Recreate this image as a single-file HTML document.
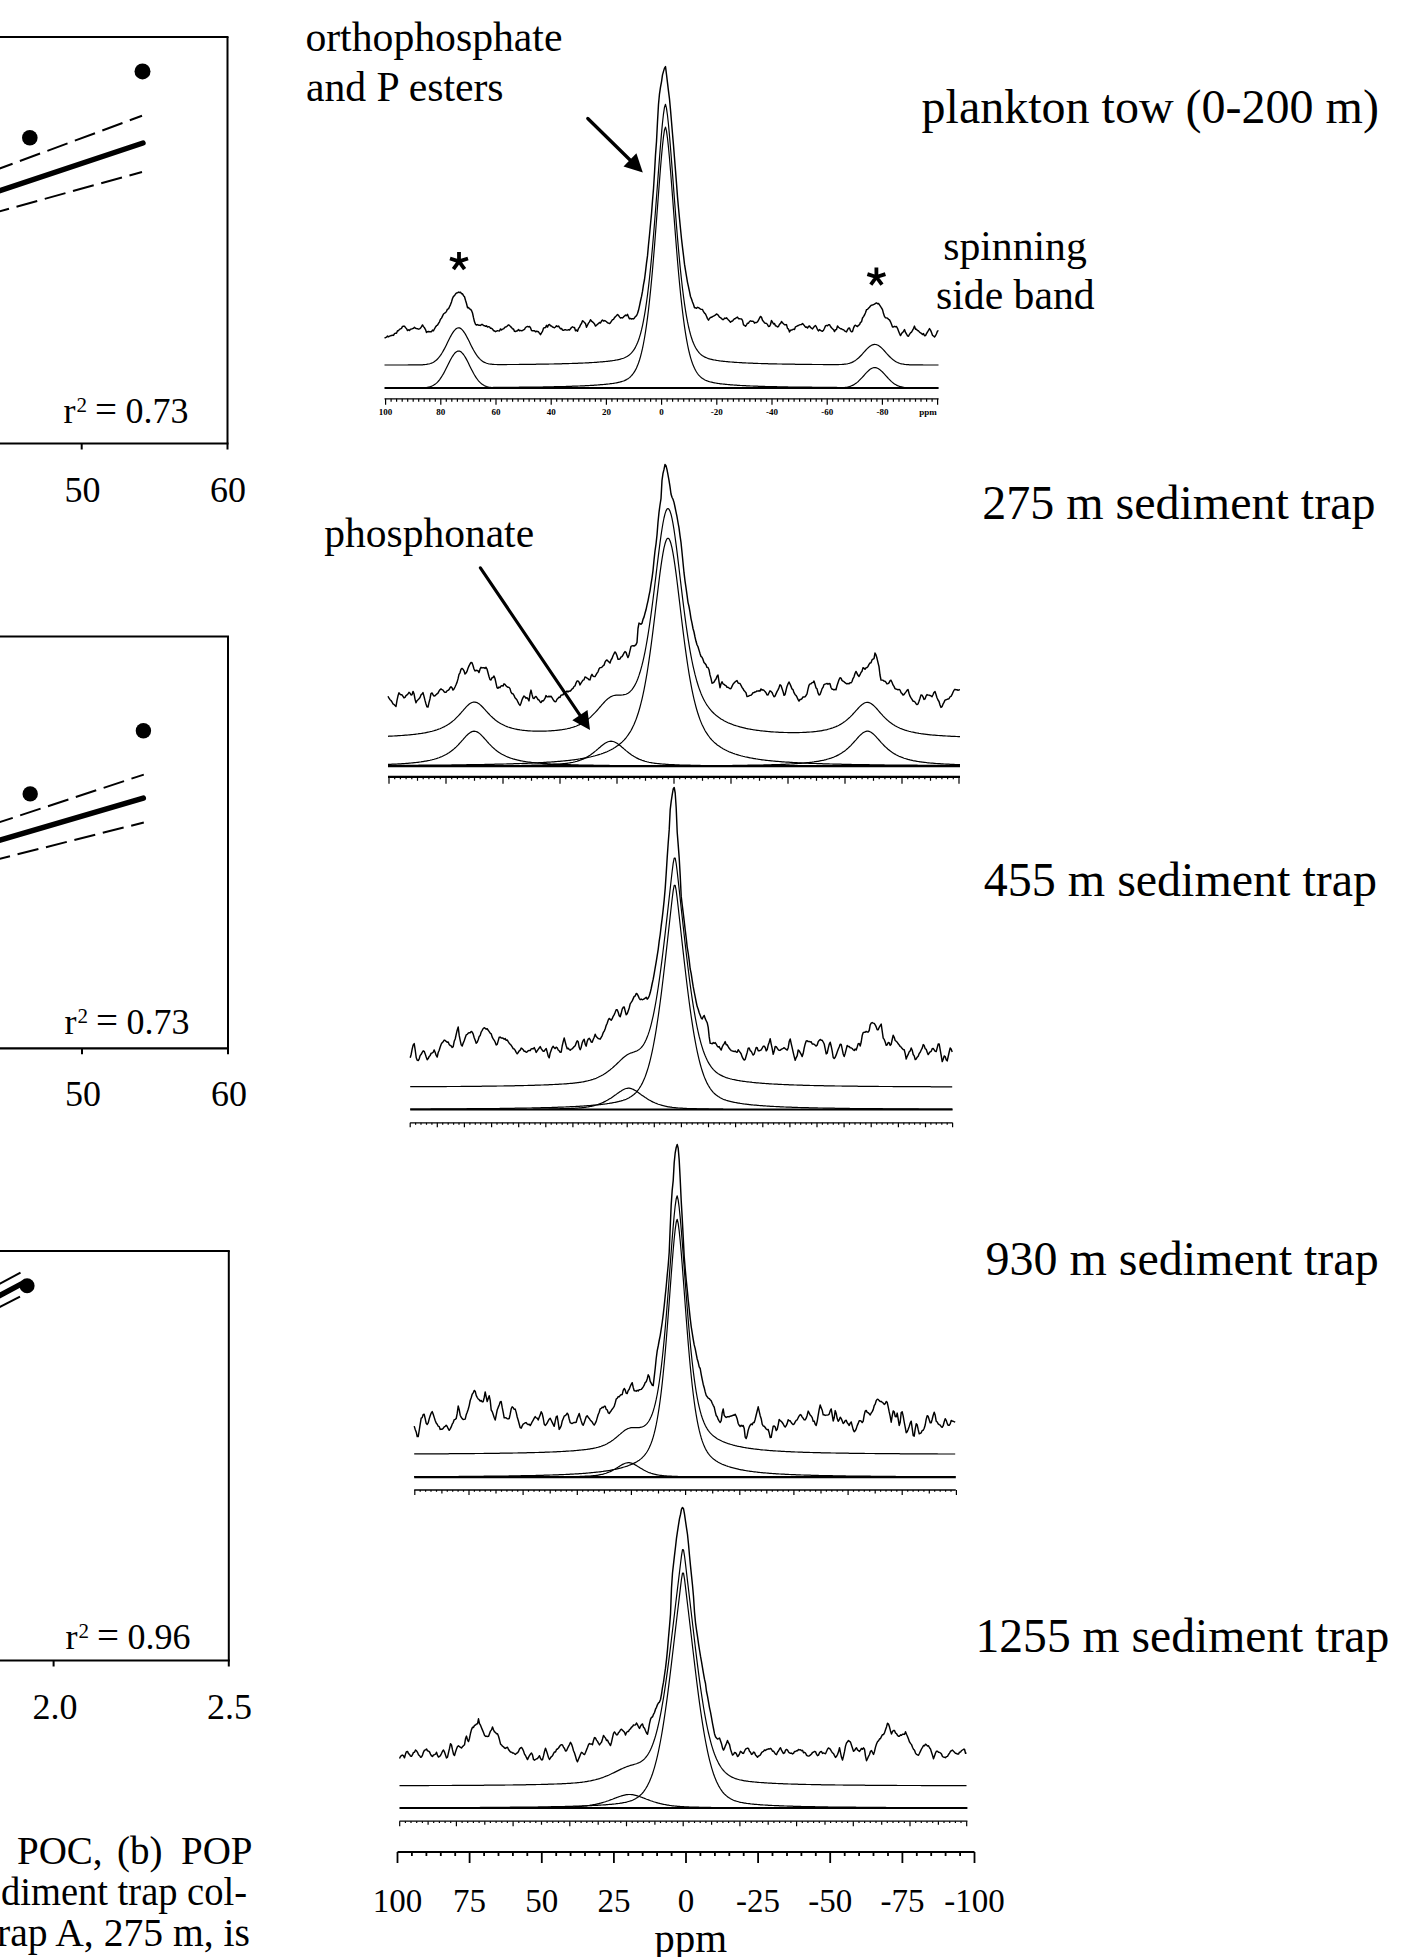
<!DOCTYPE html><html><head><meta charset="utf-8"><style>html,body{margin:0;padding:0;background:#fff;overflow:hidden}svg{display:block}</style></head><body><svg width="1407" height="1957" viewBox="0 0 1407 1957">
<rect width="1407" height="1957" fill="#fff"/>
<line x1="0" y1="37" x2="228.5" y2="37" stroke="#000" stroke-width="2"/>
<line x1="227.5" y1="37" x2="227.5" y2="449.5" stroke="#000" stroke-width="2"/>
<line x1="0" y1="443.5" x2="228.5" y2="443.5" stroke="#000" stroke-width="2.2"/>
<line x1="81.7" y1="443.5" x2="81.7" y2="449.5" stroke="#000" stroke-width="2"/>
<circle cx="142.5" cy="71.4" r="8" fill="#000"/>
<circle cx="29.8" cy="137.7" r="7.8" fill="#000"/>
<line x1="-5" y1="192.3" x2="143" y2="143" stroke="#000" stroke-width="5.5" stroke-linecap="round"/>
<line x1="142" y1="115.8" x2="-5" y2="170.2" stroke="#000" stroke-width="2" stroke-dasharray="21.5 7.8" stroke-dashoffset="8.5"/>
<line x1="142" y1="172" x2="-5" y2="212.6" stroke="#000" stroke-width="2" stroke-dasharray="21.5 7.8" stroke-dashoffset="8.5"/>
<text x="63.5" y="423.0" font-family='"Liberation Serif", serif' font-size="36" text-anchor="start" >r</text>
<text x="76.5" y="412.0" font-family='"Liberation Serif", serif' font-size="21" text-anchor="start" >2</text>
<text x="95.0" y="423.0" font-family='"Liberation Serif", serif' font-size="39" text-anchor="start" >=</text>
<text x="125.5" y="423.0" font-family='"Liberation Serif", serif' font-size="36" text-anchor="start" >0.73</text>
<text x="82.5" y="502.0" font-family='"Liberation Serif", serif' font-size="36" text-anchor="middle" >50</text>
<text x="228.0" y="502.0" font-family='"Liberation Serif", serif' font-size="36" text-anchor="middle" >60</text>
<line x1="0" y1="636.5" x2="229" y2="636.5" stroke="#000" stroke-width="2"/>
<line x1="228" y1="636.5" x2="228" y2="1054.3" stroke="#000" stroke-width="2"/>
<line x1="0" y1="1048.3" x2="229" y2="1048.3" stroke="#000" stroke-width="2.2"/>
<line x1="82" y1="1048.3" x2="82" y2="1054.3" stroke="#000" stroke-width="2"/>
<circle cx="143.4" cy="730.8" r="7.7" fill="#000"/>
<circle cx="30.2" cy="793.9" r="7.7" fill="#000"/>
<line x1="-5" y1="841.7" x2="143.3" y2="798.1" stroke="#000" stroke-width="5.5" stroke-linecap="round"/>
<line x1="143.8" y1="774.6" x2="-5" y2="823.7" stroke="#000" stroke-width="2" stroke-dasharray="21.5 7.8" stroke-dashoffset="8.5"/>
<line x1="143.8" y1="822.5" x2="-5" y2="860" stroke="#000" stroke-width="2" stroke-dasharray="21.5 7.8" stroke-dashoffset="8.5"/>
<text x="64.5" y="1034.0" font-family='"Liberation Serif", serif' font-size="36" text-anchor="start" >r</text>
<text x="77.5" y="1023.0" font-family='"Liberation Serif", serif' font-size="21" text-anchor="start" >2</text>
<text x="96.0" y="1034.0" font-family='"Liberation Serif", serif' font-size="39" text-anchor="start" >=</text>
<text x="126.5" y="1034.0" font-family='"Liberation Serif", serif' font-size="36" text-anchor="start" >0.73</text>
<text x="83.0" y="1106.0" font-family='"Liberation Serif", serif' font-size="36" text-anchor="middle" >50</text>
<text x="229.0" y="1106.0" font-family='"Liberation Serif", serif' font-size="36" text-anchor="middle" >60</text>
<line x1="0" y1="1251" x2="229.8" y2="1251" stroke="#000" stroke-width="2"/>
<line x1="228.8" y1="1251" x2="228.8" y2="1666.5" stroke="#000" stroke-width="2"/>
<line x1="0" y1="1660.5" x2="229.8" y2="1660.5" stroke="#000" stroke-width="2.2"/>
<line x1="53.6" y1="1660.5" x2="53.6" y2="1666.5" stroke="#000" stroke-width="2"/>
<circle cx="27.1" cy="1285.8" r="7.5" fill="#000"/>
<line x1="-5" y1="1298.2" x2="22" y2="1283.6" stroke="#000" stroke-width="5.5" stroke-linecap="round"/>
<line x1="20.5" y1="1272.6" x2="-5" y2="1286.2" stroke="#000" stroke-width="2" stroke-dasharray="100 0" stroke-dashoffset="0"/>
<line x1="20" y1="1296.7" x2="-5" y2="1309.5" stroke="#000" stroke-width="2" stroke-dasharray="100 0" stroke-dashoffset="0"/>
<text x="65.5" y="1648.5" font-family='"Liberation Serif", serif' font-size="36" text-anchor="start" >r</text>
<text x="78.5" y="1637.5" font-family='"Liberation Serif", serif' font-size="21" text-anchor="start" >2</text>
<text x="97.0" y="1648.5" font-family='"Liberation Serif", serif' font-size="39" text-anchor="start" >=</text>
<text x="127.5" y="1648.5" font-family='"Liberation Serif", serif' font-size="36" text-anchor="start" >0.96</text>
<text x="55.0" y="1718.5" font-family='"Liberation Serif", serif' font-size="36" text-anchor="middle" >2.0</text>
<text x="229.5" y="1718.5" font-family='"Liberation Serif", serif' font-size="36" text-anchor="middle" >2.5</text>
<text x="17.0" y="1863.7" font-family='"Liberation Serif", serif' font-size="39" text-anchor="start" >POC,</text>
<text x="117.0" y="1863.7" font-family='"Liberation Serif", serif' font-size="39" text-anchor="start" >(b)</text>
<text x="181.0" y="1863.7" font-family='"Liberation Serif", serif' font-size="39" text-anchor="start" >POP</text>
<text x="1.0" y="1905.3" font-family='"Liberation Serif", serif' font-size="39" text-anchor="start" textLength="246.0" lengthAdjust="spacingAndGlyphs" >diment trap col-</text>
<text x="-3.0" y="1945.8" font-family='"Liberation Serif", serif' font-size="39" text-anchor="start" textLength="253.0" lengthAdjust="spacingAndGlyphs" >rap A, 275 m, is</text>
<line x1="384.5" y1="398.8" x2="938.6" y2="398.8" stroke="#000" stroke-width="1.3"/>
<path d="M385.6,398.8v6 M391.1,398.8v3 M396.6,398.8v3 M402.2,398.8v3 M407.7,398.8v3 M413.2,398.8v3 M418.7,398.8v3 M424.2,398.8v3 M429.8,398.8v3 M435.3,398.8v3 M440.8,398.8v6 M446.3,398.8v3 M451.8,398.8v3 M457.4,398.8v3 M462.9,398.8v3 M468.4,398.8v3 M473.9,398.8v3 M479.4,398.8v3 M485.0,398.8v3 M490.5,398.8v3 M496.0,398.8v6 M501.5,398.8v3 M507.0,398.8v3 M512.6,398.8v3 M518.1,398.8v3 M523.6,398.8v3 M529.1,398.8v3 M534.6,398.8v3 M540.2,398.8v3 M545.7,398.8v3 M551.2,398.8v6 M556.7,398.8v3 M562.2,398.8v3 M567.8,398.8v3 M573.3,398.8v3 M578.8,398.8v3 M584.3,398.8v3 M589.8,398.8v3 M595.4,398.8v3 M600.9,398.8v3 M606.4,398.8v6 M611.9,398.8v3 M617.4,398.8v3 M623.0,398.8v3 M628.5,398.8v3 M634.0,398.8v3 M639.5,398.8v3 M645.0,398.8v3 M650.6,398.8v3 M656.1,398.8v3 M661.6,398.8v6 M667.1,398.8v3 M672.6,398.8v3 M678.2,398.8v3 M683.7,398.8v3 M689.2,398.8v3 M694.7,398.8v3 M700.2,398.8v3 M705.8,398.8v3 M711.3,398.8v3 M716.8,398.8v6 M722.3,398.8v3 M727.8,398.8v3 M733.4,398.8v3 M738.9,398.8v3 M744.4,398.8v3 M749.9,398.8v3 M755.4,398.8v3 M761.0,398.8v3 M766.5,398.8v3 M772.0,398.8v6 M777.5,398.8v3 M783.0,398.8v3 M788.6,398.8v3 M794.1,398.8v3 M799.6,398.8v3 M805.1,398.8v3 M810.6,398.8v3 M816.2,398.8v3 M821.7,398.8v3 M827.2,398.8v6 M832.7,398.8v3 M838.2,398.8v3 M843.8,398.8v3 M849.3,398.8v3 M854.8,398.8v3 M860.3,398.8v3 M865.8,398.8v3 M871.4,398.8v3 M876.9,398.8v3 M882.4,398.8v6 M887.9,398.8v3 M893.4,398.8v3 M899.0,398.8v3 M904.5,398.8v3 M910.0,398.8v3 M915.5,398.8v3 M921.0,398.8v3 M926.6,398.8v3 M932.1,398.8v3 M937.6,398.8v6" stroke="#000" stroke-width="1.2" fill="none"/>
<line x1="384.5" y1="388.0" x2="938.6" y2="388.0" stroke="#000" stroke-width="2.2"/>
<polyline points="462.5,387.6 463.5,387.6 464.5,387.6 465.5,387.6 466.5,387.6 467.5,387.6 468.5,387.6 469.5,387.6 470.5,387.6 471.5,387.6 472.5,387.6 473.5,387.6 474.5,387.6 475.5,387.5 476.5,387.5 477.5,387.5 478.5,387.5 479.5,387.5 480.5,387.5 481.5,387.5 482.5,387.5 483.5,387.5 484.5,387.5 485.5,387.5 486.5,387.5 487.5,387.5 488.5,387.5 489.5,387.5 490.5,387.5 491.5,387.5 492.5,387.5 493.5,387.4 494.5,387.4 495.5,387.4 496.5,387.4 497.5,387.4 498.5,387.4 499.5,387.4 500.5,387.4 501.5,387.4 502.5,387.4 503.5,387.4 504.5,387.4 505.5,387.4 506.5,387.4 507.5,387.4 508.5,387.3 509.5,387.3 510.5,387.3 511.5,387.3 512.5,387.3 513.5,387.3 514.5,387.3 515.5,387.3 516.5,387.3 517.5,387.3 518.5,387.3 519.5,387.2 520.5,387.2 521.5,387.2 522.5,387.2 523.5,387.2 524.5,387.2 525.5,387.2 526.5,387.2 527.5,387.2 528.5,387.1 529.5,387.1 530.5,387.1 531.5,387.1 532.5,387.1 533.5,387.1 534.5,387.1 535.5,387.1 536.5,387.0 537.5,387.0 538.5,387.0 539.5,387.0 540.5,387.0 541.5,387.0 542.5,387.0 543.5,386.9 544.5,386.9 545.5,386.9 546.5,386.9 547.5,386.9 548.5,386.9 549.5,386.8 550.5,386.8 551.5,386.8 552.5,386.8 553.5,386.8 554.5,386.7 555.5,386.7 556.5,386.7 557.5,386.7 558.5,386.6 559.5,386.6 560.5,386.6 561.5,386.6 562.5,386.5 563.5,386.5 564.5,386.5 565.5,386.5 566.5,386.4 567.5,386.4 568.5,386.4 569.5,386.3 570.5,386.3 571.5,386.3 572.5,386.2 573.5,386.2 574.5,386.2 575.5,386.1 576.5,386.1 577.5,386.1 578.5,386.0 579.5,386.0 580.5,385.9 581.5,385.9 582.5,385.9 583.5,385.8 584.5,385.8 585.5,385.7 586.5,385.7 587.5,385.6 588.5,385.6 589.5,385.5 590.5,385.4 591.5,385.4 592.5,385.3 593.5,385.3 594.5,385.2 595.5,385.1 596.5,385.1 597.5,385.0 598.5,384.9 599.5,384.8 600.5,384.7 601.5,384.7 602.5,384.6 603.5,384.5 604.5,384.4 605.5,384.3 606.5,384.2 607.5,384.1 608.5,384.0 609.5,383.9 610.5,383.7 611.5,383.6 612.5,383.5 613.5,383.3 614.5,383.2 615.5,383.0 616.5,382.8 617.5,382.6 618.5,382.4 619.5,382.2 620.5,381.9 621.5,381.6 622.5,381.3 623.5,381.0 624.5,380.6 625.5,380.1 626.5,379.6 627.5,379.0 628.5,378.4 629.5,377.6 630.5,376.7 631.5,375.7 632.5,374.5 633.5,373.2 634.5,371.7 635.5,369.9 636.5,367.9 637.5,365.6 638.5,363.0 639.5,360.0 640.5,356.6 641.5,352.7 642.5,348.4 643.5,343.5 644.5,338.0 645.5,331.9 646.5,325.2 647.5,317.8 648.5,309.7 649.5,300.8 650.5,291.2 651.5,280.9 652.5,269.9 653.5,258.3 654.5,246.1 655.5,233.3 656.5,220.3 657.5,207.0 658.5,193.7 659.5,180.6 660.5,168.0 661.5,156.2 662.5,145.6 663.5,136.6 664.5,129.9 665.5,127.1 666.5,131.1 667.5,138.3 668.5,147.6 669.5,158.5 670.5,170.5 671.5,183.2 672.5,196.4 673.5,209.7 674.5,222.9 675.5,235.9 676.5,248.5 677.5,260.7 678.5,272.2 679.5,283.0 680.5,293.2 681.5,302.6 682.5,311.3 683.5,319.3 684.5,326.6 685.5,333.2 686.5,339.1 687.5,344.5 688.5,349.3 689.5,353.5 690.5,357.3 691.5,360.6 692.5,363.5 693.5,366.1 694.5,368.3 695.5,370.3 696.5,372.0 697.5,373.5 698.5,374.8 699.5,375.9 700.5,376.9 701.5,377.8 702.5,378.5 703.5,379.1 704.5,379.7 705.5,380.2 706.5,380.6 707.5,381.0 708.5,381.4 709.5,381.7 710.5,382.0 711.5,382.2 712.5,382.4 713.5,382.7 714.5,382.8 715.5,383.0 716.5,383.2 717.5,383.3 718.5,383.5 719.5,383.6 720.5,383.8 721.5,383.9 722.5,384.0 723.5,384.1 724.5,384.2 725.5,384.3 726.5,384.4 727.5,384.5 728.5,384.6 729.5,384.7 730.5,384.8 731.5,384.8 732.5,384.9 733.5,385.0 734.5,385.1 735.5,385.1 736.5,385.2 737.5,385.3 738.5,385.3 739.5,385.4 740.5,385.5 741.5,385.5 742.5,385.6 743.5,385.6 744.5,385.7 745.5,385.7 746.5,385.8 747.5,385.8 748.5,385.9 749.5,385.9 750.5,386.0 751.5,386.0 752.5,386.0 753.5,386.1 754.5,386.1 755.5,386.1 756.5,386.2 757.5,386.2 758.5,386.3 759.5,386.3 760.5,386.3 761.5,386.4 762.5,386.4 763.5,386.4 764.5,386.4 765.5,386.5 766.5,386.5 767.5,386.5 768.5,386.6 769.5,386.6 770.5,386.6 771.5,386.6 772.5,386.6 773.5,386.7 774.5,386.7 775.5,386.7 776.5,386.7 777.5,386.8 778.5,386.8 779.5,386.8 780.5,386.8 781.5,386.8 782.5,386.9 783.5,386.9 784.5,386.9 785.5,386.9 786.5,386.9 787.5,386.9 788.5,387.0 789.5,387.0 790.5,387.0 791.5,387.0 792.5,387.0 793.5,387.0 794.5,387.0 795.5,387.1 796.5,387.1 797.5,387.1 798.5,387.1 799.5,387.1 800.5,387.1 801.5,387.1 802.5,387.1 803.5,387.2 804.5,387.2 805.5,387.2 806.5,387.2 807.5,387.2 808.5,387.2 809.5,387.2 810.5,387.2 811.5,387.2 812.5,387.3 813.5,387.3 814.5,387.3 815.5,387.3 816.5,387.3 817.5,387.3 818.5,387.3 819.5,387.3 820.5,387.3 821.5,387.3 822.5,387.3 823.5,387.4 824.5,387.4 825.5,387.4 826.5,387.4 827.5,387.4 828.5,387.4 829.5,387.4 830.5,387.4 831.5,387.4 832.5,387.4 833.5,387.4 834.5,387.4 835.5,387.4 836.5,387.4 837.5,387.5 838.5,387.5 839.5,387.5 840.5,387.5 841.5,387.5 842.5,387.5 843.5,387.5 844.5,387.5 845.5,387.5 846.5,387.5 847.5,387.5 848.5,387.5 849.5,387.5 850.5,387.5 851.5,387.5 852.5,387.5 853.5,387.5 854.5,387.5 855.5,387.5 856.5,387.6 857.5,387.6 858.5,387.6 859.5,387.6 860.5,387.6 861.5,387.6 862.5,387.6 863.5,387.6 864.5,387.6 865.5,387.6 866.5,387.6 867.5,387.6 868.5,387.6" fill="none" stroke="#000" stroke-width="1.2" stroke-linejoin="round" />
<polyline points="425.5,387.6 426.5,387.5 427.5,387.3 428.5,387.1 429.5,386.9 430.5,386.6 431.5,386.2 432.5,385.8 433.5,385.3 434.5,384.6 435.5,383.9 436.5,383.1 437.5,382.1 438.5,381.0 439.5,379.8 440.5,378.4 441.5,376.9 442.5,375.3 443.5,373.6 444.5,371.7 445.5,369.8 446.5,367.8 447.5,365.8 448.5,363.7 449.5,361.7 450.5,359.8 451.5,358.0 452.5,356.3 453.5,354.8 454.5,353.5 455.5,352.4 456.5,351.7 457.5,351.2 458.5,351.0 459.5,351.1 460.5,351.5 461.5,352.3 462.5,353.3 463.5,354.5 464.5,356.0 465.5,357.6 466.5,359.4 467.5,361.3 468.5,363.3 469.5,365.4 470.5,367.4 471.5,369.4 472.5,371.3 473.5,373.2 474.5,375.0 475.5,376.6 476.5,378.2 477.5,379.5 478.5,380.8 479.5,381.9 480.5,382.9 481.5,383.8 482.5,384.5 483.5,385.1 484.5,385.7 485.5,386.1 486.5,386.5 487.5,386.8 488.5,387.1 489.5,387.3 490.5,387.4 491.5,387.6 492.5,387.7" fill="none" stroke="#000" stroke-width="1.2" stroke-linejoin="round" />
<polyline points="843.5,387.6 844.5,387.5 845.5,387.4 846.5,387.3 847.5,387.1 848.5,386.8 849.5,386.6 850.5,386.2 851.5,385.8 852.5,385.4 853.5,384.9 854.5,384.3 855.5,383.6 856.5,382.9 857.5,382.1 858.5,381.2 859.5,380.2 860.5,379.2 861.5,378.2 862.5,377.1 863.5,376.0 864.5,374.8 865.5,373.7 866.5,372.7 867.5,371.6 868.5,370.7 869.5,369.8 870.5,369.1 871.5,368.5 872.5,368.0 873.5,367.7 874.5,367.6 875.5,367.6 876.5,367.8 877.5,368.2 878.5,368.7 879.5,369.4 880.5,370.2 881.5,371.1 882.5,372.0 883.5,373.1 884.5,374.2 885.5,375.3 886.5,376.4 887.5,377.5 888.5,378.6 889.5,379.6 890.5,380.6 891.5,381.6 892.5,382.4 893.5,383.2 894.5,383.9 895.5,384.5 896.5,385.1 897.5,385.6 898.5,386.0 899.5,386.4 900.5,386.7 901.5,386.9 902.5,387.1 903.5,387.3 904.5,387.5 905.5,387.6 906.5,387.7" fill="none" stroke="#000" stroke-width="1.2" stroke-linejoin="round" />
<polyline points="384.5,365.0 385.5,365.0 386.5,365.0 387.5,365.0 388.5,365.0 389.5,365.0 390.5,365.0 391.5,365.0 392.5,365.0 393.5,365.0 394.5,365.0 395.5,365.0 396.5,365.0 397.5,365.0 398.5,365.0 399.5,365.0 400.5,365.0 401.5,365.0 402.5,365.0 403.5,365.0 404.5,365.0 405.5,365.0 406.5,365.0 407.5,365.0 408.5,364.9 409.5,364.9 410.5,364.9 411.5,364.9 412.5,364.9 413.5,364.9 414.5,364.9 415.5,364.9 416.5,364.9 417.5,364.9 418.5,364.9 419.5,364.9 420.5,364.8 421.5,364.8 422.5,364.8 423.5,364.7 424.5,364.6 425.5,364.5 426.5,364.4 427.5,364.2 428.5,364.0 429.5,363.8 430.5,363.5 431.5,363.1 432.5,362.7 433.5,362.2 434.5,361.5 435.5,360.8 436.5,360.0 437.5,359.0 438.5,357.9 439.5,356.7 440.5,355.3 441.5,353.8 442.5,352.2 443.5,350.4 444.5,348.6 445.5,346.7 446.5,344.7 447.5,342.6 448.5,340.6 449.5,338.6 450.5,336.6 451.5,334.8 452.5,333.1 453.5,331.6 454.5,330.3 455.5,329.3 456.5,328.5 457.5,328.0 458.5,327.8 459.5,327.9 460.5,328.4 461.5,329.1 462.5,330.1 463.5,331.3 464.5,332.8 465.5,334.4 466.5,336.2 467.5,338.1 468.5,340.1 469.5,342.1 470.5,344.2 471.5,346.2 472.5,348.1 473.5,350.0 474.5,351.7 475.5,353.4 476.5,354.9 477.5,356.3 478.5,357.5 479.5,358.6 480.5,359.6 481.5,360.5 482.5,361.2 483.5,361.9 484.5,362.4 485.5,362.8 486.5,363.2 487.5,363.5 488.5,363.8 489.5,364.0 490.5,364.1 491.5,364.2 492.5,364.3 493.5,364.4 494.5,364.5 495.5,364.5 496.5,364.5 497.5,364.6 498.5,364.6 499.5,364.6 500.5,364.6 501.5,364.6 502.5,364.6 503.5,364.6 504.5,364.6 505.5,364.6 506.5,364.6 507.5,364.5 508.5,364.5 509.5,364.5 510.5,364.5 511.5,364.5 512.5,364.5 513.5,364.5 514.5,364.5 515.5,364.5 516.5,364.5 517.5,364.5 518.5,364.5 519.5,364.4 520.5,364.4 521.5,364.4 522.5,364.4 523.5,364.4 524.5,364.4 525.5,364.4 526.5,364.4 527.5,364.4 528.5,364.3 529.5,364.3 530.5,364.3 531.5,364.3 532.5,364.3 533.5,364.3 534.5,364.3 535.5,364.3 536.5,364.2 537.5,364.2 538.5,364.2 539.5,364.2 540.5,364.2 541.5,364.2 542.5,364.2 543.5,364.1 544.5,364.1 545.5,364.1 546.5,364.1 547.5,364.1 548.5,364.1 549.5,364.0 550.5,364.0 551.5,364.0 552.5,364.0 553.5,364.0 554.5,363.9 555.5,363.9 556.5,363.9 557.5,363.9 558.5,363.8 559.5,363.8 560.5,363.8 561.5,363.8 562.5,363.7 563.5,363.7 564.5,363.7 565.5,363.7 566.5,363.6 567.5,363.6 568.5,363.6 569.5,363.5 570.5,363.5 571.5,363.5 572.5,363.4 573.5,363.4 574.5,363.4 575.5,363.3 576.5,363.3 577.5,363.3 578.5,363.2 579.5,363.2 580.5,363.1 581.5,363.1 582.5,363.1 583.5,363.0 584.5,363.0 585.5,362.9 586.5,362.9 587.5,362.8 588.5,362.8 589.5,362.7 590.5,362.6 591.5,362.6 592.5,362.5 593.5,362.5 594.5,362.4 595.5,362.3 596.5,362.3 597.5,362.2 598.5,362.1 599.5,362.0 600.5,361.9 601.5,361.9 602.5,361.8 603.5,361.7 604.5,361.6 605.5,361.5 606.5,361.4 607.5,361.3 608.5,361.2 609.5,361.1 610.5,360.9 611.5,360.8 612.5,360.7 613.5,360.5 614.5,360.4 615.5,360.2 616.5,360.0 617.5,359.8 618.5,359.6 619.5,359.4 620.5,359.1 621.5,358.8 622.5,358.5 623.5,358.2 624.5,357.8 625.5,357.3 626.5,356.8 627.5,356.2 628.5,355.6 629.5,354.8 630.5,353.9 631.5,352.9 632.5,351.7 633.5,350.4 634.5,348.9 635.5,347.1 636.5,345.1 637.5,342.8 638.5,340.2 639.5,337.2 640.5,333.8 641.5,329.9 642.5,325.6 643.5,320.7 644.5,315.2 645.5,309.1 646.5,302.4 647.5,295.0 648.5,286.9 649.5,278.0 650.5,268.4 651.5,258.1 652.5,247.1 653.5,235.5 654.5,223.3 655.5,210.5 656.5,197.5 657.5,184.2 658.5,170.9 659.5,157.8 660.5,145.2 661.5,133.4 662.5,122.8 663.5,113.8 664.5,107.1 665.5,104.3 666.5,108.3 667.5,115.5 668.5,124.8 669.5,135.7 670.5,147.7 671.5,160.4 672.5,173.6 673.5,186.9 674.5,200.1 675.5,213.1 676.5,225.7 677.5,237.9 678.5,249.4 679.5,260.2 680.5,270.4 681.5,279.8 682.5,288.5 683.5,296.5 684.5,303.8 685.5,310.4 686.5,316.3 687.5,321.7 688.5,326.5 689.5,330.7 690.5,334.5 691.5,337.8 692.5,340.7 693.5,343.3 694.5,345.5 695.5,347.5 696.5,349.2 697.5,350.7 698.5,352.0 699.5,353.1 700.5,354.1 701.5,355.0 702.5,355.7 703.5,356.3 704.5,356.9 705.5,357.4 706.5,357.8 707.5,358.2 708.5,358.6 709.5,358.9 710.5,359.2 711.5,359.4 712.5,359.6 713.5,359.9 714.5,360.0 715.5,360.2 716.5,360.4 717.5,360.5 718.5,360.7 719.5,360.8 720.5,361.0 721.5,361.1 722.5,361.2 723.5,361.3 724.5,361.4 725.5,361.5 726.5,361.6 727.5,361.7 728.5,361.8 729.5,361.9 730.5,362.0 731.5,362.0 732.5,362.1 733.5,362.2 734.5,362.3 735.5,362.3 736.5,362.4 737.5,362.5 738.5,362.5 739.5,362.6 740.5,362.7 741.5,362.7 742.5,362.8 743.5,362.8 744.5,362.9 745.5,362.9 746.5,363.0 747.5,363.0 748.5,363.1 749.5,363.1 750.5,363.2 751.5,363.2 752.5,363.2 753.5,363.3 754.5,363.3 755.5,363.3 756.5,363.4 757.5,363.4 758.5,363.5 759.5,363.5 760.5,363.5 761.5,363.6 762.5,363.6 763.5,363.6 764.5,363.6 765.5,363.7 766.5,363.7 767.5,363.7 768.5,363.8 769.5,363.8 770.5,363.8 771.5,363.8 772.5,363.8 773.5,363.9 774.5,363.9 775.5,363.9 776.5,363.9 777.5,364.0 778.5,364.0 779.5,364.0 780.5,364.0 781.5,364.0 782.5,364.1 783.5,364.1 784.5,364.1 785.5,364.1 786.5,364.1 787.5,364.1 788.5,364.2 789.5,364.2 790.5,364.2 791.5,364.2 792.5,364.2 793.5,364.2 794.5,364.2 795.5,364.3 796.5,364.3 797.5,364.3 798.5,364.3 799.5,364.3 800.5,364.3 801.5,364.3 802.5,364.3 803.5,364.4 804.5,364.4 805.5,364.4 806.5,364.4 807.5,364.4 808.5,364.4 809.5,364.4 810.5,364.4 811.5,364.4 812.5,364.5 813.5,364.5 814.5,364.5 815.5,364.5 816.5,364.5 817.5,364.5 818.5,364.5 819.5,364.5 820.5,364.5 821.5,364.5 822.5,364.5 823.5,364.6 824.5,364.6 825.5,364.6 826.5,364.6 827.5,364.6 828.5,364.6 829.5,364.6 830.5,364.6 831.5,364.6 832.5,364.6 833.5,364.6 834.5,364.6 835.5,364.6 836.5,364.6 837.5,364.6 838.5,364.6 839.5,364.5 840.5,364.5 841.5,364.5 842.5,364.4 843.5,364.3 844.5,364.2 845.5,364.1 846.5,364.0 847.5,363.8 848.5,363.5 849.5,363.3 850.5,362.9 851.5,362.6 852.5,362.1 853.5,361.6 854.5,361.0 855.5,360.4 856.5,359.6 857.5,358.8 858.5,358.0 859.5,357.0 860.5,356.0 861.5,355.0 862.5,353.9 863.5,352.7 864.5,351.6 865.5,350.5 866.5,349.4 867.5,348.4 868.5,347.5 869.5,346.6 870.5,345.9 871.5,345.3 872.5,344.9 873.5,344.6 874.5,344.4 875.5,344.5 876.5,344.7 877.5,345.0 878.5,345.6 879.5,346.2 880.5,347.0 881.5,347.9 882.5,348.9 883.5,349.9 884.5,351.0 885.5,352.1 886.5,353.3 887.5,354.4 888.5,355.5 889.5,356.5 890.5,357.5 891.5,358.4 892.5,359.3 893.5,360.1 894.5,360.8 895.5,361.4 896.5,362.0 897.5,362.5 898.5,362.9 899.5,363.3 900.5,363.6 901.5,363.8 902.5,364.0 903.5,364.2 904.5,364.4 905.5,364.5 906.5,364.6 907.5,364.7 908.5,364.7 909.5,364.8 910.5,364.8 911.5,364.8 912.5,364.9 913.5,364.9 914.5,364.9 915.5,364.9 916.5,364.9 917.5,364.9 918.5,364.9 919.5,364.9 920.5,364.9 921.5,364.9 922.5,364.9 923.5,365.0 924.5,365.0 925.5,365.0 926.5,365.0 927.5,365.0 928.5,365.0 929.5,365.0 930.5,365.0 931.5,365.0 932.5,365.0 933.5,365.0 934.5,365.0 935.5,365.0 936.5,365.0 937.5,365.0 938.5,365.0" fill="none" stroke="#000" stroke-width="1.2" stroke-linejoin="round" />
<polyline points="384.5,337.8 385.5,337.7 386.5,337.2 387.5,336.1 388.5,336.8 389.5,336.2 390.5,335.8 391.5,335.5 392.5,335.2 393.5,335.4 394.5,333.6 395.5,333.2 396.5,333.2 397.5,330.7 398.5,330.7 399.5,329.3 400.5,328.8 401.5,328.3 402.5,326.4 403.5,326.1 404.5,326.2 405.5,327.7 406.5,328.5 407.5,330.6 408.5,329.7 409.5,330.5 410.5,329.1 411.5,329.1 412.5,328.6 413.5,328.3 414.5,327.3 415.5,328.2 416.5,328.5 417.5,328.7 418.5,329.2 419.5,328.8 420.5,328.2 421.5,326.7 422.5,324.9 423.5,326.6 424.5,327.8 425.5,329.6 426.5,332.4 427.5,331.7 428.5,331.5 429.5,331.8 430.5,331.7 431.5,331.7 432.5,330.1 433.5,330.8 434.5,328.8 435.5,327.0 436.5,325.7 437.5,325.2 438.5,323.4 439.5,321.8 440.5,319.3 441.5,318.1 442.5,316.1 443.5,314.0 444.5,313.2 445.5,312.7 446.5,311.3 447.5,309.1 448.5,308.9 449.5,306.8 450.5,304.6 451.5,301.9 452.5,298.5 453.5,296.4 454.5,295.7 455.5,294.0 456.5,292.9 457.5,292.8 458.5,292.1 459.5,292.5 460.5,292.2 461.5,293.7 462.5,293.8 463.5,295.7 464.5,296.7 465.5,300.3 466.5,303.5 467.5,307.7 468.5,307.5 469.5,308.9 470.5,309.2 471.5,310.5 472.5,313.0 473.5,317.7 474.5,321.8 475.5,324.2 476.5,325.1 477.5,324.6 478.5,325.2 479.5,325.2 480.5,325.4 481.5,324.4 482.5,324.5 483.5,325.5 484.5,325.6 485.5,326.3 486.5,325.8 487.5,327.1 488.5,326.7 489.5,326.9 490.5,328.2 491.5,328.3 492.5,329.1 493.5,330.5 494.5,331.0 495.5,331.7 496.5,331.1 497.5,330.7 498.5,330.9 499.5,331.0 500.5,328.9 501.5,329.9 502.5,329.1 503.5,328.9 504.5,327.8 505.5,326.9 506.5,326.7 507.5,325.8 508.5,324.9 509.5,325.4 510.5,326.6 511.5,327.4 512.5,328.8 513.5,329.0 514.5,331.4 515.5,331.5 516.5,331.0 517.5,330.7 518.5,329.5 519.5,330.7 520.5,330.4 521.5,330.7 522.5,330.6 523.5,329.8 524.5,329.3 525.5,327.5 526.5,326.9 527.5,326.4 528.5,326.9 529.5,326.5 530.5,327.7 531.5,330.5 532.5,330.7 533.5,330.6 534.5,330.7 535.5,331.8 536.5,331.2 537.5,331.5 538.5,331.8 539.5,333.3 540.5,334.7 541.5,332.8 542.5,331.4 543.5,328.2 544.5,327.7 545.5,327.6 546.5,325.3 547.5,327.1 548.5,324.9 549.5,324.4 550.5,325.7 551.5,326.0 552.5,327.0 553.5,327.3 554.5,327.8 555.5,327.0 556.5,325.7 557.5,326.6 558.5,326.0 559.5,327.5 560.5,328.7 561.5,328.4 562.5,330.0 563.5,330.3 564.5,329.8 565.5,329.7 566.5,330.1 567.5,330.1 568.5,329.7 569.5,330.0 570.5,328.8 571.5,327.5 572.5,326.7 573.5,327.5 574.5,327.5 575.5,330.7 576.5,330.1 577.5,331.2 578.5,328.4 579.5,327.2 580.5,324.9 581.5,323.5 582.5,320.8 583.5,321.4 584.5,322.6 585.5,323.5 586.5,327.3 587.5,325.2 588.5,323.1 589.5,321.9 590.5,319.7 591.5,321.1 592.5,321.9 593.5,322.8 594.5,323.9 595.5,326.1 596.5,325.3 597.5,324.2 598.5,323.6 599.5,322.5 600.5,323.0 601.5,321.1 602.5,320.0 603.5,321.1 604.5,320.6 605.5,321.0 606.5,321.8 607.5,322.8 608.5,323.1 609.5,323.6 610.5,322.7 611.5,321.2 612.5,319.7 613.5,319.4 614.5,317.7 615.5,316.5 616.5,315.7 617.5,314.5 618.5,315.3 619.5,316.9 620.5,318.1 621.5,317.7 622.5,317.9 623.5,316.9 624.5,316.0 625.5,315.1 626.5,315.7 627.5,314.3 628.5,316.9 629.5,318.8 630.5,318.4 631.5,319.1 632.5,318.7 633.5,318.9 634.5,318.0 635.5,316.3 636.5,315.8 637.5,313.5 638.5,310.3 639.5,305.8 640.5,301.0 641.5,296.7 642.5,291.4 643.5,284.6 644.5,279.5 645.5,271.7 646.5,263.2 647.5,255.9 648.5,244.8 649.5,235.0 650.5,224.3 651.5,213.9 652.5,200.8 653.5,188.7 654.5,173.0 655.5,154.9 656.5,141.5 657.5,121.8 658.5,104.3 659.5,93.8 660.5,87.1 661.5,81.8 662.5,74.9 663.5,71.4 664.5,68.1 665.5,66.6 666.5,74.5 667.5,82.9 668.5,91.1 669.5,99.0 670.5,109.9 671.5,121.7 672.5,133.7 673.5,145.4 674.5,158.0 675.5,170.6 676.5,183.4 677.5,196.9 678.5,208.0 679.5,218.5 680.5,228.7 681.5,238.8 682.5,247.3 683.5,255.5 684.5,264.2 685.5,270.4 686.5,276.3 687.5,282.3 688.5,286.9 689.5,291.7 690.5,296.5 691.5,299.1 692.5,302.0 693.5,304.5 694.5,307.7 695.5,307.8 696.5,308.3 697.5,307.3 698.5,307.7 699.5,308.3 700.5,309.1 701.5,309.4 702.5,309.5 703.5,311.7 704.5,313.1 705.5,314.0 706.5,316.2 707.5,318.6 708.5,320.2 709.5,318.5 710.5,317.5 711.5,317.3 712.5,316.6 713.5,316.1 714.5,315.7 715.5,314.9 716.5,313.9 717.5,314.6 718.5,315.6 719.5,317.1 720.5,317.6 721.5,318.5 722.5,319.6 723.5,319.6 724.5,318.1 725.5,318.4 726.5,317.8 727.5,318.9 728.5,320.1 729.5,321.1 730.5,322.3 731.5,321.3 732.5,321.1 733.5,319.8 734.5,318.8 735.5,318.6 736.5,317.6 737.5,317.1 738.5,318.7 739.5,318.7 740.5,318.9 741.5,319.0 742.5,320.4 743.5,324.8 744.5,325.4 745.5,326.3 746.5,324.8 747.5,323.2 748.5,323.2 749.5,321.5 750.5,320.8 751.5,321.3 752.5,321.3 753.5,321.4 754.5,323.2 755.5,322.5 756.5,322.6 757.5,321.8 758.5,320.2 759.5,318.1 760.5,316.4 761.5,317.3 762.5,320.3 763.5,321.4 764.5,322.9 765.5,323.3 766.5,323.4 767.5,324.6 768.5,326.5 769.5,326.3 770.5,324.5 771.5,320.5 772.5,322.2 773.5,324.0 774.5,323.5 775.5,325.9 776.5,326.0 777.5,326.9 778.5,326.5 779.5,324.2 780.5,323.6 781.5,321.5 782.5,322.7 783.5,323.8 784.5,324.7 785.5,324.8 786.5,324.6 787.5,328.4 788.5,329.1 789.5,331.9 790.5,330.3 791.5,330.0 792.5,329.7 793.5,329.2 794.5,329.6 795.5,326.8 796.5,326.4 797.5,325.8 798.5,325.5 799.5,324.9 800.5,324.6 801.5,324.6 802.5,323.6 803.5,324.6 804.5,325.8 805.5,327.2 806.5,327.0 807.5,328.1 808.5,326.5 809.5,326.0 810.5,327.4 811.5,328.2 812.5,328.9 813.5,327.6 814.5,326.3 815.5,325.5 816.5,327.2 817.5,329.5 818.5,330.9 819.5,329.6 820.5,330.4 821.5,331.0 822.5,331.2 823.5,330.2 824.5,328.2 825.5,325.9 826.5,325.4 827.5,325.8 828.5,324.7 829.5,324.7 830.5,326.5 831.5,327.8 832.5,328.8 833.5,329.5 834.5,331.6 835.5,329.7 836.5,329.5 837.5,325.9 838.5,327.2 839.5,328.0 840.5,328.8 841.5,328.8 842.5,329.6 843.5,329.6 844.5,330.8 845.5,331.3 846.5,331.9 847.5,329.8 848.5,328.1 849.5,327.9 850.5,330.7 851.5,331.7 852.5,331.5 853.5,328.1 854.5,325.9 855.5,325.2 856.5,326.0 857.5,326.5 858.5,325.2 859.5,324.8 860.5,322.4 861.5,321.9 862.5,318.0 863.5,316.6 864.5,315.0 865.5,312.7 866.5,309.7 867.5,309.4 868.5,308.2 869.5,307.2 870.5,306.0 871.5,305.1 872.5,305.0 873.5,304.6 874.5,304.2 875.5,303.4 876.5,302.9 877.5,303.7 878.5,303.5 879.5,304.9 880.5,306.3 881.5,308.0 882.5,309.6 883.5,313.6 884.5,316.4 885.5,317.8 886.5,317.9 887.5,318.2 888.5,319.3 889.5,319.9 890.5,321.8 891.5,324.3 892.5,326.9 893.5,326.9 894.5,326.3 895.5,326.8 896.5,326.5 897.5,328.3 898.5,330.9 899.5,333.5 900.5,335.6 901.5,333.6 902.5,332.5 903.5,331.4 904.5,329.6 905.5,332.4 906.5,334.0 907.5,335.8 908.5,336.3 909.5,334.3 910.5,332.9 911.5,332.1 912.5,330.4 913.5,328.5 914.5,326.1 915.5,329.2 916.5,329.3 917.5,330.6 918.5,330.8 919.5,332.2 920.5,332.8 921.5,333.4 922.5,334.4 923.5,333.6 924.5,335.7 925.5,335.6 926.5,333.6 927.5,332.0 928.5,330.3 929.5,328.6 930.5,330.1 931.5,332.4 932.5,335.3 933.5,336.0 934.5,336.9 935.5,335.8 936.5,333.8 937.5,331.1 938.5,330.5" fill="none" stroke="#000" stroke-width="1.45" stroke-linejoin="round" />
<line x1="388" y1="776.8" x2="960" y2="776.8" stroke="#000" stroke-width="2.2"/>
<path d="M389.0,776.8v7 M394.7,776.8v2.5 M400.4,776.8v2.5 M406.1,776.8v2.5 M411.8,776.8v2.5 M417.5,776.8v4 M423.2,776.8v2.5 M428.9,776.8v2.5 M434.6,776.8v2.5 M440.3,776.8v2.5 M446.0,776.8v7 M451.7,776.8v2.5 M457.4,776.8v2.5 M463.1,776.8v2.5 M468.8,776.8v2.5 M474.5,776.8v4 M480.2,776.8v2.5 M485.9,776.8v2.5 M491.6,776.8v2.5 M497.3,776.8v2.5 M503.0,776.8v7 M508.7,776.8v2.5 M514.4,776.8v2.5 M520.1,776.8v2.5 M525.8,776.8v2.5 M531.5,776.8v4 M537.2,776.8v2.5 M542.9,776.8v2.5 M548.6,776.8v2.5 M554.3,776.8v2.5 M560.0,776.8v7 M565.7,776.8v2.5 M571.4,776.8v2.5 M577.1,776.8v2.5 M582.8,776.8v2.5 M588.5,776.8v4 M594.2,776.8v2.5 M599.9,776.8v2.5 M605.6,776.8v2.5 M611.3,776.8v2.5 M617.0,776.8v7 M622.7,776.8v2.5 M628.4,776.8v2.5 M634.1,776.8v2.5 M639.8,776.8v2.5 M645.5,776.8v4 M651.2,776.8v2.5 M656.9,776.8v2.5 M662.6,776.8v2.5 M668.3,776.8v2.5 M674.0,776.8v7 M679.7,776.8v2.5 M685.4,776.8v2.5 M691.1,776.8v2.5 M696.8,776.8v2.5 M702.5,776.8v4 M708.2,776.8v2.5 M713.9,776.8v2.5 M719.6,776.8v2.5 M725.3,776.8v2.5 M731.0,776.8v7 M736.7,776.8v2.5 M742.4,776.8v2.5 M748.1,776.8v2.5 M753.8,776.8v2.5 M759.5,776.8v4 M765.2,776.8v2.5 M770.9,776.8v2.5 M776.6,776.8v2.5 M782.3,776.8v2.5 M788.0,776.8v7 M793.7,776.8v2.5 M799.4,776.8v2.5 M805.1,776.8v2.5 M810.8,776.8v2.5 M816.5,776.8v4 M822.2,776.8v2.5 M827.9,776.8v2.5 M833.6,776.8v2.5 M839.3,776.8v2.5 M845.0,776.8v7 M850.7,776.8v2.5 M856.4,776.8v2.5 M862.1,776.8v2.5 M867.8,776.8v2.5 M873.5,776.8v4 M879.2,776.8v2.5 M884.9,776.8v2.5 M890.6,776.8v2.5 M896.3,776.8v2.5 M902.0,776.8v7 M907.7,776.8v2.5 M913.4,776.8v2.5 M919.1,776.8v2.5 M924.8,776.8v2.5 M930.5,776.8v4 M936.2,776.8v2.5 M941.9,776.8v2.5 M947.6,776.8v2.5 M953.3,776.8v2.5 M959.0,776.8v7" stroke="#000" stroke-width="1.2" fill="none"/>
<line x1="388" y1="766.2" x2="960" y2="766.2" stroke="#000" stroke-width="2.2"/>
<polyline points="388.0,765.4 389.0,765.4 390.0,765.4 391.0,765.4 392.0,765.4 393.0,765.4 394.0,765.4 395.0,765.4 396.0,765.4 397.0,765.4 398.0,765.4 399.0,765.4 400.0,765.4 401.0,765.4 402.0,765.4 403.0,765.4 404.0,765.4 405.0,765.3 406.0,765.3 407.0,765.3 408.0,765.3 409.0,765.3 410.0,765.3 411.0,765.3 412.0,765.3 413.0,765.3 414.0,765.3 415.0,765.3 416.0,765.3 417.0,765.3 418.0,765.3 419.0,765.2 420.0,765.2 421.0,765.2 422.0,765.2 423.0,765.2 424.0,765.2 425.0,765.2 426.0,765.2 427.0,765.2 428.0,765.2 429.0,765.2 430.0,765.2 431.0,765.2 432.0,765.1 433.0,765.1 434.0,765.1 435.0,765.1 436.0,765.1 437.0,765.1 438.0,765.1 439.0,765.1 440.0,765.1 441.0,765.1 442.0,765.0 443.0,765.0 444.0,765.0 445.0,765.0 446.0,765.0 447.0,765.0 448.0,765.0 449.0,765.0 450.0,765.0 451.0,765.0 452.0,764.9 453.0,764.9 454.0,764.9 455.0,764.9 456.0,764.9 457.0,764.9 458.0,764.9 459.0,764.9 460.0,764.8 461.0,764.8 462.0,764.8 463.0,764.8 464.0,764.8 465.0,764.8 466.0,764.8 467.0,764.7 468.0,764.7 469.0,764.7 470.0,764.7 471.0,764.7 472.0,764.7 473.0,764.7 474.0,764.6 475.0,764.6 476.0,764.6 477.0,764.6 478.0,764.6 479.0,764.6 480.0,764.5 481.0,764.5 482.0,764.5 483.0,764.5 484.0,764.5 485.0,764.4 486.0,764.4 487.0,764.4 488.0,764.4 489.0,764.4 490.0,764.4 491.0,764.3 492.0,764.3 493.0,764.3 494.0,764.3 495.0,764.2 496.0,764.2 497.0,764.2 498.0,764.2 499.0,764.2 500.0,764.1 501.0,764.1 502.0,764.1 503.0,764.1 504.0,764.0 505.0,764.0 506.0,764.0 507.0,763.9 508.0,763.9 509.0,763.9 510.0,763.9 511.0,763.8 512.0,763.8 513.0,763.8 514.0,763.7 515.0,763.7 516.0,763.7 517.0,763.6 518.0,763.6 519.0,763.6 520.0,763.5 521.0,763.5 522.0,763.5 523.0,763.4 524.0,763.4 525.0,763.4 526.0,763.3 527.0,763.3 528.0,763.2 529.0,763.2 530.0,763.1 531.0,763.1 532.0,763.1 533.0,763.0 534.0,763.0 535.0,762.9 536.0,762.9 537.0,762.8 538.0,762.8 539.0,762.7 540.0,762.7 541.0,762.6 542.0,762.6 543.0,762.5 544.0,762.4 545.0,762.4 546.0,762.3 547.0,762.2 548.0,762.2 549.0,762.1 550.0,762.1 551.0,762.0 552.0,761.9 553.0,761.8 554.0,761.8 555.0,761.7 556.0,761.6 557.0,761.5 558.0,761.4 559.0,761.4 560.0,761.3 561.0,761.2 562.0,761.1 563.0,761.0 564.0,760.9 565.0,760.8 566.0,760.7 567.0,760.6 568.0,760.5 569.0,760.4 570.0,760.3 571.0,760.1 572.0,760.0 573.0,759.9 574.0,759.8 575.0,759.6 576.0,759.5 577.0,759.3 578.0,759.2 579.0,759.0 580.0,758.9 581.0,758.7 582.0,758.6 583.0,758.4 584.0,758.2 585.0,758.0 586.0,757.8 587.0,757.6 588.0,757.4 589.0,757.2 590.0,757.0 591.0,756.8 592.0,756.5 593.0,756.3 594.0,756.0 595.0,755.8 596.0,755.5 597.0,755.2 598.0,754.9 599.0,754.6 600.0,754.3 601.0,754.0 602.0,753.6 603.0,753.3 604.0,752.9 605.0,752.5 606.0,752.1 607.0,751.7 608.0,751.2 609.0,750.8 610.0,750.3 611.0,749.8 612.0,749.2 613.0,748.7 614.0,748.1 615.0,747.5 616.0,746.8 617.0,746.1 618.0,745.4 619.0,744.7 620.0,743.8 621.0,743.0 622.0,742.1 623.0,741.1 624.0,740.1 625.0,739.0 626.0,737.8 627.0,736.5 628.0,735.2 629.0,733.7 630.0,732.2 631.0,730.5 632.0,728.6 633.0,726.6 634.0,724.5 635.0,722.1 636.0,719.6 637.0,716.8 638.0,713.8 639.0,710.5 640.0,707.0 641.0,703.2 642.0,699.1 643.0,694.6 644.0,689.8 645.0,684.7 646.0,679.1 647.0,673.3 648.0,667.0 649.0,660.4 650.0,653.4 651.0,646.1 652.0,638.5 653.0,630.6 654.0,622.5 655.0,614.2 656.0,605.8 657.0,597.4 658.0,589.1 659.0,581.0 660.0,573.2 661.0,565.8 662.0,559.1 663.0,553.1 664.0,547.9 665.0,543.8 666.0,540.7 667.0,538.8 668.0,538.2 669.0,538.8 670.0,540.7 671.0,543.8 672.0,547.9 673.0,553.1 674.0,559.1 675.0,565.8 676.0,573.2 677.0,581.0 678.0,589.1 679.0,597.4 680.0,605.8 681.0,614.2 682.0,622.5 683.0,630.6 684.0,638.5 685.0,646.1 686.0,653.4 687.0,660.4 688.0,667.0 689.0,673.3 690.0,679.1 691.0,684.7 692.0,689.8 693.0,694.6 694.0,699.1 695.0,703.2 696.0,707.0 697.0,710.5 698.0,713.8 699.0,716.8 700.0,719.6 701.0,722.1 702.0,724.5 703.0,726.6 704.0,728.6 705.0,730.5 706.0,732.2 707.0,733.7 708.0,735.2 709.0,736.5 710.0,737.8 711.0,739.0 712.0,740.1 713.0,741.1 714.0,742.1 715.0,743.0 716.0,743.8 717.0,744.7 718.0,745.4 719.0,746.1 720.0,746.8 721.0,747.5 722.0,748.1 723.0,748.7 724.0,749.2 725.0,749.8 726.0,750.3 727.0,750.8 728.0,751.2 729.0,751.7 730.0,752.1 731.0,752.5 732.0,752.9 733.0,753.3 734.0,753.6 735.0,754.0 736.0,754.3 737.0,754.6 738.0,754.9 739.0,755.2 740.0,755.5 741.0,755.8 742.0,756.0 743.0,756.3 744.0,756.5 745.0,756.8 746.0,757.0 747.0,757.2 748.0,757.4 749.0,757.6 750.0,757.8 751.0,758.0 752.0,758.2 753.0,758.4 754.0,758.6 755.0,758.7 756.0,758.9 757.0,759.0 758.0,759.2 759.0,759.3 760.0,759.5 761.0,759.6 762.0,759.8 763.0,759.9 764.0,760.0 765.0,760.1 766.0,760.3 767.0,760.4 768.0,760.5 769.0,760.6 770.0,760.7 771.0,760.8 772.0,760.9 773.0,761.0 774.0,761.1 775.0,761.2 776.0,761.3 777.0,761.4 778.0,761.4 779.0,761.5 780.0,761.6 781.0,761.7 782.0,761.8 783.0,761.8 784.0,761.9 785.0,762.0 786.0,762.1 787.0,762.1 788.0,762.2 789.0,762.2 790.0,762.3 791.0,762.4 792.0,762.4 793.0,762.5 794.0,762.6 795.0,762.6 796.0,762.7 797.0,762.7 798.0,762.8 799.0,762.8 800.0,762.9 801.0,762.9 802.0,763.0 803.0,763.0 804.0,763.1 805.0,763.1 806.0,763.1 807.0,763.2 808.0,763.2 809.0,763.3 810.0,763.3 811.0,763.4 812.0,763.4 813.0,763.4 814.0,763.5 815.0,763.5 816.0,763.5 817.0,763.6 818.0,763.6 819.0,763.6 820.0,763.7 821.0,763.7 822.0,763.7 823.0,763.8 824.0,763.8 825.0,763.8 826.0,763.9 827.0,763.9 828.0,763.9 829.0,763.9 830.0,764.0 831.0,764.0 832.0,764.0 833.0,764.1 834.0,764.1 835.0,764.1 836.0,764.1 837.0,764.2 838.0,764.2 839.0,764.2 840.0,764.2 841.0,764.2 842.0,764.3 843.0,764.3 844.0,764.3 845.0,764.3 846.0,764.4 847.0,764.4 848.0,764.4 849.0,764.4 850.0,764.4 851.0,764.4 852.0,764.5 853.0,764.5 854.0,764.5 855.0,764.5 856.0,764.5 857.0,764.6 858.0,764.6 859.0,764.6 860.0,764.6 861.0,764.6 862.0,764.6 863.0,764.7 864.0,764.7 865.0,764.7 866.0,764.7 867.0,764.7 868.0,764.7 869.0,764.7 870.0,764.8 871.0,764.8 872.0,764.8 873.0,764.8 874.0,764.8 875.0,764.8 876.0,764.8 877.0,764.9 878.0,764.9 879.0,764.9 880.0,764.9 881.0,764.9 882.0,764.9 883.0,764.9 884.0,764.9 885.0,765.0 886.0,765.0 887.0,765.0 888.0,765.0 889.0,765.0 890.0,765.0 891.0,765.0 892.0,765.0 893.0,765.0 894.0,765.0 895.0,765.1 896.0,765.1 897.0,765.1 898.0,765.1 899.0,765.1 900.0,765.1 901.0,765.1 902.0,765.1 903.0,765.1 904.0,765.1 905.0,765.2 906.0,765.2 907.0,765.2 908.0,765.2 909.0,765.2 910.0,765.2 911.0,765.2 912.0,765.2 913.0,765.2 914.0,765.2 915.0,765.2 916.0,765.2 917.0,765.2 918.0,765.3 919.0,765.3 920.0,765.3 921.0,765.3 922.0,765.3 923.0,765.3 924.0,765.3 925.0,765.3 926.0,765.3 927.0,765.3 928.0,765.3 929.0,765.3 930.0,765.3 931.0,765.3 932.0,765.4 933.0,765.4 934.0,765.4 935.0,765.4 936.0,765.4 937.0,765.4 938.0,765.4 939.0,765.4 940.0,765.4 941.0,765.4 942.0,765.4 943.0,765.4 944.0,765.4 945.0,765.4 946.0,765.4 947.0,765.4 948.0,765.4 949.0,765.5 950.0,765.5 951.0,765.5 952.0,765.5 953.0,765.5 954.0,765.5 955.0,765.5 956.0,765.5 957.0,765.5 958.0,765.5 959.0,765.5 960.0,765.5" fill="none" stroke="#000" stroke-width="1.2" stroke-linejoin="round" />
<polyline points="388.0,764.4 389.0,764.4 390.0,764.3 391.0,764.3 392.0,764.2 393.0,764.2 394.0,764.2 395.0,764.1 396.0,764.1 397.0,764.0 398.0,763.9 399.0,763.9 400.0,763.8 401.0,763.8 402.0,763.7 403.0,763.6 404.0,763.6 405.0,763.5 406.0,763.4 407.0,763.4 408.0,763.3 409.0,763.2 410.0,763.1 411.0,763.0 412.0,762.9 413.0,762.8 414.0,762.7 415.0,762.6 416.0,762.5 417.0,762.4 418.0,762.3 419.0,762.1 420.0,762.0 421.0,761.9 422.0,761.7 423.0,761.6 424.0,761.4 425.0,761.2 426.0,761.1 427.0,760.9 428.0,760.7 429.0,760.5 430.0,760.3 431.0,760.0 432.0,759.8 433.0,759.5 434.0,759.3 435.0,759.0 436.0,758.7 437.0,758.4 438.0,758.0 439.0,757.7 440.0,757.3 441.0,756.9 442.0,756.5 443.0,756.0 444.0,755.5 445.0,755.0 446.0,754.5 447.0,753.9 448.0,753.3 449.0,752.7 450.0,752.0 451.0,751.3 452.0,750.5 453.0,749.7 454.0,748.9 455.0,748.0 456.0,747.1 457.0,746.1 458.0,745.1 459.0,744.0 460.0,742.9 461.0,741.8 462.0,740.7 463.0,739.6 464.0,738.4 465.0,737.3 466.0,736.2 467.0,735.2 468.0,734.3 469.0,733.4 470.0,732.7 471.0,732.1 472.0,731.6 473.0,731.3 474.0,731.2 475.0,731.3 476.0,731.5 477.0,731.9 478.0,732.4 479.0,733.1 480.0,733.9 481.0,734.8 482.0,735.8 483.0,736.9 484.0,738.0 485.0,739.1 486.0,740.2 487.0,741.4 488.0,742.5 489.0,743.6 490.0,744.6 491.0,745.7 492.0,746.7 493.0,747.6 494.0,748.5 495.0,749.4 496.0,750.2 497.0,751.0 498.0,751.7 499.0,752.4 500.0,753.1 501.0,753.7 502.0,754.3 503.0,754.8 504.0,755.3 505.0,755.8 506.0,756.3 507.0,756.7 508.0,757.1 509.0,757.5 510.0,757.9 511.0,758.2 512.0,758.5 513.0,758.9 514.0,759.1 515.0,759.4 516.0,759.7 517.0,759.9 518.0,760.2 519.0,760.4 520.0,760.6 521.0,760.8 522.0,761.0 523.0,761.2 524.0,761.3 525.0,761.5 526.0,761.7 527.0,761.8 528.0,762.0 529.0,762.1 530.0,762.2 531.0,762.3 532.0,762.5 533.0,762.6 534.0,762.7 535.0,762.8 536.0,762.9 537.0,763.0 538.0,763.1 539.0,763.2 540.0,763.2 541.0,763.3 542.0,763.4 543.0,763.5 544.0,763.5 545.0,763.6 546.0,763.7 547.0,763.7 548.0,763.8 549.0,763.9 550.0,763.9 551.0,764.0 552.0,764.0 553.0,764.1 554.0,764.1 555.0,764.2 556.0,764.2 557.0,764.3 558.0,764.3 559.0,764.4 560.0,764.4 561.0,764.4 562.0,764.5 563.0,764.5 564.0,764.5 565.0,764.6 566.0,764.6 567.0,764.6 568.0,764.7 569.0,764.7 570.0,764.7 571.0,764.8 572.0,764.8 573.0,764.8 574.0,764.8 575.0,764.9 576.0,764.9 577.0,764.9 578.0,764.9 579.0,765.0 580.0,765.0 581.0,765.0 582.0,765.0 583.0,765.1 584.0,765.1 585.0,765.1 586.0,765.1 587.0,765.1 588.0,765.2 589.0,765.2 590.0,765.2 591.0,765.2 592.0,765.2 593.0,765.2 594.0,765.3 595.0,765.3 596.0,765.3 597.0,765.3 598.0,765.3 599.0,765.3 600.0,765.3 601.0,765.4 602.0,765.4 603.0,765.4 604.0,765.4 605.0,765.4 606.0,765.4 607.0,765.4 608.0,765.4 609.0,765.4 610.0,765.5 611.0,765.5 612.0,765.5 613.0,765.5 614.0,765.5 615.0,765.5 616.0,765.5 617.0,765.5 618.0,765.5 619.0,765.5 620.0,765.6 621.0,765.6 622.0,765.6 623.0,765.6 624.0,765.6 625.0,765.6 626.0,765.6 627.0,765.6 628.0,765.6 629.0,765.6 630.0,765.6 631.0,765.6 632.0,765.6 633.0,765.7 634.0,765.7 635.0,765.7 636.0,765.7 637.0,765.7 638.0,765.7 639.0,765.7 640.0,765.7 641.0,765.7 642.0,765.7 643.0,765.7 644.0,765.7 645.0,765.7 646.0,765.7 647.0,765.7 648.0,765.7 649.0,765.7 650.0,765.8 651.0,765.8 652.0,765.8 653.0,765.8 654.0,765.8 655.0,765.8 656.0,765.8 657.0,765.8 658.0,765.8 659.0,765.8 660.0,765.8 661.0,765.8" fill="none" stroke="#000" stroke-width="1.2" stroke-linejoin="round" />
<polyline points="681.0,765.8 682.0,765.8 683.0,765.8 684.0,765.8 685.0,765.8 686.0,765.8 687.0,765.8 688.0,765.8 689.0,765.8 690.0,765.8 691.0,765.8 692.0,765.8 693.0,765.7 694.0,765.7 695.0,765.7 696.0,765.7 697.0,765.7 698.0,765.7 699.0,765.7 700.0,765.7 701.0,765.7 702.0,765.7 703.0,765.7 704.0,765.7 705.0,765.7 706.0,765.7 707.0,765.7 708.0,765.7 709.0,765.7 710.0,765.6 711.0,765.6 712.0,765.6 713.0,765.6 714.0,765.6 715.0,765.6 716.0,765.6 717.0,765.6 718.0,765.6 719.0,765.6 720.0,765.6 721.0,765.6 722.0,765.6 723.0,765.5 724.0,765.5 725.0,765.5 726.0,765.5 727.0,765.5 728.0,765.5 729.0,765.5 730.0,765.5 731.0,765.5 732.0,765.5 733.0,765.4 734.0,765.4 735.0,765.4 736.0,765.4 737.0,765.4 738.0,765.4 739.0,765.4 740.0,765.4 741.0,765.3 742.0,765.3 743.0,765.3 744.0,765.3 745.0,765.3 746.0,765.3 747.0,765.3 748.0,765.2 749.0,765.2 750.0,765.2 751.0,765.2 752.0,765.2 753.0,765.2 754.0,765.1 755.0,765.1 756.0,765.1 757.0,765.1 758.0,765.1 759.0,765.0 760.0,765.0 761.0,765.0 762.0,765.0 763.0,765.0 764.0,764.9 765.0,764.9 766.0,764.9 767.0,764.9 768.0,764.8 769.0,764.8 770.0,764.8 771.0,764.8 772.0,764.7 773.0,764.7 774.0,764.7 775.0,764.6 776.0,764.6 777.0,764.6 778.0,764.5 779.0,764.5 780.0,764.5 781.0,764.4 782.0,764.4 783.0,764.3 784.0,764.3 785.0,764.3 786.0,764.2 787.0,764.2 788.0,764.1 789.0,764.1 790.0,764.0 791.0,764.0 792.0,763.9 793.0,763.8 794.0,763.8 795.0,763.7 796.0,763.7 797.0,763.6 798.0,763.5 799.0,763.4 800.0,763.4 801.0,763.3 802.0,763.2 803.0,763.1 804.0,763.0 805.0,762.9 806.0,762.8 807.0,762.7 808.0,762.6 809.0,762.5 810.0,762.4 811.0,762.3 812.0,762.2 813.0,762.0 814.0,761.9 815.0,761.7 816.0,761.6 817.0,761.4 818.0,761.3 819.0,761.1 820.0,760.9 821.0,760.7 822.0,760.5 823.0,760.3 824.0,760.1 825.0,759.8 826.0,759.6 827.0,759.3 828.0,759.0 829.0,758.7 830.0,758.4 831.0,758.1 832.0,757.7 833.0,757.4 834.0,757.0 835.0,756.5 836.0,756.1 837.0,755.6 838.0,755.1 839.0,754.6 840.0,754.0 841.0,753.4 842.0,752.8 843.0,752.1 844.0,751.4 845.0,750.7 846.0,749.9 847.0,749.0 848.0,748.2 849.0,747.2 850.0,746.3 851.0,745.3 852.0,744.2 853.0,743.1 854.0,742.0 855.0,740.9 856.0,739.8 857.0,738.6 858.0,737.5 859.0,736.4 860.0,735.4 861.0,734.5 862.0,733.6 863.0,732.8 864.0,732.2 865.0,731.7 866.0,731.4 867.0,731.2 868.0,731.2 869.0,731.4 870.0,731.8 871.0,732.3 872.0,733.0 873.0,733.7 874.0,734.6 875.0,735.6 876.0,736.7 877.0,737.8 878.0,738.9 879.0,740.0 880.0,741.1 881.0,742.3 882.0,743.4 883.0,744.4 884.0,745.5 885.0,746.5 886.0,747.4 887.0,748.3 888.0,749.2 889.0,750.0 890.0,750.8 891.0,751.6 892.0,752.3 893.0,752.9 894.0,753.6 895.0,754.1 896.0,754.7 897.0,755.2 898.0,755.7 899.0,756.2 900.0,756.6 901.0,757.0 902.0,757.4 903.0,757.8 904.0,758.2 905.0,758.5 906.0,758.8 907.0,759.1 908.0,759.4 909.0,759.6 910.0,759.9 911.0,760.1 912.0,760.3 913.0,760.6 914.0,760.8 915.0,760.9 916.0,761.1 917.0,761.3 918.0,761.5 919.0,761.6 920.0,761.8 921.0,761.9 922.0,762.1 923.0,762.2 924.0,762.3 925.0,762.4 926.0,762.5 927.0,762.7 928.0,762.8 929.0,762.9 930.0,763.0 931.0,763.1 932.0,763.1 933.0,763.2 934.0,763.3 935.0,763.4 936.0,763.5 937.0,763.5 938.0,763.6 939.0,763.7 940.0,763.7 941.0,763.8 942.0,763.9 943.0,763.9 944.0,764.0 945.0,764.0 946.0,764.1 947.0,764.1 948.0,764.2 949.0,764.2 950.0,764.3 951.0,764.3 952.0,764.3 953.0,764.4 954.0,764.4 955.0,764.5 956.0,764.5 957.0,764.5 958.0,764.6 959.0,764.6 960.0,764.6" fill="none" stroke="#000" stroke-width="1.2" stroke-linejoin="round" />
<polyline points="486.0,765.8 487.0,765.8 488.0,765.8 489.0,765.8 490.0,765.8 491.0,765.8 492.0,765.8 493.0,765.8 494.0,765.8 495.0,765.7 496.0,765.7 497.0,765.7 498.0,765.7 499.0,765.7 500.0,765.7 501.0,765.7 502.0,765.7 503.0,765.7 504.0,765.7 505.0,765.7 506.0,765.6 507.0,765.6 508.0,765.6 509.0,765.6 510.0,765.6 511.0,765.6 512.0,765.6 513.0,765.6 514.0,765.6 515.0,765.5 516.0,765.5 517.0,765.5 518.0,765.5 519.0,765.5 520.0,765.5 521.0,765.5 522.0,765.4 523.0,765.4 524.0,765.4 525.0,765.4 526.0,765.4 527.0,765.3 528.0,765.3 529.0,765.3 530.0,765.3 531.0,765.3 532.0,765.2 533.0,765.2 534.0,765.2 535.0,765.2 536.0,765.1 537.0,765.1 538.0,765.1 539.0,765.1 540.0,765.0 541.0,765.0 542.0,765.0 543.0,764.9 544.0,764.9 545.0,764.9 546.0,764.8 547.0,764.8 548.0,764.7 549.0,764.7 550.0,764.6 551.0,764.6 552.0,764.5 553.0,764.5 554.0,764.4 555.0,764.4 556.0,764.3 557.0,764.2 558.0,764.2 559.0,764.1 560.0,764.0 561.0,763.9 562.0,763.8 563.0,763.7 564.0,763.6 565.0,763.5 566.0,763.4 567.0,763.3 568.0,763.1 569.0,763.0 570.0,762.8 571.0,762.6 572.0,762.5 573.0,762.3 574.0,762.0 575.0,761.8 576.0,761.5 577.0,761.3 578.0,760.9 579.0,760.6 580.0,760.3 581.0,759.9 582.0,759.5 583.0,759.1 584.0,758.6 585.0,758.1 586.0,757.6 587.0,757.0 588.0,756.4 589.0,755.8 590.0,755.2 591.0,754.5 592.0,753.7 593.0,753.0 594.0,752.2 595.0,751.4 596.0,750.6 597.0,749.7 598.0,748.9 599.0,748.0 600.0,747.2 601.0,746.3 602.0,745.5 603.0,744.7 604.0,744.0 605.0,743.3 606.0,742.7 607.0,742.2 608.0,741.8 609.0,741.5 610.0,741.3 611.0,741.2 612.0,741.3 613.0,741.5 614.0,741.8 615.0,742.2 616.0,742.7 617.0,743.3 618.0,744.0 619.0,744.7 620.0,745.5 621.0,746.3 622.0,747.2 623.0,748.0 624.0,748.9 625.0,749.7 626.0,750.6 627.0,751.4 628.0,752.2 629.0,753.0 630.0,753.7 631.0,754.5 632.0,755.2 633.0,755.8 634.0,756.4 635.0,757.0 636.0,757.6 637.0,758.1 638.0,758.6 639.0,759.1 640.0,759.5 641.0,759.9 642.0,760.3 643.0,760.6 644.0,760.9 645.0,761.3 646.0,761.5 647.0,761.8 648.0,762.0 649.0,762.3 650.0,762.5 651.0,762.6 652.0,762.8 653.0,763.0 654.0,763.1 655.0,763.3 656.0,763.4 657.0,763.5 658.0,763.6 659.0,763.7 660.0,763.8 661.0,763.9 662.0,764.0 663.0,764.1 664.0,764.2 665.0,764.2 666.0,764.3 667.0,764.4 668.0,764.4 669.0,764.5 670.0,764.5 671.0,764.6 672.0,764.6 673.0,764.7 674.0,764.7 675.0,764.8 676.0,764.8 677.0,764.9 678.0,764.9 679.0,764.9 680.0,765.0 681.0,765.0 682.0,765.0 683.0,765.1 684.0,765.1 685.0,765.1 686.0,765.1 687.0,765.2 688.0,765.2 689.0,765.2 690.0,765.2 691.0,765.3 692.0,765.3 693.0,765.3 694.0,765.3 695.0,765.3 696.0,765.4 697.0,765.4 698.0,765.4 699.0,765.4 700.0,765.4 701.0,765.5 702.0,765.5 703.0,765.5 704.0,765.5 705.0,765.5 706.0,765.5 707.0,765.5 708.0,765.6 709.0,765.6 710.0,765.6 711.0,765.6 712.0,765.6 713.0,765.6 714.0,765.6 715.0,765.6 716.0,765.6 717.0,765.7 718.0,765.7 719.0,765.7 720.0,765.7 721.0,765.7 722.0,765.7 723.0,765.7 724.0,765.7 725.0,765.7 726.0,765.7 727.0,765.7 728.0,765.8 729.0,765.8 730.0,765.8 731.0,765.8 732.0,765.8 733.0,765.8 734.0,765.8 735.0,765.8 736.0,765.8" fill="none" stroke="#000" stroke-width="1.2" stroke-linejoin="round" />
<polyline points="388.0,736.3 389.0,736.2 390.0,736.2 391.0,736.1 392.0,736.1 393.0,736.0 394.0,736.0 395.0,735.9 396.0,735.9 397.0,735.8 398.0,735.7 399.0,735.7 400.0,735.6 401.0,735.5 402.0,735.5 403.0,735.4 404.0,735.3 405.0,735.2 406.0,735.2 407.0,735.1 408.0,735.0 409.0,734.9 410.0,734.8 411.0,734.7 412.0,734.6 413.0,734.5 414.0,734.4 415.0,734.3 416.0,734.1 417.0,734.0 418.0,733.9 419.0,733.7 420.0,733.6 421.0,733.5 422.0,733.3 423.0,733.1 424.0,733.0 425.0,732.8 426.0,732.6 427.0,732.4 428.0,732.2 429.0,732.0 430.0,731.7 431.0,731.5 432.0,731.3 433.0,731.0 434.0,730.7 435.0,730.4 436.0,730.1 437.0,729.8 438.0,729.4 439.0,729.0 440.0,728.7 441.0,728.2 442.0,727.8 443.0,727.3 444.0,726.9 445.0,726.3 446.0,725.8 447.0,725.2 448.0,724.6 449.0,723.9 450.0,723.2 451.0,722.5 452.0,721.7 453.0,720.9 454.0,720.1 455.0,719.2 456.0,718.2 457.0,717.2 458.0,716.2 459.0,715.1 460.0,714.0 461.0,712.9 462.0,711.7 463.0,710.6 464.0,709.4 465.0,708.3 466.0,707.2 467.0,706.2 468.0,705.2 469.0,704.3 470.0,703.6 471.0,703.0 472.0,702.5 473.0,702.2 474.0,702.0 475.0,702.1 476.0,702.3 477.0,702.6 478.0,703.2 479.0,703.8 480.0,704.6 481.0,705.5 482.0,706.5 483.0,707.5 484.0,708.6 485.0,709.7 486.0,710.8 487.0,711.9 488.0,713.0 489.0,714.0 490.0,715.1 491.0,716.1 492.0,717.0 493.0,718.0 494.0,718.8 495.0,719.7 496.0,720.5 497.0,721.2 498.0,721.9 499.0,722.6 500.0,723.2 501.0,723.8 502.0,724.3 503.0,724.8 504.0,725.3 505.0,725.8 506.0,726.2 507.0,726.6 508.0,727.0 509.0,727.3 510.0,727.6 511.0,727.9 512.0,728.2 513.0,728.5 514.0,728.7 515.0,729.0 516.0,729.2 517.0,729.4 518.0,729.6 519.0,729.7 520.0,729.9 521.0,730.0 522.0,730.2 523.0,730.3 524.0,730.4 525.0,730.5 526.0,730.6 527.0,730.7 528.0,730.8 529.0,730.9 530.0,730.9 531.0,731.0 532.0,731.0 533.0,731.1 534.0,731.1 535.0,731.1 536.0,731.2 537.0,731.2 538.0,731.2 539.0,731.2 540.0,731.2 541.0,731.2 542.0,731.2 543.0,731.2 544.0,731.1 545.0,731.1 546.0,731.1 547.0,731.0 548.0,731.0 549.0,730.9 550.0,730.9 551.0,730.8 552.0,730.7 553.0,730.7 554.0,730.6 555.0,730.5 556.0,730.4 557.0,730.3 558.0,730.2 559.0,730.1 560.0,729.9 561.0,729.8 562.0,729.7 563.0,729.5 564.0,729.3 565.0,729.2 566.0,729.0 567.0,728.8 568.0,728.5 569.0,728.3 570.0,728.1 571.0,727.8 572.0,727.5 573.0,727.2 574.0,726.9 575.0,726.5 576.0,726.2 577.0,725.8 578.0,725.3 579.0,724.9 580.0,724.4 581.0,723.9 582.0,723.3 583.0,722.7 584.0,722.1 585.0,721.5 586.0,720.8 587.0,720.0 588.0,719.2 589.0,718.4 590.0,717.6 591.0,716.7 592.0,715.7 593.0,714.7 594.0,713.7 595.0,712.7 596.0,711.6 597.0,710.5 598.0,709.3 599.0,708.2 600.0,707.0 601.0,705.9 602.0,704.7 603.0,703.6 604.0,702.5 605.0,701.4 606.0,700.4 607.0,699.5 608.0,698.6 609.0,697.9 610.0,697.2 611.0,696.6 612.0,696.2 613.0,695.8 614.0,695.5 615.0,695.3 616.0,695.2 617.0,695.1 618.0,695.1 619.0,695.1 620.0,695.1 621.0,695.1 622.0,695.0 623.0,694.9 624.0,694.7 625.0,694.5 626.0,694.2 627.0,693.7 628.0,693.2 629.0,692.5 630.0,691.7 631.0,690.7 632.0,689.6 633.0,688.2 634.0,686.7 635.0,684.9 636.0,683.0 637.0,680.7 638.0,678.2 639.0,675.4 640.0,672.3 641.0,668.9 642.0,665.2 643.0,661.1 644.0,656.6 645.0,651.8 646.0,646.5 647.0,640.9 648.0,634.9 649.0,628.5 650.0,621.8 651.0,614.6 652.0,607.2 653.0,599.5 654.0,591.5 655.0,583.4 656.0,575.1 657.0,566.8 658.0,558.6 659.0,550.6 660.0,542.9 661.0,535.7 662.0,529.0 663.0,523.0 664.0,518.0 665.0,513.9 666.0,510.9 667.0,509.1 668.0,508.5 669.0,509.2 670.0,511.1 671.0,514.2 672.0,518.4 673.0,523.6 674.0,529.7 675.0,536.5 676.0,543.9 677.0,551.7 678.0,559.9 679.0,568.3 680.0,576.7 681.0,585.1 682.0,593.4 683.0,601.6 684.0,609.5 685.0,617.1 686.0,624.5 687.0,631.4 688.0,638.1 689.0,644.4 690.0,650.3 691.0,655.8 692.0,661.0 693.0,665.8 694.0,670.2 695.0,674.4 696.0,678.2 697.0,681.8 698.0,685.0 699.0,688.1 700.0,690.8 701.0,693.4 702.0,695.8 703.0,697.9 704.0,699.9 705.0,701.8 706.0,703.5 707.0,705.1 708.0,706.5 709.0,707.9 710.0,709.2 711.0,710.4 712.0,711.5 713.0,712.5 714.0,713.5 715.0,714.4 716.0,715.3 717.0,716.1 718.0,716.8 719.0,717.6 720.0,718.2 721.0,718.9 722.0,719.5 723.0,720.1 724.0,720.7 725.0,721.2 726.0,721.7 727.0,722.2 728.0,722.7 729.0,723.1 730.0,723.5 731.0,723.9 732.0,724.3 733.0,724.7 734.0,725.1 735.0,725.4 736.0,725.7 737.0,726.0 738.0,726.3 739.0,726.6 740.0,726.9 741.0,727.2 742.0,727.4 743.0,727.7 744.0,727.9 745.0,728.1 746.0,728.4 747.0,728.6 748.0,728.8 749.0,729.0 750.0,729.1 751.0,729.3 752.0,729.5 753.0,729.7 754.0,729.8 755.0,730.0 756.0,730.1 757.0,730.3 758.0,730.4 759.0,730.5 760.0,730.7 761.0,730.8 762.0,730.9 763.0,731.0 764.0,731.1 765.0,731.2 766.0,731.3 767.0,731.4 768.0,731.5 769.0,731.6 770.0,731.7 771.0,731.8 772.0,731.8 773.0,731.9 774.0,732.0 775.0,732.0 776.0,732.1 777.0,732.1 778.0,732.2 779.0,732.3 780.0,732.3 781.0,732.3 782.0,732.4 783.0,732.4 784.0,732.5 785.0,732.5 786.0,732.5 787.0,732.5 788.0,732.6 789.0,732.6 790.0,732.6 791.0,732.6 792.0,732.6 793.0,732.6 794.0,732.6 795.0,732.6 796.0,732.6 797.0,732.6 798.0,732.6 799.0,732.6 800.0,732.5 801.0,732.5 802.0,732.5 803.0,732.4 804.0,732.4 805.0,732.3 806.0,732.3 807.0,732.2 808.0,732.2 809.0,732.1 810.0,732.0 811.0,732.0 812.0,731.9 813.0,731.8 814.0,731.7 815.0,731.6 816.0,731.5 817.0,731.3 818.0,731.2 819.0,731.1 820.0,730.9 821.0,730.8 822.0,730.6 823.0,730.4 824.0,730.2 825.0,730.0 826.0,729.8 827.0,729.6 828.0,729.3 829.0,729.0 830.0,728.7 831.0,728.4 832.0,728.1 833.0,727.8 834.0,727.4 835.0,727.0 836.0,726.6 837.0,726.1 838.0,725.7 839.0,725.2 840.0,724.6 841.0,724.1 842.0,723.4 843.0,722.8 844.0,722.1 845.0,721.4 846.0,720.6 847.0,719.8 848.0,718.9 849.0,718.0 850.0,717.1 851.0,716.1 852.0,715.1 853.0,714.0 854.0,712.9 855.0,711.8 856.0,710.7 857.0,709.6 858.0,708.5 859.0,707.4 860.0,706.4 861.0,705.5 862.0,704.6 863.0,703.9 864.0,703.3 865.0,702.8 866.0,702.5 867.0,702.3 868.0,702.4 869.0,702.6 870.0,703.0 871.0,703.5 872.0,704.2 873.0,705.0 874.0,705.9 875.0,706.9 876.0,707.9 877.0,709.0 878.0,710.2 879.0,711.3 880.0,712.5 881.0,713.6 882.0,714.7 883.0,715.8 884.0,716.8 885.0,717.9 886.0,718.8 887.0,719.8 888.0,720.6 889.0,721.5 890.0,722.3 891.0,723.0 892.0,723.7 893.0,724.4 894.0,725.0 895.0,725.7 896.0,726.2 897.0,726.8 898.0,727.3 899.0,727.7 900.0,728.2 901.0,728.6 902.0,729.0 903.0,729.4 904.0,729.7 905.0,730.1 906.0,730.4 907.0,730.7 908.0,731.0 909.0,731.3 910.0,731.5 911.0,731.8 912.0,732.0 913.0,732.2 914.0,732.4 915.0,732.6 916.0,732.8 917.0,733.0 918.0,733.2 919.0,733.4 920.0,733.5 921.0,733.7 922.0,733.8 923.0,733.9 924.0,734.1 925.0,734.2 926.0,734.3 927.0,734.4 928.0,734.6 929.0,734.7 930.0,734.8 931.0,734.9 932.0,735.0 933.0,735.1 934.0,735.1 935.0,735.2 936.0,735.3 937.0,735.4 938.0,735.5 939.0,735.5 940.0,735.6 941.0,735.7 942.0,735.7 943.0,735.8 944.0,735.9 945.0,735.9 946.0,736.0 947.0,736.0 948.0,736.1 949.0,736.2 950.0,736.2 951.0,736.3 952.0,736.3 953.0,736.3 954.0,736.4 955.0,736.4 956.0,736.5 957.0,736.5 958.0,736.6 959.0,736.6 960.0,736.6" fill="none" stroke="#000" stroke-width="1.2" stroke-linejoin="round" />
<polyline points="388.0,696.2 389.0,698.2 390.0,699.7 391.0,700.5 392.0,702.0 393.0,703.8 394.0,704.5 395.0,705.5 396.0,706.5 397.0,700.4 398.0,695.8 399.0,692.8 400.0,694.2 401.0,694.8 402.0,694.8 403.0,696.3 404.0,697.9 405.0,697.4 406.0,695.6 407.0,694.9 408.0,694.0 409.0,692.3 410.0,693.2 411.0,695.0 412.0,694.9 413.0,691.4 414.0,693.7 415.0,699.1 416.0,702.8 417.0,700.7 418.0,699.8 419.0,698.8 420.0,697.5 421.0,694.9 422.0,694.0 423.0,692.6 424.0,696.4 425.0,700.4 426.0,704.0 427.0,706.9 428.0,707.1 429.0,702.7 430.0,698.7 431.0,693.5 432.0,692.9 433.0,694.7 434.0,696.0 435.0,695.8 436.0,694.7 437.0,693.9 438.0,693.1 439.0,691.1 440.0,689.8 441.0,688.9 442.0,689.7 443.0,690.1 444.0,691.7 445.0,692.4 446.0,692.2 447.0,690.9 448.0,690.4 449.0,689.6 450.0,687.8 451.0,686.7 452.0,687.8 453.0,690.1 454.0,689.0 455.0,687.0 456.0,684.8 457.0,682.4 458.0,678.9 459.0,674.3 460.0,672.8 461.0,669.3 462.0,668.4 463.0,669.2 464.0,670.8 465.0,674.1 466.0,673.1 467.0,671.4 468.0,668.3 469.0,665.9 470.0,664.0 471.0,662.5 472.0,662.8 473.0,665.5 474.0,669.0 475.0,671.0 476.0,670.3 477.0,670.5 478.0,670.8 479.0,672.6 480.0,669.2 481.0,667.3 482.0,667.9 483.0,667.8 484.0,667.7 485.0,668.4 486.0,667.3 487.0,669.0 488.0,672.8 489.0,676.5 490.0,679.6 491.0,680.0 492.0,677.8 493.0,677.5 494.0,676.0 495.0,678.5 496.0,683.1 497.0,687.6 498.0,688.3 499.0,687.0 500.0,687.7 501.0,686.0 502.0,685.7 503.0,686.1 504.0,683.8 505.0,684.4 506.0,685.8 507.0,686.7 508.0,687.3 509.0,687.4 510.0,688.6 511.0,692.1 512.0,693.5 513.0,693.8 514.0,695.4 515.0,697.7 516.0,698.8 517.0,700.0 518.0,702.2 519.0,704.1 520.0,705.4 521.0,703.3 522.0,699.9 523.0,697.6 524.0,696.0 525.0,696.9 526.0,698.2 527.0,697.7 528.0,699.0 529.0,700.9 530.0,694.2 531.0,690.1 532.0,694.4 533.0,698.1 534.0,698.5 535.0,697.1 536.0,696.4 537.0,697.9 538.0,699.5 539.0,700.0 540.0,701.7 541.0,702.6 542.0,700.8 543.0,701.0 544.0,699.9 545.0,698.4 546.0,695.6 547.0,696.7 548.0,696.9 549.0,696.2 550.0,696.9 551.0,696.2 552.0,697.7 553.0,699.3 554.0,700.9 555.0,701.7 556.0,701.5 557.0,699.3 558.0,698.4 559.0,697.1 560.0,697.5 561.0,695.1 562.0,695.0 563.0,694.9 564.0,692.6 565.0,692.0 566.0,692.0 567.0,691.1 568.0,692.1 569.0,690.9 570.0,691.3 571.0,690.4 572.0,689.0 573.0,688.3 574.0,686.5 575.0,685.9 576.0,683.1 577.0,681.0 578.0,681.0 579.0,682.1 580.0,684.9 581.0,683.1 582.0,681.7 583.0,680.2 584.0,679.8 585.0,676.9 586.0,677.3 587.0,678.2 588.0,678.7 589.0,679.8 590.0,679.9 591.0,676.2 592.0,674.3 593.0,676.2 594.0,676.6 595.0,676.6 596.0,674.9 597.0,673.2 598.0,671.8 599.0,669.0 600.0,667.6 601.0,667.6 602.0,667.1 603.0,665.9 604.0,665.2 605.0,662.2 606.0,660.6 607.0,659.9 608.0,661.1 609.0,662.0 610.0,663.1 611.0,660.0 612.0,658.5 613.0,655.8 614.0,653.7 615.0,651.9 616.0,653.2 617.0,655.8 618.0,659.3 619.0,659.3 620.0,658.9 621.0,657.0 622.0,656.6 623.0,655.0 624.0,653.0 625.0,651.6 626.0,652.3 627.0,655.2 628.0,657.6 629.0,654.9 630.0,650.6 631.0,646.3 632.0,645.9 633.0,645.7 634.0,646.0 635.0,645.5 636.0,644.6 637.0,642.4 638.0,628.5 639.0,623.1 640.0,623.7 641.0,624.3 642.0,623.3 643.0,619.4 644.0,617.1 645.0,613.3 646.0,609.8 647.0,605.1 648.0,600.8 649.0,595.6 650.0,590.8 651.0,584.2 652.0,578.1 653.0,570.6 654.0,560.1 655.0,551.0 656.0,544.1 657.0,535.0 658.0,522.2 659.0,512.4 660.0,505.0 661.0,498.6 662.0,480.4 663.0,473.4 664.0,469.4 665.0,464.4 666.0,465.6 667.0,469.6 668.0,474.9 669.0,480.3 670.0,486.6 671.0,494.0 672.0,497.3 673.0,499.3 674.0,502.4 675.0,507.0 676.0,511.8 677.0,516.6 678.0,522.5 679.0,527.9 680.0,535.6 681.0,542.4 682.0,552.3 683.0,562.5 684.0,572.7 685.0,580.8 686.0,587.7 687.0,594.9 688.0,602.3 689.0,606.5 690.0,612.2 691.0,618.6 692.0,623.2 693.0,628.5 694.0,632.0 695.0,637.0 696.0,641.3 697.0,644.7 698.0,646.8 699.0,650.1 700.0,653.4 701.0,656.4 702.0,657.3 703.0,659.4 704.0,662.4 705.0,663.5 706.0,664.8 707.0,667.4 708.0,667.5 709.0,669.7 710.0,674.9 711.0,678.4 712.0,683.2 713.0,682.9 714.0,682.2 715.0,680.3 716.0,679.0 717.0,676.2 718.0,675.1 719.0,681.7 720.0,687.7 721.0,683.7 722.0,681.7 723.0,683.8 724.0,684.3 725.0,685.3 726.0,685.6 727.0,687.3 728.0,687.3 729.0,688.0 730.0,688.7 731.0,688.5 732.0,686.4 733.0,684.3 734.0,683.1 735.0,682.0 736.0,681.2 737.0,680.6 738.0,682.8 739.0,683.4 740.0,683.5 741.0,685.3 742.0,687.4 743.0,688.7 744.0,690.6 745.0,691.6 746.0,692.8 747.0,696.6 748.0,696.4 749.0,695.8 750.0,695.4 751.0,695.2 752.0,694.3 753.0,692.7 754.0,692.5 755.0,692.0 756.0,691.8 757.0,690.9 758.0,691.1 759.0,690.8 760.0,691.1 761.0,688.9 762.0,690.0 763.0,689.8 764.0,690.4 765.0,691.6 766.0,692.7 767.0,694.9 768.0,695.0 769.0,692.8 770.0,690.8 771.0,691.4 772.0,692.4 773.0,694.7 774.0,696.8 775.0,696.2 776.0,693.9 777.0,691.6 778.0,689.9 779.0,687.6 780.0,684.7 781.0,685.5 782.0,688.4 783.0,691.4 784.0,695.3 785.0,694.6 786.0,690.5 787.0,686.4 788.0,683.9 789.0,682.0 790.0,684.0 791.0,686.4 792.0,688.9 793.0,689.6 794.0,692.7 795.0,694.4 796.0,695.4 797.0,697.2 798.0,699.4 799.0,701.1 800.0,699.4 801.0,699.4 802.0,698.7 803.0,696.9 804.0,697.0 805.0,696.9 806.0,695.5 807.0,693.9 808.0,689.1 809.0,685.2 810.0,683.9 811.0,683.8 812.0,682.6 813.0,682.6 814.0,681.0 815.0,684.2 816.0,687.9 817.0,688.8 818.0,692.9 819.0,695.0 820.0,694.6 821.0,692.1 822.0,688.9 823.0,687.4 824.0,684.6 825.0,684.2 826.0,683.8 827.0,683.4 828.0,684.3 829.0,683.5 830.0,683.7 831.0,687.5 832.0,689.2 833.0,689.2 834.0,690.0 835.0,689.4 836.0,689.7 837.0,685.8 838.0,682.8 839.0,679.8 840.0,677.7 841.0,678.1 842.0,680.4 843.0,681.2 844.0,681.7 845.0,682.7 846.0,683.3 847.0,684.0 848.0,683.4 849.0,683.9 850.0,682.7 851.0,682.9 852.0,681.6 853.0,678.6 854.0,676.8 855.0,673.5 856.0,671.4 857.0,673.4 858.0,675.3 859.0,676.5 860.0,674.7 861.0,672.5 862.0,671.3 863.0,667.7 864.0,668.2 865.0,669.3 866.0,667.8 867.0,667.5 868.0,666.4 869.0,664.4 870.0,663.0 871.0,662.7 872.0,659.9 873.0,659.2 874.0,658.6 875.0,653.0 876.0,654.9 877.0,658.3 878.0,662.6 879.0,666.6 880.0,675.0 881.0,680.0 882.0,680.1 883.0,680.2 884.0,681.1 885.0,681.3 886.0,682.3 887.0,683.9 888.0,683.6 889.0,682.9 890.0,680.9 891.0,680.2 892.0,682.3 893.0,684.9 894.0,686.4 895.0,688.6 896.0,689.0 897.0,689.3 898.0,689.8 899.0,689.4 900.0,690.0 901.0,692.6 902.0,693.5 903.0,695.0 904.0,694.5 905.0,693.1 906.0,691.9 907.0,690.4 908.0,689.5 909.0,693.2 910.0,696.2 911.0,697.9 912.0,699.4 913.0,701.2 914.0,701.3 915.0,702.0 916.0,703.7 917.0,704.6 918.0,704.0 919.0,701.3 920.0,698.3 921.0,694.9 922.0,695.1 923.0,696.8 924.0,699.5 925.0,698.9 926.0,696.2 927.0,694.6 928.0,695.1 929.0,695.1 930.0,695.5 931.0,695.9 932.0,696.7 933.0,694.7 934.0,692.4 935.0,691.4 936.0,694.5 937.0,697.8 938.0,700.0 939.0,701.5 940.0,705.0 941.0,707.4 942.0,706.7 943.0,704.2 944.0,702.4 945.0,700.1 946.0,699.8 947.0,699.4 948.0,699.0 949.0,698.8 950.0,696.8 951.0,696.4 952.0,694.7 953.0,692.2 954.0,690.2 955.0,689.3 956.0,689.8 957.0,689.7 958.0,690.3 959.0,689.9 960.0,689.8" fill="none" stroke="#000" stroke-width="1.45" stroke-linejoin="round" />
<line x1="410.2" y1="1122.8" x2="952.6" y2="1122.8" stroke="#000" stroke-width="1.3"/>
<path d="M410.2,1122.8v4.5 M415.6,1122.8v2 M421.0,1122.8v2 M426.5,1122.8v2 M431.9,1122.8v2 M437.3,1122.8v4.5 M442.7,1122.8v2 M448.2,1122.8v2 M453.6,1122.8v2 M459.0,1122.8v2 M464.4,1122.8v4.5 M469.9,1122.8v2 M475.3,1122.8v2 M480.7,1122.8v2 M486.1,1122.8v2 M491.6,1122.8v4.5 M497.0,1122.8v2 M502.4,1122.8v2 M507.8,1122.8v2 M513.3,1122.8v2 M518.7,1122.8v4.5 M524.1,1122.8v2 M529.5,1122.8v2 M535.0,1122.8v2 M540.4,1122.8v2 M545.8,1122.8v4.5 M551.2,1122.8v2 M556.6,1122.8v2 M562.1,1122.8v2 M567.5,1122.8v2 M572.9,1122.8v4.5 M578.3,1122.8v2 M583.8,1122.8v2 M589.2,1122.8v2 M594.6,1122.8v2 M600.0,1122.8v4.5 M605.5,1122.8v2 M610.9,1122.8v2 M616.3,1122.8v2 M621.7,1122.8v2 M627.2,1122.8v4.5 M632.6,1122.8v2 M638.0,1122.8v2 M643.4,1122.8v2 M648.9,1122.8v2 M654.3,1122.8v4.5 M659.7,1122.8v2 M665.1,1122.8v2 M670.6,1122.8v2 M676.0,1122.8v2 M681.4,1122.8v4.5 M686.8,1122.8v2 M692.2,1122.8v2 M697.7,1122.8v2 M703.1,1122.8v2 M708.5,1122.8v4.5 M713.9,1122.8v2 M719.4,1122.8v2 M724.8,1122.8v2 M730.2,1122.8v2 M735.6,1122.8v4.5 M741.1,1122.8v2 M746.5,1122.8v2 M751.9,1122.8v2 M757.3,1122.8v2 M762.8,1122.8v4.5 M768.2,1122.8v2 M773.6,1122.8v2 M779.0,1122.8v2 M784.5,1122.8v2 M789.9,1122.8v4.5 M795.3,1122.8v2 M800.7,1122.8v2 M806.2,1122.8v2 M811.6,1122.8v2 M817.0,1122.8v4.5 M822.4,1122.8v2 M827.8,1122.8v2 M833.3,1122.8v2 M838.7,1122.8v2 M844.1,1122.8v4.5 M849.5,1122.8v2 M855.0,1122.8v2 M860.4,1122.8v2 M865.8,1122.8v2 M871.2,1122.8v4.5 M876.7,1122.8v2 M882.1,1122.8v2 M887.5,1122.8v2 M892.9,1122.8v2 M898.4,1122.8v4.5 M903.8,1122.8v2 M909.2,1122.8v2 M914.6,1122.8v2 M920.1,1122.8v2 M925.5,1122.8v4.5 M930.9,1122.8v2 M936.3,1122.8v2 M941.8,1122.8v2 M947.2,1122.8v2 M952.6,1122.8v4.5" stroke="#000" stroke-width="1.2" fill="none"/>
<line x1="410.2" y1="1109.5" x2="952.6" y2="1109.5" stroke="#000" stroke-width="2.2"/>
<polyline points="410.2,1109.0 411.2,1109.0 412.2,1109.0 413.2,1109.0 414.2,1109.0 415.2,1109.0 416.2,1109.0 417.2,1109.0 418.2,1109.0 419.2,1109.0 420.2,1109.0 421.2,1109.0 422.2,1109.0 423.2,1109.0 424.2,1109.0 425.2,1109.0 426.2,1109.0 427.2,1109.0 428.2,1109.0 429.2,1109.0 430.2,1109.0 431.2,1108.9 432.2,1108.9 433.2,1108.9 434.2,1108.9 435.2,1108.9 436.2,1108.9 437.2,1108.9 438.2,1108.9 439.2,1108.9 440.2,1108.9 441.2,1108.9 442.2,1108.9 443.2,1108.9 444.2,1108.9 445.2,1108.9 446.2,1108.9 447.2,1108.9 448.2,1108.9 449.2,1108.9 450.2,1108.9 451.2,1108.8 452.2,1108.8 453.2,1108.8 454.2,1108.8 455.2,1108.8 456.2,1108.8 457.2,1108.8 458.2,1108.8 459.2,1108.8 460.2,1108.8 461.2,1108.8 462.2,1108.8 463.2,1108.8 464.2,1108.8 465.2,1108.8 466.2,1108.8 467.2,1108.7 468.2,1108.7 469.2,1108.7 470.2,1108.7 471.2,1108.7 472.2,1108.7 473.2,1108.7 474.2,1108.7 475.2,1108.7 476.2,1108.7 477.2,1108.7 478.2,1108.7 479.2,1108.7 480.2,1108.6 481.2,1108.6 482.2,1108.6 483.2,1108.6 484.2,1108.6 485.2,1108.6 486.2,1108.6 487.2,1108.6 488.2,1108.6 489.2,1108.6 490.2,1108.6 491.2,1108.5 492.2,1108.5 493.2,1108.5 494.2,1108.5 495.2,1108.5 496.2,1108.5 497.2,1108.5 498.2,1108.5 499.2,1108.5 500.2,1108.4 501.2,1108.4 502.2,1108.4 503.2,1108.4 504.2,1108.4 505.2,1108.4 506.2,1108.4 507.2,1108.4 508.2,1108.3 509.2,1108.3 510.2,1108.3 511.2,1108.3 512.2,1108.3 513.2,1108.3 514.2,1108.3 515.2,1108.2 516.2,1108.2 517.2,1108.2 518.2,1108.2 519.2,1108.2 520.2,1108.2 521.2,1108.2 522.2,1108.1 523.2,1108.1 524.2,1108.1 525.2,1108.1 526.2,1108.1 527.2,1108.0 528.2,1108.0 529.2,1108.0 530.2,1108.0 531.2,1108.0 532.2,1107.9 533.2,1107.9 534.2,1107.9 535.2,1107.9 536.2,1107.9 537.2,1107.8 538.2,1107.8 539.2,1107.8 540.2,1107.8 541.2,1107.7 542.2,1107.7 543.2,1107.7 544.2,1107.7 545.2,1107.6 546.2,1107.6 547.2,1107.6 548.2,1107.6 549.2,1107.5 550.2,1107.5 551.2,1107.5 552.2,1107.4 553.2,1107.4 554.2,1107.4 555.2,1107.3 556.2,1107.3 557.2,1107.3 558.2,1107.2 559.2,1107.2 560.2,1107.2 561.2,1107.1 562.2,1107.1 563.2,1107.1 564.2,1107.0 565.2,1107.0 566.2,1106.9 567.2,1106.9 568.2,1106.8 569.2,1106.8 570.2,1106.7 571.2,1106.7 572.2,1106.6 573.2,1106.6 574.2,1106.5 575.2,1106.5 576.2,1106.4 577.2,1106.4 578.2,1106.3 579.2,1106.3 580.2,1106.2 581.2,1106.1 582.2,1106.1 583.2,1106.0 584.2,1105.9 585.2,1105.9 586.2,1105.8 587.2,1105.7 588.2,1105.7 589.2,1105.6 590.2,1105.5 591.2,1105.4 592.2,1105.3 593.2,1105.2 594.2,1105.2 595.2,1105.1 596.2,1105.0 597.2,1104.9 598.2,1104.8 599.2,1104.7 600.2,1104.6 601.2,1104.4 602.2,1104.3 603.2,1104.2 604.2,1104.1 605.2,1104.0 606.2,1103.8 607.2,1103.7 608.2,1103.5 609.2,1103.4 610.2,1103.2 611.2,1103.1 612.2,1102.9 613.2,1102.7 614.2,1102.5 615.2,1102.3 616.2,1102.1 617.2,1101.9 618.2,1101.7 619.2,1101.4 620.2,1101.2 621.2,1100.9 622.2,1100.6 623.2,1100.3 624.2,1099.9 625.2,1099.6 626.2,1099.2 627.2,1098.7 628.2,1098.2 629.2,1097.7 630.2,1097.1 631.2,1096.5 632.2,1095.8 633.2,1095.1 634.2,1094.2 635.2,1093.3 636.2,1092.3 637.2,1091.1 638.2,1089.9 639.2,1088.5 640.2,1086.9 641.2,1085.3 642.2,1083.4 643.2,1081.3 644.2,1079.1 645.2,1076.6 646.2,1073.8 647.2,1070.8 648.2,1067.6 649.2,1064.0 650.2,1060.1 651.2,1055.9 652.2,1051.4 653.2,1046.5 654.2,1041.2 655.2,1035.6 656.2,1029.6 657.2,1023.2 658.2,1016.5 659.2,1009.4 660.2,1002.0 661.2,994.3 662.2,986.3 663.2,978.0 664.2,969.5 665.2,960.9 666.2,952.1 667.2,943.2 668.2,934.3 669.2,925.3 670.2,916.3 671.2,907.2 672.2,898.5 673.2,890.7 674.2,885.4 675.2,885.4 676.2,890.7 677.2,898.5 678.2,907.2 679.2,916.3 680.2,925.3 681.2,934.3 682.2,943.2 683.2,952.1 684.2,960.9 685.2,969.5 686.2,978.0 687.2,986.3 688.2,994.3 689.2,1002.0 690.2,1009.4 691.2,1016.5 692.2,1023.2 693.2,1029.6 694.2,1035.6 695.2,1041.2 696.2,1046.5 697.2,1051.4 698.2,1055.9 699.2,1060.1 700.2,1064.0 701.2,1067.6 702.2,1070.8 703.2,1073.8 704.2,1076.6 705.2,1079.1 706.2,1081.3 707.2,1083.4 708.2,1085.3 709.2,1086.9 710.2,1088.5 711.2,1089.9 712.2,1091.1 713.2,1092.3 714.2,1093.3 715.2,1094.2 716.2,1095.1 717.2,1095.8 718.2,1096.5 719.2,1097.1 720.2,1097.7 721.2,1098.2 722.2,1098.7 723.2,1099.2 724.2,1099.6 725.2,1099.9 726.2,1100.3 727.2,1100.6 728.2,1100.9 729.2,1101.2 730.2,1101.4 731.2,1101.7 732.2,1101.9 733.2,1102.1 734.2,1102.3 735.2,1102.5 736.2,1102.7 737.2,1102.9 738.2,1103.1 739.2,1103.2 740.2,1103.4 741.2,1103.5 742.2,1103.7 743.2,1103.8 744.2,1104.0 745.2,1104.1 746.2,1104.2 747.2,1104.3 748.2,1104.4 749.2,1104.6 750.2,1104.7 751.2,1104.8 752.2,1104.9 753.2,1105.0 754.2,1105.1 755.2,1105.2 756.2,1105.2 757.2,1105.3 758.2,1105.4 759.2,1105.5 760.2,1105.6 761.2,1105.7 762.2,1105.7 763.2,1105.8 764.2,1105.9 765.2,1105.9 766.2,1106.0 767.2,1106.1 768.2,1106.1 769.2,1106.2 770.2,1106.3 771.2,1106.3 772.2,1106.4 773.2,1106.4 774.2,1106.5 775.2,1106.5 776.2,1106.6 777.2,1106.6 778.2,1106.7 779.2,1106.7 780.2,1106.8 781.2,1106.8 782.2,1106.9 783.2,1106.9 784.2,1107.0 785.2,1107.0 786.2,1107.1 787.2,1107.1 788.2,1107.1 789.2,1107.2 790.2,1107.2 791.2,1107.2 792.2,1107.3 793.2,1107.3 794.2,1107.3 795.2,1107.4 796.2,1107.4 797.2,1107.4 798.2,1107.5 799.2,1107.5 800.2,1107.5 801.2,1107.6 802.2,1107.6 803.2,1107.6 804.2,1107.6 805.2,1107.7 806.2,1107.7 807.2,1107.7 808.2,1107.7 809.2,1107.8 810.2,1107.8 811.2,1107.8 812.2,1107.8 813.2,1107.9 814.2,1107.9 815.2,1107.9 816.2,1107.9 817.2,1107.9 818.2,1108.0 819.2,1108.0 820.2,1108.0 821.2,1108.0 822.2,1108.0 823.2,1108.1 824.2,1108.1 825.2,1108.1 826.2,1108.1 827.2,1108.1 828.2,1108.2 829.2,1108.2 830.2,1108.2 831.2,1108.2 832.2,1108.2 833.2,1108.2 834.2,1108.2 835.2,1108.3 836.2,1108.3 837.2,1108.3 838.2,1108.3 839.2,1108.3 840.2,1108.3 841.2,1108.3 842.2,1108.4 843.2,1108.4 844.2,1108.4 845.2,1108.4 846.2,1108.4 847.2,1108.4 848.2,1108.4 849.2,1108.4 850.2,1108.5 851.2,1108.5 852.2,1108.5 853.2,1108.5 854.2,1108.5 855.2,1108.5 856.2,1108.5 857.2,1108.5 858.2,1108.5 859.2,1108.6 860.2,1108.6 861.2,1108.6 862.2,1108.6 863.2,1108.6 864.2,1108.6 865.2,1108.6 866.2,1108.6 867.2,1108.6 868.2,1108.6 869.2,1108.6 870.2,1108.7 871.2,1108.7 872.2,1108.7 873.2,1108.7 874.2,1108.7 875.2,1108.7 876.2,1108.7 877.2,1108.7 878.2,1108.7 879.2,1108.7 880.2,1108.7 881.2,1108.7 882.2,1108.7 883.2,1108.8 884.2,1108.8 885.2,1108.8 886.2,1108.8 887.2,1108.8 888.2,1108.8 889.2,1108.8 890.2,1108.8 891.2,1108.8 892.2,1108.8 893.2,1108.8 894.2,1108.8 895.2,1108.8 896.2,1108.8 897.2,1108.8 898.2,1108.8 899.2,1108.9 900.2,1108.9 901.2,1108.9 902.2,1108.9 903.2,1108.9 904.2,1108.9 905.2,1108.9 906.2,1108.9 907.2,1108.9 908.2,1108.9 909.2,1108.9 910.2,1108.9 911.2,1108.9 912.2,1108.9 913.2,1108.9 914.2,1108.9 915.2,1108.9 916.2,1108.9 917.2,1108.9 918.2,1108.9 919.2,1109.0 920.2,1109.0 921.2,1109.0 922.2,1109.0 923.2,1109.0 924.2,1109.0 925.2,1109.0 926.2,1109.0 927.2,1109.0 928.2,1109.0 929.2,1109.0 930.2,1109.0 931.2,1109.0 932.2,1109.0 933.2,1109.0 934.2,1109.0 935.2,1109.0 936.2,1109.0 937.2,1109.0 938.2,1109.0 939.2,1109.0 940.2,1109.0 941.2,1109.0 942.2,1109.0 943.2,1109.0 944.2,1109.0 945.2,1109.1 946.2,1109.1 947.2,1109.1 948.2,1109.1 949.2,1109.1 950.2,1109.1 951.2,1109.1 952.2,1109.1" fill="none" stroke="#000" stroke-width="1.2" stroke-linejoin="round" />
<polyline points="533.2,1109.1 534.2,1109.1 535.2,1109.1 536.2,1109.1 537.2,1109.1 538.2,1109.1 539.2,1109.1 540.2,1109.0 541.2,1109.0 542.2,1109.0 543.2,1109.0 544.2,1109.0 545.2,1109.0 546.2,1109.0 547.2,1109.0 548.2,1109.0 549.2,1108.9 550.2,1108.9 551.2,1108.9 552.2,1108.9 553.2,1108.9 554.2,1108.9 555.2,1108.8 556.2,1108.8 557.2,1108.8 558.2,1108.8 559.2,1108.8 560.2,1108.7 561.2,1108.7 562.2,1108.7 563.2,1108.7 564.2,1108.7 565.2,1108.6 566.2,1108.6 567.2,1108.6 568.2,1108.5 569.2,1108.5 570.2,1108.5 571.2,1108.4 572.2,1108.4 573.2,1108.3 574.2,1108.3 575.2,1108.2 576.2,1108.2 577.2,1108.1 578.2,1108.0 579.2,1107.9 580.2,1107.9 581.2,1107.8 582.2,1107.7 583.2,1107.6 584.2,1107.4 585.2,1107.3 586.2,1107.2 587.2,1107.0 588.2,1106.9 589.2,1106.7 590.2,1106.5 591.2,1106.3 592.2,1106.1 593.2,1105.8 594.2,1105.6 595.2,1105.3 596.2,1105.0 597.2,1104.7 598.2,1104.4 599.2,1104.0 600.2,1103.6 601.2,1103.2 602.2,1102.8 603.2,1102.4 604.2,1101.9 605.2,1101.4 606.2,1100.8 607.2,1100.3 608.2,1099.7 609.2,1099.1 610.2,1098.5 611.2,1097.9 612.2,1097.2 613.2,1096.5 614.2,1095.8 615.2,1095.1 616.2,1094.4 617.2,1093.6 618.2,1092.9 619.2,1092.2 620.2,1091.5 621.2,1090.9 622.2,1090.2 623.2,1089.7 624.2,1089.2 625.2,1088.8 626.2,1088.5 627.2,1088.3 628.2,1088.2 629.2,1088.2 630.2,1088.4 631.2,1088.6 632.2,1089.0 633.2,1089.4 634.2,1089.9 635.2,1090.5 636.2,1091.1 637.2,1091.8 638.2,1092.5 639.2,1093.2 640.2,1093.9 641.2,1094.7 642.2,1095.4 643.2,1096.1 644.2,1096.8 645.2,1097.5 646.2,1098.1 647.2,1098.8 648.2,1099.4 649.2,1100.0 650.2,1100.5 651.2,1101.1 652.2,1101.6 653.2,1102.1 654.2,1102.5 655.2,1103.0 656.2,1103.4 657.2,1103.8 658.2,1104.2 659.2,1104.5 660.2,1104.8 661.2,1105.1 662.2,1105.4 663.2,1105.7 664.2,1105.9 665.2,1106.2 666.2,1106.4 667.2,1106.6 668.2,1106.8 669.2,1106.9 670.2,1107.1 671.2,1107.2 672.2,1107.4 673.2,1107.5 674.2,1107.6 675.2,1107.7 676.2,1107.8 677.2,1107.9 678.2,1108.0 679.2,1108.0 680.2,1108.1 681.2,1108.2 682.2,1108.2 683.2,1108.3 684.2,1108.3 685.2,1108.4 686.2,1108.4 687.2,1108.5 688.2,1108.5 689.2,1108.5 690.2,1108.6 691.2,1108.6 692.2,1108.6 693.2,1108.7 694.2,1108.7 695.2,1108.7 696.2,1108.7 697.2,1108.8 698.2,1108.8 699.2,1108.8 700.2,1108.8 701.2,1108.8 702.2,1108.9 703.2,1108.9 704.2,1108.9 705.2,1108.9 706.2,1108.9 707.2,1108.9 708.2,1108.9 709.2,1109.0 710.2,1109.0 711.2,1109.0 712.2,1109.0 713.2,1109.0 714.2,1109.0 715.2,1109.0 716.2,1109.0 717.2,1109.0 718.2,1109.1 719.2,1109.1 720.2,1109.1 721.2,1109.1 722.2,1109.1 723.2,1109.1" fill="none" stroke="#000" stroke-width="1.2" stroke-linejoin="round" />
<polyline points="410.2,1086.7 411.2,1086.7 412.2,1086.7 413.2,1086.7 414.2,1086.7 415.2,1086.7 416.2,1086.7 417.2,1086.7 418.2,1086.7 419.2,1086.7 420.2,1086.7 421.2,1086.7 422.2,1086.7 423.2,1086.7 424.2,1086.7 425.2,1086.7 426.2,1086.7 427.2,1086.7 428.2,1086.7 429.2,1086.7 430.2,1086.6 431.2,1086.6 432.2,1086.6 433.2,1086.6 434.2,1086.6 435.2,1086.6 436.2,1086.6 437.2,1086.6 438.2,1086.6 439.2,1086.6 440.2,1086.6 441.2,1086.6 442.2,1086.6 443.2,1086.6 444.2,1086.6 445.2,1086.6 446.2,1086.6 447.2,1086.5 448.2,1086.5 449.2,1086.5 450.2,1086.5 451.2,1086.5 452.2,1086.5 453.2,1086.5 454.2,1086.5 455.2,1086.5 456.2,1086.5 457.2,1086.5 458.2,1086.5 459.2,1086.5 460.2,1086.5 461.2,1086.4 462.2,1086.4 463.2,1086.4 464.2,1086.4 465.2,1086.4 466.2,1086.4 467.2,1086.4 468.2,1086.4 469.2,1086.4 470.2,1086.4 471.2,1086.4 472.2,1086.3 473.2,1086.3 474.2,1086.3 475.2,1086.3 476.2,1086.3 477.2,1086.3 478.2,1086.3 479.2,1086.3 480.2,1086.3 481.2,1086.3 482.2,1086.2 483.2,1086.2 484.2,1086.2 485.2,1086.2 486.2,1086.2 487.2,1086.2 488.2,1086.2 489.2,1086.2 490.2,1086.1 491.2,1086.1 492.2,1086.1 493.2,1086.1 494.2,1086.1 495.2,1086.1 496.2,1086.1 497.2,1086.0 498.2,1086.0 499.2,1086.0 500.2,1086.0 501.2,1086.0 502.2,1086.0 503.2,1086.0 504.2,1085.9 505.2,1085.9 506.2,1085.9 507.2,1085.9 508.2,1085.9 509.2,1085.9 510.2,1085.8 511.2,1085.8 512.2,1085.8 513.2,1085.8 514.2,1085.8 515.2,1085.7 516.2,1085.7 517.2,1085.7 518.2,1085.7 519.2,1085.7 520.2,1085.6 521.2,1085.6 522.2,1085.6 523.2,1085.6 524.2,1085.5 525.2,1085.5 526.2,1085.5 527.2,1085.5 528.2,1085.4 529.2,1085.4 530.2,1085.4 531.2,1085.4 532.2,1085.3 533.2,1085.3 534.2,1085.3 535.2,1085.2 536.2,1085.2 537.2,1085.2 538.2,1085.1 539.2,1085.1 540.2,1085.1 541.2,1085.0 542.2,1085.0 543.2,1085.0 544.2,1084.9 545.2,1084.9 546.2,1084.9 547.2,1084.8 548.2,1084.8 549.2,1084.7 550.2,1084.7 551.2,1084.6 552.2,1084.6 553.2,1084.5 554.2,1084.5 555.2,1084.4 556.2,1084.4 557.2,1084.3 558.2,1084.3 559.2,1084.2 560.2,1084.2 561.2,1084.1 562.2,1084.0 563.2,1084.0 564.2,1083.9 565.2,1083.8 566.2,1083.8 567.2,1083.7 568.2,1083.6 569.2,1083.5 570.2,1083.4 571.2,1083.4 572.2,1083.3 573.2,1083.2 574.2,1083.1 575.2,1082.9 576.2,1082.8 577.2,1082.7 578.2,1082.6 579.2,1082.4 580.2,1082.3 581.2,1082.1 582.2,1082.0 583.2,1081.8 584.2,1081.6 585.2,1081.4 586.2,1081.2 587.2,1081.0 588.2,1080.7 589.2,1080.5 590.2,1080.2 591.2,1079.9 592.2,1079.6 593.2,1079.3 594.2,1078.9 595.2,1078.6 596.2,1078.2 597.2,1077.7 598.2,1077.3 599.2,1076.8 600.2,1076.3 601.2,1075.8 602.2,1075.2 603.2,1074.7 604.2,1074.1 605.2,1073.4 606.2,1072.7 607.2,1072.1 608.2,1071.3 609.2,1070.6 610.2,1069.8 611.2,1068.9 612.2,1068.1 613.2,1067.2 614.2,1066.3 615.2,1065.4 616.2,1064.5 617.2,1063.5 618.2,1062.5 619.2,1061.6 620.2,1060.6 621.2,1059.6 622.2,1058.7 623.2,1057.8 624.2,1057.0 625.2,1056.2 626.2,1055.5 627.2,1054.8 628.2,1054.2 629.2,1053.7 630.2,1053.3 631.2,1052.9 632.2,1052.6 633.2,1052.2 634.2,1051.9 635.2,1051.5 636.2,1051.1 637.2,1050.7 638.2,1050.1 639.2,1049.4 640.2,1048.6 641.2,1047.6 642.2,1046.5 643.2,1045.1 644.2,1043.5 645.2,1041.6 646.2,1039.5 647.2,1037.1 648.2,1034.4 649.2,1031.4 650.2,1028.1 651.2,1024.3 652.2,1020.2 653.2,1015.8 654.2,1010.9 655.2,1005.7 656.2,1000.0 657.2,993.9 658.2,987.5 659.2,980.6 660.2,973.5 661.2,965.9 662.2,958.1 663.2,950.0 664.2,941.6 665.2,933.1 666.2,924.4 667.2,915.6 668.2,906.7 669.2,897.7 670.2,888.7 671.2,879.7 672.2,871.0 673.2,863.2 674.2,858.0 675.2,858.1 676.2,863.5 677.2,871.5 678.2,880.5 679.2,889.7 680.2,898.9 681.2,908.1 682.2,917.2 683.2,926.3 684.2,935.2 685.2,944.1 686.2,952.7 687.2,961.2 688.2,969.3 689.2,977.2 690.2,984.8 691.2,992.0 692.2,998.8 693.2,1005.3 694.2,1011.4 695.2,1017.2 696.2,1022.5 697.2,1027.5 698.2,1032.2 699.2,1036.5 700.2,1040.4 701.2,1044.1 702.2,1047.4 703.2,1050.5 704.2,1053.2 705.2,1055.8 706.2,1058.1 707.2,1060.2 708.2,1062.1 709.2,1063.9 710.2,1065.4 711.2,1066.8 712.2,1068.1 713.2,1069.3 714.2,1070.3 715.2,1071.3 716.2,1072.2 717.2,1072.9 718.2,1073.7 719.2,1074.3 720.2,1074.9 721.2,1075.4 722.2,1075.9 723.2,1076.4 724.2,1076.8 725.2,1077.2 726.2,1077.6 727.2,1077.9 728.2,1078.2 729.2,1078.5 730.2,1078.8 731.2,1079.0 732.2,1079.3 733.2,1079.5 734.2,1079.7 735.2,1079.9 736.2,1080.1 737.2,1080.3 738.2,1080.5 739.2,1080.6 740.2,1080.8 741.2,1081.0 742.2,1081.1 743.2,1081.3 744.2,1081.4 745.2,1081.5 746.2,1081.7 747.2,1081.8 748.2,1081.9 749.2,1082.0 750.2,1082.1 751.2,1082.2 752.2,1082.4 753.2,1082.5 754.2,1082.6 755.2,1082.7 756.2,1082.8 757.2,1082.8 758.2,1082.9 759.2,1083.0 760.2,1083.1 761.2,1083.2 762.2,1083.3 763.2,1083.3 764.2,1083.4 765.2,1083.5 766.2,1083.6 767.2,1083.6 768.2,1083.7 769.2,1083.8 770.2,1083.8 771.2,1083.9 772.2,1084.0 773.2,1084.0 774.2,1084.1 775.2,1084.1 776.2,1084.2 777.2,1084.2 778.2,1084.3 779.2,1084.3 780.2,1084.4 781.2,1084.4 782.2,1084.5 783.2,1084.5 784.2,1084.6 785.2,1084.6 786.2,1084.7 787.2,1084.7 788.2,1084.7 789.2,1084.8 790.2,1084.8 791.2,1084.9 792.2,1084.9 793.2,1084.9 794.2,1085.0 795.2,1085.0 796.2,1085.0 797.2,1085.1 798.2,1085.1 799.2,1085.1 800.2,1085.2 801.2,1085.2 802.2,1085.2 803.2,1085.3 804.2,1085.3 805.2,1085.3 806.2,1085.3 807.2,1085.4 808.2,1085.4 809.2,1085.4 810.2,1085.5 811.2,1085.5 812.2,1085.5 813.2,1085.5 814.2,1085.6 815.2,1085.6 816.2,1085.6 817.2,1085.6 818.2,1085.6 819.2,1085.7 820.2,1085.7 821.2,1085.7 822.2,1085.7 823.2,1085.7 824.2,1085.8 825.2,1085.8 826.2,1085.8 827.2,1085.8 828.2,1085.8 829.2,1085.9 830.2,1085.9 831.2,1085.9 832.2,1085.9 833.2,1085.9 834.2,1085.9 835.2,1086.0 836.2,1086.0 837.2,1086.0 838.2,1086.0 839.2,1086.0 840.2,1086.0 841.2,1086.0 842.2,1086.1 843.2,1086.1 844.2,1086.1 845.2,1086.1 846.2,1086.1 847.2,1086.1 848.2,1086.1 849.2,1086.2 850.2,1086.2 851.2,1086.2 852.2,1086.2 853.2,1086.2 854.2,1086.2 855.2,1086.2 856.2,1086.2 857.2,1086.2 858.2,1086.3 859.2,1086.3 860.2,1086.3 861.2,1086.3 862.2,1086.3 863.2,1086.3 864.2,1086.3 865.2,1086.3 866.2,1086.3 867.2,1086.3 868.2,1086.4 869.2,1086.4 870.2,1086.4 871.2,1086.4 872.2,1086.4 873.2,1086.4 874.2,1086.4 875.2,1086.4 876.2,1086.4 877.2,1086.4 878.2,1086.4 879.2,1086.5 880.2,1086.5 881.2,1086.5 882.2,1086.5 883.2,1086.5 884.2,1086.5 885.2,1086.5 886.2,1086.5 887.2,1086.5 888.2,1086.5 889.2,1086.5 890.2,1086.5 891.2,1086.5 892.2,1086.5 893.2,1086.6 894.2,1086.6 895.2,1086.6 896.2,1086.6 897.2,1086.6 898.2,1086.6 899.2,1086.6 900.2,1086.6 901.2,1086.6 902.2,1086.6 903.2,1086.6 904.2,1086.6 905.2,1086.6 906.2,1086.6 907.2,1086.6 908.2,1086.6 909.2,1086.6 910.2,1086.7 911.2,1086.7 912.2,1086.7 913.2,1086.7 914.2,1086.7 915.2,1086.7 916.2,1086.7 917.2,1086.7 918.2,1086.7 919.2,1086.7 920.2,1086.7 921.2,1086.7 922.2,1086.7 923.2,1086.7 924.2,1086.7 925.2,1086.7 926.2,1086.7 927.2,1086.7 928.2,1086.7 929.2,1086.7 930.2,1086.7 931.2,1086.8 932.2,1086.8 933.2,1086.8 934.2,1086.8 935.2,1086.8 936.2,1086.8 937.2,1086.8 938.2,1086.8 939.2,1086.8 940.2,1086.8 941.2,1086.8 942.2,1086.8 943.2,1086.8 944.2,1086.8 945.2,1086.8 946.2,1086.8 947.2,1086.8 948.2,1086.8 949.2,1086.8 950.2,1086.8 951.2,1086.8 952.2,1086.8" fill="none" stroke="#000" stroke-width="1.2" stroke-linejoin="round" />
<polyline points="410.2,1057.8 411.2,1054.2 412.2,1048.9 413.2,1044.9 414.2,1043.6 415.2,1050.0 416.2,1057.5 417.2,1060.2 418.2,1060.6 419.2,1058.8 420.2,1055.4 421.2,1054.3 422.2,1052.4 423.2,1050.8 424.2,1051.3 425.2,1053.9 426.2,1057.0 427.2,1059.7 428.2,1058.6 429.2,1056.4 430.2,1055.4 431.2,1053.1 432.2,1053.0 433.2,1052.2 434.2,1049.9 435.2,1052.5 436.2,1055.4 437.2,1057.1 438.2,1052.5 439.2,1050.2 440.2,1047.0 441.2,1044.2 442.2,1042.6 443.2,1041.7 444.2,1040.1 445.2,1040.4 446.2,1041.4 447.2,1042.3 448.2,1042.0 449.2,1044.5 450.2,1045.5 451.2,1045.9 452.2,1047.5 453.2,1046.7 454.2,1041.3 455.2,1039.0 456.2,1034.4 457.2,1030.2 458.2,1027.0 459.2,1035.4 460.2,1040.3 461.2,1044.9 462.2,1046.1 463.2,1043.1 464.2,1040.7 465.2,1037.7 466.2,1034.9 467.2,1034.4 468.2,1033.2 469.2,1032.7 470.2,1032.7 471.2,1031.4 472.2,1032.1 473.2,1034.1 474.2,1037.7 475.2,1040.2 476.2,1043.2 477.2,1042.3 478.2,1039.7 479.2,1036.5 480.2,1035.4 481.2,1032.0 482.2,1030.3 483.2,1028.5 484.2,1027.7 485.2,1028.3 486.2,1029.2 487.2,1028.7 488.2,1030.3 489.2,1031.6 490.2,1033.1 491.2,1033.8 492.2,1037.1 493.2,1038.9 494.2,1040.3 495.2,1042.3 496.2,1045.0 497.2,1044.4 498.2,1040.9 499.2,1037.2 500.2,1037.1 501.2,1038.1 502.2,1038.0 503.2,1038.3 504.2,1039.3 505.2,1038.5 506.2,1040.3 507.2,1039.9 508.2,1041.7 509.2,1043.2 510.2,1044.3 511.2,1045.3 512.2,1046.8 513.2,1048.7 514.2,1048.9 515.2,1050.4 516.2,1052.3 517.2,1053.8 518.2,1052.5 519.2,1050.9 520.2,1050.1 521.2,1048.1 522.2,1048.7 523.2,1049.7 524.2,1051.4 525.2,1051.3 526.2,1052.3 527.2,1051.8 528.2,1050.7 529.2,1050.4 530.2,1050.6 531.2,1048.9 532.2,1048.6 533.2,1048.9 534.2,1047.6 535.2,1049.8 536.2,1052.4 537.2,1050.9 538.2,1049.4 539.2,1048.0 540.2,1046.6 541.2,1048.6 542.2,1050.0 543.2,1051.3 544.2,1051.2 545.2,1049.7 546.2,1048.5 547.2,1052.1 548.2,1056.1 549.2,1057.8 550.2,1052.9 551.2,1050.2 552.2,1047.6 553.2,1046.3 554.2,1047.8 555.2,1048.6 556.2,1047.2 557.2,1047.9 558.2,1050.0 559.2,1050.8 560.2,1052.3 561.2,1052.1 562.2,1046.0 563.2,1041.6 564.2,1038.0 565.2,1042.0 566.2,1045.7 567.2,1048.7 568.2,1048.2 569.2,1049.5 570.2,1050.3 571.2,1049.2 572.2,1048.8 573.2,1047.7 574.2,1046.6 575.2,1045.8 576.2,1042.9 577.2,1040.8 578.2,1041.8 579.2,1047.3 580.2,1049.7 581.2,1047.2 582.2,1042.9 583.2,1040.5 584.2,1039.3 585.2,1044.1 586.2,1046.2 587.2,1041.4 588.2,1039.0 589.2,1038.3 590.2,1039.6 591.2,1042.0 592.2,1042.3 593.2,1039.5 594.2,1037.2 595.2,1034.3 596.2,1036.5 597.2,1037.5 598.2,1038.6 599.2,1038.8 600.2,1039.2 601.2,1037.4 602.2,1035.6 603.2,1032.7 604.2,1031.1 605.2,1028.8 606.2,1025.4 607.2,1023.3 608.2,1020.1 609.2,1018.4 610.2,1019.3 611.2,1020.3 612.2,1018.7 613.2,1016.3 614.2,1014.6 615.2,1012.3 616.2,1009.8 617.2,1009.7 618.2,1012.3 619.2,1015.8 620.2,1016.8 621.2,1013.3 622.2,1009.1 623.2,1007.3 624.2,1007.0 625.2,1011.1 626.2,1014.8 627.2,1013.8 628.2,1011.1 629.2,1008.0 630.2,1003.8 631.2,1002.4 632.2,1000.9 633.2,998.6 634.2,996.4 635.2,996.0 636.2,993.5 637.2,994.0 638.2,995.9 639.2,998.3 640.2,999.7 641.2,999.1 642.2,999.7 643.2,999.4 644.2,998.8 645.2,998.2 646.2,997.2 647.2,999.2 648.2,998.1 649.2,996.0 650.2,992.8 651.2,988.5 652.2,983.5 653.2,979.2 654.2,973.7 655.2,967.7 656.2,961.9 657.2,955.6 658.2,949.3 659.2,941.1 660.2,934.5 661.2,925.9 662.2,918.1 663.2,909.3 664.2,899.9 665.2,888.4 666.2,873.5 667.2,857.5 668.2,843.0 669.2,829.9 670.2,809.6 671.2,801.3 672.2,794.8 673.2,789.0 674.2,787.5 675.2,793.0 676.2,808.0 677.2,832.2 678.2,844.9 679.2,858.0 680.2,875.4 681.2,896.4 682.2,904.8 683.2,912.9 684.2,921.1 685.2,929.8 686.2,937.8 687.2,947.1 688.2,953.2 689.2,960.3 690.2,969.0 691.2,973.7 692.2,980.4 693.2,986.7 694.2,991.8 695.2,996.9 696.2,1002.0 697.2,1006.6 698.2,1009.2 699.2,1012.7 700.2,1015.3 701.2,1017.9 702.2,1018.9 703.2,1016.8 704.2,1015.4 705.2,1018.6 706.2,1020.7 707.2,1022.7 708.2,1027.4 709.2,1036.9 710.2,1043.3 711.2,1043.4 712.2,1043.8 713.2,1042.6 714.2,1043.3 715.2,1042.6 716.2,1044.1 717.2,1046.0 718.2,1047.0 719.2,1046.6 720.2,1048.7 721.2,1050.1 722.2,1047.0 723.2,1045.0 724.2,1043.6 725.2,1041.6 726.2,1044.7 727.2,1044.8 728.2,1046.7 729.2,1048.3 730.2,1049.5 731.2,1050.6 732.2,1050.9 733.2,1051.2 734.2,1051.6 735.2,1051.1 736.2,1052.0 737.2,1052.3 738.2,1049.7 739.2,1051.2 740.2,1052.4 741.2,1054.0 742.2,1056.9 743.2,1058.8 744.2,1060.1 745.2,1059.4 746.2,1055.8 747.2,1052.4 748.2,1048.1 749.2,1048.0 750.2,1050.6 751.2,1051.3 752.2,1053.3 753.2,1055.1 754.2,1054.1 755.2,1050.6 756.2,1047.5 757.2,1047.8 758.2,1050.7 759.2,1050.8 760.2,1050.3 761.2,1049.8 762.2,1048.2 763.2,1046.2 764.2,1046.1 765.2,1047.5 766.2,1050.9 767.2,1049.5 768.2,1045.1 769.2,1042.3 770.2,1038.8 771.2,1044.1 772.2,1048.7 773.2,1054.3 774.2,1051.0 775.2,1046.5 776.2,1046.7 777.2,1048.2 778.2,1049.7 779.2,1050.4 780.2,1050.3 781.2,1049.4 782.2,1048.8 783.2,1048.4 784.2,1047.7 785.2,1048.6 786.2,1049.4 787.2,1050.1 788.2,1047.7 789.2,1041.6 790.2,1038.9 791.2,1043.6 792.2,1047.8 793.2,1052.4 794.2,1056.6 795.2,1060.3 796.2,1057.6 797.2,1055.6 798.2,1050.0 799.2,1050.8 800.2,1052.6 801.2,1054.4 802.2,1056.6 803.2,1053.3 804.2,1048.0 805.2,1043.9 806.2,1040.9 807.2,1040.7 808.2,1041.6 809.2,1041.4 810.2,1042.0 811.2,1041.7 812.2,1044.0 813.2,1043.9 814.2,1044.3 815.2,1045.2 816.2,1046.1 817.2,1045.0 818.2,1041.7 819.2,1040.4 820.2,1039.4 821.2,1040.3 822.2,1040.3 823.2,1042.0 824.2,1044.0 825.2,1048.9 826.2,1053.9 827.2,1053.2 828.2,1048.4 829.2,1044.4 830.2,1042.2 831.2,1046.2 832.2,1051.1 833.2,1057.5 834.2,1058.5 835.2,1057.2 836.2,1054.9 837.2,1052.0 838.2,1049.3 839.2,1047.0 840.2,1044.2 841.2,1044.4 842.2,1049.2 843.2,1054.0 844.2,1056.5 845.2,1053.4 846.2,1049.3 847.2,1045.5 848.2,1046.5 849.2,1046.5 850.2,1047.7 851.2,1047.9 852.2,1048.5 853.2,1049.7 854.2,1050.5 855.2,1049.0 856.2,1049.9 857.2,1047.0 858.2,1043.6 859.2,1043.5 860.2,1046.0 861.2,1042.0 862.2,1035.6 863.2,1032.6 864.2,1032.3 865.2,1032.3 866.2,1031.4 867.2,1032.0 868.2,1032.0 869.2,1030.5 870.2,1024.9 871.2,1023.1 872.2,1022.5 873.2,1023.1 874.2,1023.4 875.2,1024.9 876.2,1026.9 877.2,1029.7 878.2,1029.7 879.2,1027.3 880.2,1025.6 881.2,1024.1 882.2,1031.1 883.2,1038.1 884.2,1039.4 885.2,1042.0 886.2,1045.3 887.2,1044.8 888.2,1042.5 889.2,1042.7 890.2,1045.4 891.2,1044.2 892.2,1039.5 893.2,1035.2 894.2,1037.2 895.2,1040.5 896.2,1041.3 897.2,1042.2 898.2,1043.8 899.2,1044.9 900.2,1046.5 901.2,1047.1 902.2,1048.6 903.2,1049.6 904.2,1049.8 905.2,1053.6 906.2,1059.1 907.2,1056.3 908.2,1054.4 909.2,1051.7 910.2,1050.9 911.2,1048.0 912.2,1050.2 913.2,1054.5 914.2,1055.9 915.2,1059.5 916.2,1059.0 917.2,1057.2 918.2,1056.3 919.2,1053.4 920.2,1052.3 921.2,1050.0 922.2,1048.2 923.2,1044.6 924.2,1045.6 925.2,1048.7 926.2,1049.3 927.2,1052.2 928.2,1054.6 929.2,1053.0 930.2,1051.8 931.2,1051.3 932.2,1048.8 933.2,1048.5 934.2,1049.9 935.2,1051.3 936.2,1051.5 937.2,1047.9 938.2,1044.0 939.2,1044.0 940.2,1049.9 941.2,1055.5 942.2,1061.6 943.2,1059.2 944.2,1055.9 945.2,1056.5 946.2,1059.7 947.2,1060.9 948.2,1056.5 949.2,1052.0 950.2,1048.0 951.2,1049.3 952.2,1052.0" fill="none" stroke="#000" stroke-width="1.45" stroke-linejoin="round" />
<line x1="414.2" y1="1490" x2="955.8" y2="1490" stroke="#000" stroke-width="1.3"/>
<path d="M414.8,1490.0v5 M420.2,1490.0v1.8 M425.6,1490.0v1.8 M431.0,1490.0v1.8 M436.5,1490.0v1.8 M441.9,1490.0v3.5 M447.3,1490.0v1.8 M452.7,1490.0v1.8 M458.1,1490.0v1.8 M463.5,1490.0v1.8 M469.0,1490.0v5 M474.4,1490.0v1.8 M479.8,1490.0v1.8 M485.2,1490.0v1.8 M490.6,1490.0v1.8 M496.0,1490.0v3.5 M501.5,1490.0v1.8 M506.9,1490.0v1.8 M512.3,1490.0v1.8 M517.7,1490.0v1.8 M523.1,1490.0v5 M528.5,1490.0v1.8 M534.0,1490.0v1.8 M539.4,1490.0v1.8 M544.8,1490.0v1.8 M550.2,1490.0v3.5 M555.6,1490.0v1.8 M561.0,1490.0v1.8 M566.4,1490.0v1.8 M571.9,1490.0v1.8 M577.3,1490.0v5 M582.7,1490.0v1.8 M588.1,1490.0v1.8 M593.5,1490.0v1.8 M598.9,1490.0v1.8 M604.4,1490.0v3.5 M609.8,1490.0v1.8 M615.2,1490.0v1.8 M620.6,1490.0v1.8 M626.0,1490.0v1.8 M631.4,1490.0v5 M636.9,1490.0v1.8 M642.3,1490.0v1.8 M647.7,1490.0v1.8 M653.1,1490.0v1.8 M658.5,1490.0v3.5 M663.9,1490.0v1.8 M669.4,1490.0v1.8 M674.8,1490.0v1.8 M680.2,1490.0v1.8 M685.6,1490.0v5 M691.0,1490.0v1.8 M696.4,1490.0v1.8 M701.8,1490.0v1.8 M707.3,1490.0v1.8 M712.7,1490.0v3.5 M718.1,1490.0v1.8 M723.5,1490.0v1.8 M728.9,1490.0v1.8 M734.3,1490.0v1.8 M739.8,1490.0v5 M745.2,1490.0v1.8 M750.6,1490.0v1.8 M756.0,1490.0v1.8 M761.4,1490.0v1.8 M766.8,1490.0v3.5 M772.3,1490.0v1.8 M777.7,1490.0v1.8 M783.1,1490.0v1.8 M788.5,1490.0v1.8 M793.9,1490.0v5 M799.3,1490.0v1.8 M804.8,1490.0v1.8 M810.2,1490.0v1.8 M815.6,1490.0v1.8 M821.0,1490.0v3.5 M826.4,1490.0v1.8 M831.8,1490.0v1.8 M837.2,1490.0v1.8 M842.7,1490.0v1.8 M848.1,1490.0v5 M853.5,1490.0v1.8 M858.9,1490.0v1.8 M864.3,1490.0v1.8 M869.7,1490.0v1.8 M875.2,1490.0v3.5 M880.6,1490.0v1.8 M886.0,1490.0v1.8 M891.4,1490.0v1.8 M896.8,1490.0v1.8 M902.2,1490.0v5 M907.7,1490.0v1.8 M913.1,1490.0v1.8 M918.5,1490.0v1.8 M923.9,1490.0v1.8 M929.3,1490.0v3.5 M934.7,1490.0v1.8 M940.2,1490.0v1.8 M945.6,1490.0v1.8 M951.0,1490.0v1.8 M956.4,1490.0v5" stroke="#000" stroke-width="1.2" fill="none"/>
<line x1="414.2" y1="1477.2" x2="955.8" y2="1477.2" stroke="#000" stroke-width="2.2"/>
<polyline points="414.2,1476.7 415.2,1476.7 416.2,1476.7 417.2,1476.7 418.2,1476.7 419.2,1476.7 420.2,1476.7 421.2,1476.7 422.2,1476.6 423.2,1476.6 424.2,1476.6 425.2,1476.6 426.2,1476.6 427.2,1476.6 428.2,1476.6 429.2,1476.6 430.2,1476.6 431.2,1476.6 432.2,1476.6 433.2,1476.6 434.2,1476.6 435.2,1476.6 436.2,1476.6 437.2,1476.6 438.2,1476.6 439.2,1476.6 440.2,1476.6 441.2,1476.6 442.2,1476.5 443.2,1476.5 444.2,1476.5 445.2,1476.5 446.2,1476.5 447.2,1476.5 448.2,1476.5 449.2,1476.5 450.2,1476.5 451.2,1476.5 452.2,1476.5 453.2,1476.5 454.2,1476.5 455.2,1476.5 456.2,1476.5 457.2,1476.5 458.2,1476.5 459.2,1476.4 460.2,1476.4 461.2,1476.4 462.2,1476.4 463.2,1476.4 464.2,1476.4 465.2,1476.4 466.2,1476.4 467.2,1476.4 468.2,1476.4 469.2,1476.4 470.2,1476.4 471.2,1476.4 472.2,1476.3 473.2,1476.3 474.2,1476.3 475.2,1476.3 476.2,1476.3 477.2,1476.3 478.2,1476.3 479.2,1476.3 480.2,1476.3 481.2,1476.3 482.2,1476.3 483.2,1476.3 484.2,1476.2 485.2,1476.2 486.2,1476.2 487.2,1476.2 488.2,1476.2 489.2,1476.2 490.2,1476.2 491.2,1476.2 492.2,1476.2 493.2,1476.1 494.2,1476.1 495.2,1476.1 496.2,1476.1 497.2,1476.1 498.2,1476.1 499.2,1476.1 500.2,1476.1 501.2,1476.1 502.2,1476.0 503.2,1476.0 504.2,1476.0 505.2,1476.0 506.2,1476.0 507.2,1476.0 508.2,1476.0 509.2,1475.9 510.2,1475.9 511.2,1475.9 512.2,1475.9 513.2,1475.9 514.2,1475.9 515.2,1475.9 516.2,1475.8 517.2,1475.8 518.2,1475.8 519.2,1475.8 520.2,1475.8 521.2,1475.7 522.2,1475.7 523.2,1475.7 524.2,1475.7 525.2,1475.7 526.2,1475.7 527.2,1475.6 528.2,1475.6 529.2,1475.6 530.2,1475.6 531.2,1475.6 532.2,1475.5 533.2,1475.5 534.2,1475.5 535.2,1475.5 536.2,1475.4 537.2,1475.4 538.2,1475.4 539.2,1475.4 540.2,1475.3 541.2,1475.3 542.2,1475.3 543.2,1475.3 544.2,1475.2 545.2,1475.2 546.2,1475.2 547.2,1475.1 548.2,1475.1 549.2,1475.1 550.2,1475.0 551.2,1475.0 552.2,1475.0 553.2,1474.9 554.2,1474.9 555.2,1474.9 556.2,1474.8 557.2,1474.8 558.2,1474.8 559.2,1474.7 560.2,1474.7 561.2,1474.6 562.2,1474.6 563.2,1474.6 564.2,1474.5 565.2,1474.5 566.2,1474.4 567.2,1474.4 568.2,1474.3 569.2,1474.3 570.2,1474.2 571.2,1474.2 572.2,1474.1 573.2,1474.1 574.2,1474.0 575.2,1473.9 576.2,1473.9 577.2,1473.8 578.2,1473.8 579.2,1473.7 580.2,1473.6 581.2,1473.6 582.2,1473.5 583.2,1473.4 584.2,1473.3 585.2,1473.3 586.2,1473.2 587.2,1473.1 588.2,1473.0 589.2,1472.9 590.2,1472.8 591.2,1472.7 592.2,1472.6 593.2,1472.5 594.2,1472.4 595.2,1472.3 596.2,1472.2 597.2,1472.1 598.2,1472.0 599.2,1471.9 600.2,1471.8 601.2,1471.6 602.2,1471.5 603.2,1471.4 604.2,1471.2 605.2,1471.1 606.2,1470.9 607.2,1470.8 608.2,1470.6 609.2,1470.5 610.2,1470.3 611.2,1470.1 612.2,1469.9 613.2,1469.7 614.2,1469.5 615.2,1469.3 616.2,1469.1 617.2,1468.9 618.2,1468.6 619.2,1468.4 620.2,1468.1 621.2,1467.9 622.2,1467.6 623.2,1467.3 624.2,1467.0 625.2,1466.7 626.2,1466.4 627.2,1466.1 628.2,1465.7 629.2,1465.3 630.2,1464.9 631.2,1464.5 632.2,1464.1 633.2,1463.6 634.2,1463.1 635.2,1462.6 636.2,1462.1 637.2,1461.5 638.2,1460.8 639.2,1460.2 640.2,1459.4 641.2,1458.6 642.2,1457.7 643.2,1456.7 644.2,1455.6 645.2,1454.4 646.2,1453.0 647.2,1451.5 648.2,1449.8 649.2,1447.8 650.2,1445.6 651.2,1443.1 652.2,1440.3 653.2,1437.1 654.2,1433.4 655.2,1429.3 656.2,1424.7 657.2,1419.5 658.2,1413.7 659.2,1407.2 660.2,1400.0 661.2,1392.1 662.2,1383.4 663.2,1373.8 664.2,1363.5 665.2,1352.5 666.2,1340.7 667.2,1328.3 668.2,1315.4 669.2,1302.1 670.2,1288.6 671.2,1275.3 672.2,1262.3 673.2,1250.0 674.2,1238.8 675.2,1229.4 676.2,1222.3 677.2,1219.3 678.2,1223.5 679.2,1231.1 680.2,1240.9 681.2,1252.3 682.2,1264.8 683.2,1277.9 684.2,1291.3 685.2,1304.8 686.2,1318.0 687.2,1330.8 688.2,1343.1 689.2,1354.7 690.2,1365.7 691.2,1375.8 692.2,1385.2 693.2,1393.7 694.2,1401.5 695.2,1408.6 696.2,1414.9 697.2,1420.6 698.2,1425.7 699.2,1430.2 700.2,1434.2 701.2,1437.7 702.2,1440.9 703.2,1443.6 704.2,1446.1 705.2,1448.2 706.2,1450.1 707.2,1451.8 708.2,1453.3 709.2,1454.6 710.2,1455.8 711.2,1456.9 712.2,1457.9 713.2,1458.8 714.2,1459.6 715.2,1460.3 716.2,1461.0 717.2,1461.6 718.2,1462.2 719.2,1462.7 720.2,1463.2 721.2,1463.7 722.2,1464.2 723.2,1464.6 724.2,1465.0 725.2,1465.4 726.2,1465.8 727.2,1466.1 728.2,1466.5 729.2,1466.8 730.2,1467.1 731.2,1467.4 732.2,1467.7 733.2,1467.9 734.2,1468.2 735.2,1468.4 736.2,1468.7 737.2,1468.9 738.2,1469.1 739.2,1469.4 740.2,1469.6 741.2,1469.8 742.2,1469.9 743.2,1470.1 744.2,1470.3 745.2,1470.5 746.2,1470.7 747.2,1470.8 748.2,1471.0 749.2,1471.1 750.2,1471.3 751.2,1471.4 752.2,1471.5 753.2,1471.7 754.2,1471.8 755.2,1471.9 756.2,1472.0 757.2,1472.1 758.2,1472.3 759.2,1472.4 760.2,1472.5 761.2,1472.6 762.2,1472.7 763.2,1472.8 764.2,1472.9 765.2,1472.9 766.2,1473.0 767.2,1473.1 768.2,1473.2 769.2,1473.3 770.2,1473.3 771.2,1473.4 772.2,1473.5 773.2,1473.6 774.2,1473.6 775.2,1473.7 776.2,1473.8 777.2,1473.8 778.2,1473.9 779.2,1474.0 780.2,1474.0 781.2,1474.1 782.2,1474.1 783.2,1474.2 784.2,1474.2 785.2,1474.3 786.2,1474.3 787.2,1474.4 788.2,1474.4 789.2,1474.5 790.2,1474.5 791.2,1474.6 792.2,1474.6 793.2,1474.6 794.2,1474.7 795.2,1474.7 796.2,1474.8 797.2,1474.8 798.2,1474.8 799.2,1474.9 800.2,1474.9 801.2,1475.0 802.2,1475.0 803.2,1475.0 804.2,1475.1 805.2,1475.1 806.2,1475.1 807.2,1475.1 808.2,1475.2 809.2,1475.2 810.2,1475.2 811.2,1475.3 812.2,1475.3 813.2,1475.3 814.2,1475.3 815.2,1475.4 816.2,1475.4 817.2,1475.4 818.2,1475.4 819.2,1475.5 820.2,1475.5 821.2,1475.5 822.2,1475.5 823.2,1475.6 824.2,1475.6 825.2,1475.6 826.2,1475.6 827.2,1475.6 828.2,1475.7 829.2,1475.7 830.2,1475.7 831.2,1475.7 832.2,1475.7 833.2,1475.8 834.2,1475.8 835.2,1475.8 836.2,1475.8 837.2,1475.8 838.2,1475.8 839.2,1475.9 840.2,1475.9 841.2,1475.9 842.2,1475.9 843.2,1475.9 844.2,1475.9 845.2,1475.9 846.2,1476.0 847.2,1476.0 848.2,1476.0 849.2,1476.0 850.2,1476.0 851.2,1476.0 852.2,1476.0 853.2,1476.1 854.2,1476.1 855.2,1476.1 856.2,1476.1 857.2,1476.1 858.2,1476.1 859.2,1476.1 860.2,1476.1 861.2,1476.2 862.2,1476.2 863.2,1476.2 864.2,1476.2 865.2,1476.2 866.2,1476.2 867.2,1476.2 868.2,1476.2 869.2,1476.2 870.2,1476.2 871.2,1476.3 872.2,1476.3 873.2,1476.3 874.2,1476.3 875.2,1476.3 876.2,1476.3 877.2,1476.3 878.2,1476.3 879.2,1476.3 880.2,1476.3 881.2,1476.3 882.2,1476.4 883.2,1476.4 884.2,1476.4 885.2,1476.4 886.2,1476.4 887.2,1476.4 888.2,1476.4 889.2,1476.4 890.2,1476.4 891.2,1476.4 892.2,1476.4 893.2,1476.4 894.2,1476.4 895.2,1476.4 896.2,1476.5 897.2,1476.5 898.2,1476.5 899.2,1476.5 900.2,1476.5 901.2,1476.5 902.2,1476.5 903.2,1476.5 904.2,1476.5 905.2,1476.5 906.2,1476.5 907.2,1476.5 908.2,1476.5 909.2,1476.5 910.2,1476.5 911.2,1476.5 912.2,1476.6 913.2,1476.6 914.2,1476.6 915.2,1476.6 916.2,1476.6 917.2,1476.6 918.2,1476.6 919.2,1476.6 920.2,1476.6 921.2,1476.6 922.2,1476.6 923.2,1476.6 924.2,1476.6 925.2,1476.6 926.2,1476.6 927.2,1476.6 928.2,1476.6 929.2,1476.6 930.2,1476.6 931.2,1476.6 932.2,1476.6 933.2,1476.7 934.2,1476.7 935.2,1476.7 936.2,1476.7 937.2,1476.7 938.2,1476.7 939.2,1476.7 940.2,1476.7 941.2,1476.7 942.2,1476.7 943.2,1476.7 944.2,1476.7 945.2,1476.7 946.2,1476.7 947.2,1476.7 948.2,1476.7 949.2,1476.7 950.2,1476.7 951.2,1476.7 952.2,1476.7 953.2,1476.7 954.2,1476.7 955.2,1476.7" fill="none" stroke="#000" stroke-width="1.2" stroke-linejoin="round" />
<polyline points="559.2,1476.8 560.2,1476.8 561.2,1476.8 562.2,1476.8 563.2,1476.8 564.2,1476.8 565.2,1476.7 566.2,1476.7 567.2,1476.7 568.2,1476.7 569.2,1476.7 570.2,1476.7 571.2,1476.6 572.2,1476.6 573.2,1476.6 574.2,1476.6 575.2,1476.6 576.2,1476.5 577.2,1476.5 578.2,1476.5 579.2,1476.5 580.2,1476.4 581.2,1476.4 582.2,1476.4 583.2,1476.3 584.2,1476.3 585.2,1476.2 586.2,1476.2 587.2,1476.1 588.2,1476.1 589.2,1476.0 590.2,1476.0 591.2,1475.9 592.2,1475.8 593.2,1475.7 594.2,1475.6 595.2,1475.5 596.2,1475.4 597.2,1475.3 598.2,1475.1 599.2,1474.9 600.2,1474.7 601.2,1474.5 602.2,1474.3 603.2,1474.1 604.2,1473.8 605.2,1473.5 606.2,1473.2 607.2,1472.8 608.2,1472.4 609.2,1472.0 610.2,1471.6 611.2,1471.1 612.2,1470.6 613.2,1470.0 614.2,1469.5 615.2,1468.9 616.2,1468.3 617.2,1467.7 618.2,1467.1 619.2,1466.4 620.2,1465.8 621.2,1465.2 622.2,1464.6 623.2,1464.1 624.2,1463.7 625.2,1463.3 626.2,1463.0 627.2,1462.8 628.2,1462.7 629.2,1462.7 630.2,1462.9 631.2,1463.1 632.2,1463.4 633.2,1463.8 634.2,1464.3 635.2,1464.9 636.2,1465.4 637.2,1466.1 638.2,1466.7 639.2,1467.3 640.2,1467.9 641.2,1468.5 642.2,1469.1 643.2,1469.7 644.2,1470.3 645.2,1470.8 646.2,1471.3 647.2,1471.7 648.2,1472.2 649.2,1472.6 650.2,1472.9 651.2,1473.3 652.2,1473.6 653.2,1473.9 654.2,1474.2 655.2,1474.4 656.2,1474.6 657.2,1474.8 658.2,1475.0 659.2,1475.2 660.2,1475.3 661.2,1475.4 662.2,1475.6 663.2,1475.7 664.2,1475.8 665.2,1475.8 666.2,1475.9 667.2,1476.0 668.2,1476.1 669.2,1476.1 670.2,1476.2 671.2,1476.2 672.2,1476.3 673.2,1476.3 674.2,1476.3 675.2,1476.4 676.2,1476.4 677.2,1476.4 678.2,1476.5 679.2,1476.5 680.2,1476.5 681.2,1476.5 682.2,1476.6 683.2,1476.6 684.2,1476.6 685.2,1476.6 686.2,1476.6 687.2,1476.7 688.2,1476.7 689.2,1476.7 690.2,1476.7 691.2,1476.7 692.2,1476.7 693.2,1476.8 694.2,1476.8 695.2,1476.8 696.2,1476.8 697.2,1476.8" fill="none" stroke="#000" stroke-width="1.2" stroke-linejoin="round" />
<polyline points="414.2,1453.9 415.2,1453.9 416.2,1453.9 417.2,1453.9 418.2,1453.9 419.2,1453.9 420.2,1453.9 421.2,1453.9 422.2,1453.9 423.2,1453.9 424.2,1453.9 425.2,1453.9 426.2,1453.9 427.2,1453.9 428.2,1453.9 429.2,1453.9 430.2,1453.9 431.2,1453.9 432.2,1453.9 433.2,1453.8 434.2,1453.8 435.2,1453.8 436.2,1453.8 437.2,1453.8 438.2,1453.8 439.2,1453.8 440.2,1453.8 441.2,1453.8 442.2,1453.8 443.2,1453.8 444.2,1453.8 445.2,1453.8 446.2,1453.8 447.2,1453.8 448.2,1453.8 449.2,1453.7 450.2,1453.7 451.2,1453.7 452.2,1453.7 453.2,1453.7 454.2,1453.7 455.2,1453.7 456.2,1453.7 457.2,1453.7 458.2,1453.7 459.2,1453.7 460.2,1453.7 461.2,1453.7 462.2,1453.7 463.2,1453.6 464.2,1453.6 465.2,1453.6 466.2,1453.6 467.2,1453.6 468.2,1453.6 469.2,1453.6 470.2,1453.6 471.2,1453.6 472.2,1453.6 473.2,1453.6 474.2,1453.6 475.2,1453.5 476.2,1453.5 477.2,1453.5 478.2,1453.5 479.2,1453.5 480.2,1453.5 481.2,1453.5 482.2,1453.5 483.2,1453.5 484.2,1453.4 485.2,1453.4 486.2,1453.4 487.2,1453.4 488.2,1453.4 489.2,1453.4 490.2,1453.4 491.2,1453.4 492.2,1453.4 493.2,1453.3 494.2,1453.3 495.2,1453.3 496.2,1453.3 497.2,1453.3 498.2,1453.3 499.2,1453.3 500.2,1453.2 501.2,1453.2 502.2,1453.2 503.2,1453.2 504.2,1453.2 505.2,1453.2 506.2,1453.2 507.2,1453.1 508.2,1453.1 509.2,1453.1 510.2,1453.1 511.2,1453.1 512.2,1453.1 513.2,1453.0 514.2,1453.0 515.2,1453.0 516.2,1453.0 517.2,1453.0 518.2,1452.9 519.2,1452.9 520.2,1452.9 521.2,1452.9 522.2,1452.9 523.2,1452.8 524.2,1452.8 525.2,1452.8 526.2,1452.8 527.2,1452.7 528.2,1452.7 529.2,1452.7 530.2,1452.7 531.2,1452.6 532.2,1452.6 533.2,1452.6 534.2,1452.6 535.2,1452.5 536.2,1452.5 537.2,1452.5 538.2,1452.5 539.2,1452.4 540.2,1452.4 541.2,1452.4 542.2,1452.3 543.2,1452.3 544.2,1452.3 545.2,1452.2 546.2,1452.2 547.2,1452.2 548.2,1452.1 549.2,1452.1 550.2,1452.0 551.2,1452.0 552.2,1452.0 553.2,1451.9 554.2,1451.9 555.2,1451.8 556.2,1451.8 557.2,1451.7 558.2,1451.7 559.2,1451.6 560.2,1451.6 561.2,1451.5 562.2,1451.5 563.2,1451.4 564.2,1451.4 565.2,1451.3 566.2,1451.2 567.2,1451.2 568.2,1451.1 569.2,1451.0 570.2,1451.0 571.2,1450.9 572.2,1450.8 573.2,1450.8 574.2,1450.7 575.2,1450.6 576.2,1450.5 577.2,1450.4 578.2,1450.3 579.2,1450.2 580.2,1450.2 581.2,1450.0 582.2,1449.9 583.2,1449.8 584.2,1449.7 585.2,1449.6 586.2,1449.5 587.2,1449.3 588.2,1449.2 589.2,1449.1 590.2,1448.9 591.2,1448.7 592.2,1448.6 593.2,1448.4 594.2,1448.2 595.2,1448.0 596.2,1447.7 597.2,1447.5 598.2,1447.2 599.2,1446.9 600.2,1446.6 601.2,1446.3 602.2,1445.9 603.2,1445.5 604.2,1445.1 605.2,1444.7 606.2,1444.2 607.2,1443.7 608.2,1443.1 609.2,1442.5 610.2,1441.9 611.2,1441.3 612.2,1440.6 613.2,1439.9 614.2,1439.1 615.2,1438.3 616.2,1437.5 617.2,1436.6 618.2,1435.8 619.2,1434.9 620.2,1434.1 621.2,1433.2 622.2,1432.4 623.2,1431.6 624.2,1430.8 625.2,1430.1 626.2,1429.5 627.2,1428.9 628.2,1428.5 629.2,1428.2 630.2,1427.9 631.2,1427.7 632.2,1427.6 633.2,1427.6 634.2,1427.6 635.2,1427.6 636.2,1427.6 637.2,1427.6 638.2,1427.6 639.2,1427.6 640.2,1427.4 641.2,1427.2 642.2,1426.9 643.2,1426.5 644.2,1426.0 645.2,1425.3 646.2,1424.4 647.2,1423.3 648.2,1422.0 649.2,1420.5 650.2,1418.6 651.2,1416.5 652.2,1414.0 653.2,1411.1 654.2,1407.7 655.2,1403.8 656.2,1399.4 657.2,1394.5 658.2,1388.8 659.2,1382.5 660.2,1375.4 661.2,1367.6 662.2,1359.0 663.2,1349.6 664.2,1339.4 665.2,1328.4 666.2,1316.7 667.2,1304.4 668.2,1291.5 669.2,1278.3 670.2,1264.9 671.2,1251.6 672.2,1238.6 673.2,1226.4 674.2,1215.3 675.2,1205.8 676.2,1198.8 677.2,1195.8 678.2,1200.1 679.2,1207.7 680.2,1217.6 681.2,1229.0 682.2,1241.5 683.2,1254.6 684.2,1268.0 685.2,1281.5 686.2,1294.7 687.2,1307.6 688.2,1319.9 689.2,1331.5 690.2,1342.5 691.2,1352.6 692.2,1362.0 693.2,1370.6 694.2,1378.4 695.2,1385.5 696.2,1391.8 697.2,1397.5 698.2,1402.6 699.2,1407.1 700.2,1411.1 701.2,1414.7 702.2,1417.8 703.2,1420.6 704.2,1423.0 705.2,1425.2 706.2,1427.1 707.2,1428.8 708.2,1430.3 709.2,1431.6 710.2,1432.8 711.2,1433.9 712.2,1434.9 713.2,1435.8 714.2,1436.6 715.2,1437.3 716.2,1438.0 717.2,1438.7 718.2,1439.3 719.2,1439.8 720.2,1440.3 721.2,1440.8 722.2,1441.3 723.2,1441.7 724.2,1442.1 725.2,1442.5 726.2,1442.9 727.2,1443.2 728.2,1443.6 729.2,1443.9 730.2,1444.2 731.2,1444.5 732.2,1444.8 733.2,1445.1 734.2,1445.3 735.2,1445.6 736.2,1445.8 737.2,1446.1 738.2,1446.3 739.2,1446.5 740.2,1446.7 741.2,1446.9 742.2,1447.1 743.2,1447.3 744.2,1447.5 745.2,1447.6 746.2,1447.8 747.2,1448.0 748.2,1448.1 749.2,1448.3 750.2,1448.4 751.2,1448.6 752.2,1448.7 753.2,1448.8 754.2,1449.0 755.2,1449.1 756.2,1449.2 757.2,1449.3 758.2,1449.4 759.2,1449.5 760.2,1449.7 761.2,1449.8 762.2,1449.9 763.2,1450.0 764.2,1450.0 765.2,1450.1 766.2,1450.2 767.2,1450.3 768.2,1450.4 769.2,1450.5 770.2,1450.6 771.2,1450.6 772.2,1450.7 773.2,1450.8 774.2,1450.8 775.2,1450.9 776.2,1451.0 777.2,1451.0 778.2,1451.1 779.2,1451.2 780.2,1451.2 781.2,1451.3 782.2,1451.3 783.2,1451.4 784.2,1451.4 785.2,1451.5 786.2,1451.6 787.2,1451.6 788.2,1451.7 789.2,1451.7 790.2,1451.7 791.2,1451.8 792.2,1451.8 793.2,1451.9 794.2,1451.9 795.2,1452.0 796.2,1452.0 797.2,1452.0 798.2,1452.1 799.2,1452.1 800.2,1452.1 801.2,1452.2 802.2,1452.2 803.2,1452.3 804.2,1452.3 805.2,1452.3 806.2,1452.4 807.2,1452.4 808.2,1452.4 809.2,1452.4 810.2,1452.5 811.2,1452.5 812.2,1452.5 813.2,1452.6 814.2,1452.6 815.2,1452.6 816.2,1452.6 817.2,1452.7 818.2,1452.7 819.2,1452.7 820.2,1452.7 821.2,1452.8 822.2,1452.8 823.2,1452.8 824.2,1452.8 825.2,1452.8 826.2,1452.9 827.2,1452.9 828.2,1452.9 829.2,1452.9 830.2,1452.9 831.2,1453.0 832.2,1453.0 833.2,1453.0 834.2,1453.0 835.2,1453.0 836.2,1453.1 837.2,1453.1 838.2,1453.1 839.2,1453.1 840.2,1453.1 841.2,1453.1 842.2,1453.2 843.2,1453.2 844.2,1453.2 845.2,1453.2 846.2,1453.2 847.2,1453.2 848.2,1453.2 849.2,1453.3 850.2,1453.3 851.2,1453.3 852.2,1453.3 853.2,1453.3 854.2,1453.3 855.2,1453.3 856.2,1453.4 857.2,1453.4 858.2,1453.4 859.2,1453.4 860.2,1453.4 861.2,1453.4 862.2,1453.4 863.2,1453.4 864.2,1453.4 865.2,1453.5 866.2,1453.5 867.2,1453.5 868.2,1453.5 869.2,1453.5 870.2,1453.5 871.2,1453.5 872.2,1453.5 873.2,1453.5 874.2,1453.5 875.2,1453.6 876.2,1453.6 877.2,1453.6 878.2,1453.6 879.2,1453.6 880.2,1453.6 881.2,1453.6 882.2,1453.6 883.2,1453.6 884.2,1453.6 885.2,1453.6 886.2,1453.7 887.2,1453.7 888.2,1453.7 889.2,1453.7 890.2,1453.7 891.2,1453.7 892.2,1453.7 893.2,1453.7 894.2,1453.7 895.2,1453.7 896.2,1453.7 897.2,1453.7 898.2,1453.7 899.2,1453.7 900.2,1453.8 901.2,1453.8 902.2,1453.8 903.2,1453.8 904.2,1453.8 905.2,1453.8 906.2,1453.8 907.2,1453.8 908.2,1453.8 909.2,1453.8 910.2,1453.8 911.2,1453.8 912.2,1453.8 913.2,1453.8 914.2,1453.8 915.2,1453.8 916.2,1453.8 917.2,1453.9 918.2,1453.9 919.2,1453.9 920.2,1453.9 921.2,1453.9 922.2,1453.9 923.2,1453.9 924.2,1453.9 925.2,1453.9 926.2,1453.9 927.2,1453.9 928.2,1453.9 929.2,1453.9 930.2,1453.9 931.2,1453.9 932.2,1453.9 933.2,1453.9 934.2,1453.9 935.2,1453.9 936.2,1453.9 937.2,1453.9 938.2,1454.0 939.2,1454.0 940.2,1454.0 941.2,1454.0 942.2,1454.0 943.2,1454.0 944.2,1454.0 945.2,1454.0 946.2,1454.0 947.2,1454.0 948.2,1454.0 949.2,1454.0 950.2,1454.0 951.2,1454.0 952.2,1454.0 953.2,1454.0 954.2,1454.0 955.2,1454.0" fill="none" stroke="#000" stroke-width="1.2" stroke-linejoin="round" />
<polyline points="414.2,1426.1 415.2,1429.4 416.2,1431.9 417.2,1436.5 418.2,1436.6 419.2,1430.5 420.2,1424.1 421.2,1418.1 422.2,1417.6 423.2,1414.4 424.2,1414.3 425.2,1418.7 426.2,1423.3 427.2,1424.4 428.2,1422.9 429.2,1418.9 430.2,1415.8 431.2,1413.1 432.2,1411.6 433.2,1414.2 434.2,1417.4 435.2,1420.5 436.2,1423.0 437.2,1424.2 438.2,1426.2 439.2,1426.6 440.2,1429.4 441.2,1429.1 442.2,1429.2 443.2,1428.4 444.2,1426.9 445.2,1426.3 446.2,1425.2 447.2,1426.5 448.2,1428.7 449.2,1430.3 450.2,1428.9 451.2,1426.9 452.2,1424.2 453.2,1422.6 454.2,1419.7 455.2,1419.4 456.2,1418.5 457.2,1413.4 458.2,1406.0 459.2,1409.7 460.2,1415.2 461.2,1417.3 462.2,1418.6 463.2,1419.5 464.2,1419.4 465.2,1419.1 466.2,1414.8 467.2,1412.3 468.2,1409.2 469.2,1405.6 470.2,1400.5 471.2,1397.8 472.2,1394.2 473.2,1392.9 474.2,1390.4 475.2,1391.2 476.2,1395.4 477.2,1397.3 478.2,1399.0 479.2,1399.7 480.2,1401.0 481.2,1400.5 482.2,1401.9 483.2,1401.7 484.2,1397.5 485.2,1392.0 486.2,1396.9 487.2,1401.6 488.2,1398.6 489.2,1395.8 490.2,1400.4 491.2,1410.0 492.2,1411.6 493.2,1414.4 494.2,1417.4 495.2,1420.1 496.2,1415.2 497.2,1410.0 498.2,1407.4 499.2,1405.0 500.2,1402.0 501.2,1401.5 502.2,1407.4 503.2,1412.3 504.2,1417.8 505.2,1417.7 506.2,1417.9 507.2,1418.7 508.2,1418.9 509.2,1418.5 510.2,1414.2 511.2,1408.8 512.2,1406.8 513.2,1407.7 514.2,1409.3 515.2,1409.1 516.2,1412.4 517.2,1417.0 518.2,1420.2 519.2,1424.0 520.2,1427.7 521.2,1428.2 522.2,1425.9 523.2,1424.2 524.2,1423.5 525.2,1422.8 526.2,1422.6 527.2,1424.0 528.2,1424.6 529.2,1424.2 530.2,1425.6 531.2,1423.9 532.2,1421.8 533.2,1420.2 534.2,1418.1 535.2,1416.6 536.2,1417.9 537.2,1418.2 538.2,1420.0 539.2,1417.2 540.2,1414.9 541.2,1411.8 542.2,1413.6 543.2,1418.0 544.2,1424.0 545.2,1425.4 546.2,1424.4 547.2,1423.0 548.2,1420.9 549.2,1419.2 550.2,1418.2 551.2,1420.3 552.2,1422.4 553.2,1424.4 554.2,1426.3 555.2,1421.3 556.2,1416.8 557.2,1416.0 558.2,1422.3 559.2,1429.4 560.2,1427.9 561.2,1425.8 562.2,1421.1 563.2,1418.7 564.2,1416.2 565.2,1415.7 566.2,1414.8 567.2,1413.2 568.2,1414.7 569.2,1419.0 570.2,1422.6 571.2,1423.2 572.2,1423.5 573.2,1422.8 574.2,1422.4 575.2,1422.5 576.2,1422.2 577.2,1418.5 578.2,1416.0 579.2,1413.4 580.2,1417.5 581.2,1420.9 582.2,1424.0 583.2,1425.2 584.2,1422.8 585.2,1419.8 586.2,1416.8 587.2,1415.7 588.2,1417.3 589.2,1418.4 590.2,1419.9 591.2,1421.0 592.2,1422.1 593.2,1423.9 594.2,1425.1 595.2,1423.4 596.2,1421.4 597.2,1417.9 598.2,1414.5 599.2,1412.3 600.2,1408.8 601.2,1408.4 602.2,1407.2 603.2,1407.7 604.2,1406.3 605.2,1406.3 606.2,1409.4 607.2,1409.8 608.2,1412.7 609.2,1413.5 610.2,1412.0 611.2,1410.7 612.2,1409.2 613.2,1407.9 614.2,1406.4 615.2,1403.0 616.2,1399.1 617.2,1398.3 618.2,1396.6 619.2,1396.8 620.2,1395.4 621.2,1394.7 622.2,1394.6 623.2,1390.3 624.2,1388.5 625.2,1390.0 626.2,1393.4 627.2,1393.6 628.2,1390.6 629.2,1389.3 630.2,1386.5 631.2,1384.4 632.2,1382.7 633.2,1387.4 634.2,1390.7 635.2,1390.8 636.2,1391.2 637.2,1390.2 638.2,1391.0 639.2,1389.7 640.2,1389.6 641.2,1389.4 642.2,1388.3 643.2,1386.8 644.2,1385.2 645.2,1382.6 646.2,1381.7 647.2,1378.9 648.2,1374.8 649.2,1376.5 650.2,1381.3 651.2,1383.2 652.2,1385.1 653.2,1385.7 654.2,1377.1 655.2,1368.5 656.2,1358.5 657.2,1350.8 658.2,1346.0 659.2,1340.5 660.2,1335.6 661.2,1329.2 662.2,1322.5 663.2,1314.6 664.2,1305.9 665.2,1296.1 666.2,1286.5 667.2,1275.4 668.2,1265.3 669.2,1252.3 670.2,1227.8 671.2,1204.7 672.2,1190.1 673.2,1180.6 674.2,1162.6 675.2,1152.8 676.2,1147.5 677.2,1144.4 678.2,1148.3 679.2,1160.1 680.2,1179.2 681.2,1200.6 682.2,1217.9 683.2,1237.0 684.2,1256.5 685.2,1268.8 686.2,1279.9 687.2,1289.3 688.2,1299.8 689.2,1309.0 690.2,1318.3 691.2,1326.5 692.2,1332.9 693.2,1339.2 694.2,1344.9 695.2,1348.6 696.2,1353.9 697.2,1359.0 698.2,1362.3 699.2,1366.9 700.2,1368.5 701.2,1374.3 702.2,1379.4 703.2,1384.2 704.2,1387.7 705.2,1391.9 706.2,1395.4 707.2,1396.7 708.2,1398.2 709.2,1398.6 710.2,1399.7 711.2,1400.7 712.2,1403.2 713.2,1405.3 714.2,1407.1 715.2,1411.6 716.2,1415.5 717.2,1416.8 718.2,1419.4 719.2,1421.1 720.2,1422.5 721.2,1420.7 722.2,1412.9 723.2,1408.9 724.2,1415.4 725.2,1416.6 726.2,1417.5 727.2,1416.8 728.2,1416.6 729.2,1416.8 730.2,1416.2 731.2,1416.0 732.2,1415.8 733.2,1415.0 734.2,1415.3 735.2,1414.2 736.2,1416.3 737.2,1419.1 738.2,1423.5 739.2,1425.3 740.2,1426.4 741.2,1425.2 742.2,1426.3 743.2,1425.4 744.2,1428.4 745.2,1437.2 746.2,1438.6 747.2,1435.2 748.2,1430.2 749.2,1427.1 750.2,1425.2 751.2,1423.9 752.2,1424.7 753.2,1422.5 754.2,1422.5 755.2,1419.2 756.2,1415.0 757.2,1410.9 758.2,1406.8 759.2,1411.3 760.2,1415.7 761.2,1418.7 762.2,1424.1 763.2,1426.0 764.2,1426.2 765.2,1427.5 766.2,1429.0 767.2,1429.7 768.2,1429.5 769.2,1433.0 770.2,1437.5 771.2,1437.3 772.2,1431.5 773.2,1426.2 774.2,1426.0 775.2,1427.0 776.2,1430.6 777.2,1429.4 778.2,1424.8 779.2,1419.4 780.2,1420.7 781.2,1421.3 782.2,1422.5 783.2,1424.0 784.2,1426.0 785.2,1427.1 786.2,1425.7 787.2,1423.4 788.2,1419.8 789.2,1420.7 790.2,1420.8 791.2,1422.5 792.2,1423.8 793.2,1424.6 794.2,1424.0 795.2,1421.9 796.2,1420.3 797.2,1419.8 798.2,1417.7 799.2,1415.9 800.2,1414.6 801.2,1415.2 802.2,1417.1 803.2,1418.3 804.2,1419.9 805.2,1419.8 806.2,1418.2 807.2,1415.2 808.2,1411.1 809.2,1413.0 810.2,1415.1 811.2,1416.1 812.2,1417.6 813.2,1421.2 814.2,1421.1 815.2,1424.3 816.2,1425.4 817.2,1421.3 818.2,1415.2 819.2,1409.4 820.2,1405.0 821.2,1407.9 822.2,1410.2 823.2,1414.8 824.2,1414.8 825.2,1415.4 826.2,1415.1 827.2,1415.1 828.2,1414.9 829.2,1414.1 830.2,1410.9 831.2,1408.9 832.2,1414.8 833.2,1421.0 834.2,1417.8 835.2,1410.6 836.2,1413.4 837.2,1418.6 838.2,1421.2 839.2,1419.9 840.2,1417.3 841.2,1418.5 842.2,1420.9 843.2,1423.6 844.2,1422.6 845.2,1420.6 846.2,1420.2 847.2,1422.8 848.2,1423.9 849.2,1425.5 850.2,1423.1 851.2,1421.9 852.2,1425.9 853.2,1429.6 854.2,1431.8 855.2,1430.8 856.2,1428.9 857.2,1425.6 858.2,1423.4 859.2,1420.7 860.2,1420.8 861.2,1421.1 862.2,1422.6 863.2,1421.1 864.2,1415.1 865.2,1411.1 866.2,1410.4 867.2,1412.4 868.2,1412.7 869.2,1413.8 870.2,1415.0 871.2,1413.0 872.2,1411.6 873.2,1409.6 874.2,1405.7 875.2,1404.1 876.2,1400.7 877.2,1399.3 878.2,1399.4 879.2,1400.6 880.2,1401.5 881.2,1401.4 882.2,1402.3 883.2,1403.0 884.2,1404.4 885.2,1403.7 886.2,1401.5 887.2,1402.4 888.2,1406.8 889.2,1411.9 890.2,1416.3 891.2,1422.2 892.2,1416.0 893.2,1410.9 894.2,1411.7 895.2,1416.5 896.2,1416.8 897.2,1413.1 898.2,1419.1 899.2,1425.5 900.2,1422.3 901.2,1412.6 902.2,1411.8 903.2,1416.2 904.2,1422.0 905.2,1427.2 906.2,1432.7 907.2,1431.8 908.2,1429.3 909.2,1426.5 910.2,1423.1 911.2,1421.2 912.2,1428.4 913.2,1435.7 914.2,1436.2 915.2,1429.1 916.2,1423.8 917.2,1424.8 918.2,1429.7 919.2,1433.8 920.2,1433.3 921.2,1432.8 922.2,1430.5 923.2,1430.3 924.2,1428.2 925.2,1425.0 926.2,1419.2 927.2,1415.7 928.2,1416.4 929.2,1419.7 930.2,1422.8 931.2,1422.7 932.2,1419.2 933.2,1415.2 934.2,1412.3 935.2,1415.3 936.2,1421.1 937.2,1422.0 938.2,1423.9 939.2,1424.6 940.2,1425.2 941.2,1426.6 942.2,1427.3 943.2,1425.7 944.2,1421.7 945.2,1418.7 946.2,1420.3 947.2,1423.4 948.2,1425.3 949.2,1425.3 950.2,1423.9 951.2,1420.5 952.2,1421.0 953.2,1421.3 954.2,1421.7 955.2,1422.0" fill="none" stroke="#000" stroke-width="1.45" stroke-linejoin="round" />
<line x1="399.5" y1="1821.2" x2="967.4" y2="1821.2" stroke="#000" stroke-width="1.3"/>
<path d="M399.7,1821.2v5 M405.4,1821.2v1.8 M411.0,1821.2v1.8 M416.7,1821.2v1.8 M422.4,1821.2v1.8 M428.1,1821.2v3.5 M433.7,1821.2v1.8 M439.4,1821.2v1.8 M445.1,1821.2v1.8 M450.7,1821.2v1.8 M456.4,1821.2v5 M462.1,1821.2v1.8 M467.7,1821.2v1.8 M473.4,1821.2v1.8 M479.1,1821.2v1.8 M484.8,1821.2v3.5 M490.4,1821.2v1.8 M496.1,1821.2v1.8 M501.8,1821.2v1.8 M507.4,1821.2v1.8 M513.1,1821.2v5 M518.8,1821.2v1.8 M524.4,1821.2v1.8 M530.1,1821.2v1.8 M535.8,1821.2v1.8 M541.5,1821.2v3.5 M547.1,1821.2v1.8 M552.8,1821.2v1.8 M558.5,1821.2v1.8 M564.1,1821.2v1.8 M569.8,1821.2v5 M575.5,1821.2v1.8 M581.1,1821.2v1.8 M586.8,1821.2v1.8 M592.5,1821.2v1.8 M598.2,1821.2v3.5 M603.8,1821.2v1.8 M609.5,1821.2v1.8 M615.2,1821.2v1.8 M620.8,1821.2v1.8 M626.5,1821.2v5 M632.2,1821.2v1.8 M637.8,1821.2v1.8 M643.5,1821.2v1.8 M649.2,1821.2v1.8 M654.9,1821.2v3.5 M660.5,1821.2v1.8 M666.2,1821.2v1.8 M671.9,1821.2v1.8 M677.5,1821.2v1.8 M683.2,1821.2v5 M688.9,1821.2v1.8 M694.5,1821.2v1.8 M700.2,1821.2v1.8 M705.9,1821.2v1.8 M711.6,1821.2v3.5 M717.2,1821.2v1.8 M722.9,1821.2v1.8 M728.6,1821.2v1.8 M734.2,1821.2v1.8 M739.9,1821.2v5 M745.6,1821.2v1.8 M751.2,1821.2v1.8 M756.9,1821.2v1.8 M762.6,1821.2v1.8 M768.2,1821.2v3.5 M773.9,1821.2v1.8 M779.6,1821.2v1.8 M785.3,1821.2v1.8 M790.9,1821.2v1.8 M796.6,1821.2v5 M802.3,1821.2v1.8 M807.9,1821.2v1.8 M813.6,1821.2v1.8 M819.3,1821.2v1.8 M825.0,1821.2v3.5 M830.6,1821.2v1.8 M836.3,1821.2v1.8 M842.0,1821.2v1.8 M847.6,1821.2v1.8 M853.3,1821.2v5 M859.0,1821.2v1.8 M864.6,1821.2v1.8 M870.3,1821.2v1.8 M876.0,1821.2v1.8 M881.7,1821.2v3.5 M887.3,1821.2v1.8 M893.0,1821.2v1.8 M898.7,1821.2v1.8 M904.3,1821.2v1.8 M910.0,1821.2v5 M915.7,1821.2v1.8 M921.3,1821.2v1.8 M927.0,1821.2v1.8 M932.7,1821.2v1.8 M938.4,1821.2v3.5 M944.0,1821.2v1.8 M949.7,1821.2v1.8 M955.4,1821.2v1.8 M961.0,1821.2v1.8 M966.7,1821.2v5" stroke="#000" stroke-width="1.2" fill="none"/>
<line x1="399.5" y1="1808" x2="967.4" y2="1808" stroke="#000" stroke-width="2.2"/>
<polyline points="443.5,1807.6 444.5,1807.6 445.5,1807.6 446.5,1807.6 447.5,1807.6 448.5,1807.6 449.5,1807.6 450.5,1807.6 451.5,1807.6 452.5,1807.6 453.5,1807.6 454.5,1807.6 455.5,1807.6 456.5,1807.6 457.5,1807.6 458.5,1807.5 459.5,1807.5 460.5,1807.5 461.5,1807.5 462.5,1807.5 463.5,1807.5 464.5,1807.5 465.5,1807.5 466.5,1807.5 467.5,1807.5 468.5,1807.5 469.5,1807.5 470.5,1807.5 471.5,1807.5 472.5,1807.5 473.5,1807.5 474.5,1807.5 475.5,1807.5 476.5,1807.5 477.5,1807.5 478.5,1807.5 479.5,1807.5 480.5,1807.4 481.5,1807.4 482.5,1807.4 483.5,1807.4 484.5,1807.4 485.5,1807.4 486.5,1807.4 487.5,1807.4 488.5,1807.4 489.5,1807.4 490.5,1807.4 491.5,1807.4 492.5,1807.4 493.5,1807.4 494.5,1807.4 495.5,1807.4 496.5,1807.4 497.5,1807.3 498.5,1807.3 499.5,1807.3 500.5,1807.3 501.5,1807.3 502.5,1807.3 503.5,1807.3 504.5,1807.3 505.5,1807.3 506.5,1807.3 507.5,1807.3 508.5,1807.3 509.5,1807.3 510.5,1807.2 511.5,1807.2 512.5,1807.2 513.5,1807.2 514.5,1807.2 515.5,1807.2 516.5,1807.2 517.5,1807.2 518.5,1807.2 519.5,1807.2 520.5,1807.2 521.5,1807.1 522.5,1807.1 523.5,1807.1 524.5,1807.1 525.5,1807.1 526.5,1807.1 527.5,1807.1 528.5,1807.1 529.5,1807.1 530.5,1807.0 531.5,1807.0 532.5,1807.0 533.5,1807.0 534.5,1807.0 535.5,1807.0 536.5,1807.0 537.5,1807.0 538.5,1806.9 539.5,1806.9 540.5,1806.9 541.5,1806.9 542.5,1806.9 543.5,1806.9 544.5,1806.9 545.5,1806.8 546.5,1806.8 547.5,1806.8 548.5,1806.8 549.5,1806.8 550.5,1806.8 551.5,1806.7 552.5,1806.7 553.5,1806.7 554.5,1806.7 555.5,1806.7 556.5,1806.6 557.5,1806.6 558.5,1806.6 559.5,1806.6 560.5,1806.6 561.5,1806.5 562.5,1806.5 563.5,1806.5 564.5,1806.5 565.5,1806.4 566.5,1806.4 567.5,1806.4 568.5,1806.4 569.5,1806.3 570.5,1806.3 571.5,1806.3 572.5,1806.3 573.5,1806.2 574.5,1806.2 575.5,1806.2 576.5,1806.1 577.5,1806.1 578.5,1806.1 579.5,1806.0 580.5,1806.0 581.5,1806.0 582.5,1805.9 583.5,1805.9 584.5,1805.9 585.5,1805.8 586.5,1805.8 587.5,1805.7 588.5,1805.7 589.5,1805.7 590.5,1805.6 591.5,1805.6 592.5,1805.5 593.5,1805.5 594.5,1805.4 595.5,1805.4 596.5,1805.3 597.5,1805.3 598.5,1805.2 599.5,1805.1 600.5,1805.1 601.5,1805.0 602.5,1805.0 603.5,1804.9 604.5,1804.8 605.5,1804.8 606.5,1804.7 607.5,1804.6 608.5,1804.5 609.5,1804.4 610.5,1804.4 611.5,1804.3 612.5,1804.2 613.5,1804.1 614.5,1804.0 615.5,1803.9 616.5,1803.7 617.5,1803.6 618.5,1803.5 619.5,1803.4 620.5,1803.2 621.5,1803.1 622.5,1802.9 623.5,1802.7 624.5,1802.5 625.5,1802.3 626.5,1802.1 627.5,1801.8 628.5,1801.5 629.5,1801.2 630.5,1800.9 631.5,1800.6 632.5,1800.2 633.5,1799.7 634.5,1799.2 635.5,1798.7 636.5,1798.1 637.5,1797.5 638.5,1796.7 639.5,1795.9 640.5,1795.0 641.5,1794.1 642.5,1793.0 643.5,1791.8 644.5,1790.4 645.5,1789.0 646.5,1787.3 647.5,1785.6 648.5,1783.6 649.5,1781.5 650.5,1779.1 651.5,1776.5 652.5,1773.7 653.5,1770.6 654.5,1767.3 655.5,1763.7 656.5,1759.8 657.5,1755.6 658.5,1751.1 659.5,1746.2 660.5,1741.0 661.5,1735.5 662.5,1729.6 663.5,1723.4 664.5,1716.9 665.5,1710.0 666.5,1702.8 667.5,1695.4 668.5,1687.6 669.5,1679.7 670.5,1671.5 671.5,1663.1 672.5,1654.7 673.5,1646.2 674.5,1637.7 675.5,1629.1 676.5,1620.7 677.5,1612.3 678.5,1604.0 679.5,1595.6 680.5,1587.1 681.5,1579.0 682.5,1573.1 683.5,1573.1 684.5,1579.0 685.5,1587.1 686.5,1595.6 687.5,1604.0 688.5,1612.3 689.5,1620.7 690.5,1629.1 691.5,1637.7 692.5,1646.2 693.5,1654.7 694.5,1663.1 695.5,1671.5 696.5,1679.7 697.5,1687.6 698.5,1695.4 699.5,1702.8 700.5,1710.0 701.5,1716.9 702.5,1723.4 703.5,1729.6 704.5,1735.5 705.5,1741.0 706.5,1746.2 707.5,1751.1 708.5,1755.6 709.5,1759.8 710.5,1763.7 711.5,1767.3 712.5,1770.6 713.5,1773.7 714.5,1776.5 715.5,1779.1 716.5,1781.5 717.5,1783.6 718.5,1785.6 719.5,1787.3 720.5,1789.0 721.5,1790.4 722.5,1791.8 723.5,1793.0 724.5,1794.1 725.5,1795.0 726.5,1795.9 727.5,1796.7 728.5,1797.5 729.5,1798.1 730.5,1798.7 731.5,1799.2 732.5,1799.7 733.5,1800.2 734.5,1800.6 735.5,1800.9 736.5,1801.2 737.5,1801.5 738.5,1801.8 739.5,1802.1 740.5,1802.3 741.5,1802.5 742.5,1802.7 743.5,1802.9 744.5,1803.1 745.5,1803.2 746.5,1803.4 747.5,1803.5 748.5,1803.6 749.5,1803.7 750.5,1803.9 751.5,1804.0 752.5,1804.1 753.5,1804.2 754.5,1804.3 755.5,1804.4 756.5,1804.4 757.5,1804.5 758.5,1804.6 759.5,1804.7 760.5,1804.8 761.5,1804.8 762.5,1804.9 763.5,1805.0 764.5,1805.0 765.5,1805.1 766.5,1805.1 767.5,1805.2 768.5,1805.3 769.5,1805.3 770.5,1805.4 771.5,1805.4 772.5,1805.5 773.5,1805.5 774.5,1805.6 775.5,1805.6 776.5,1805.7 777.5,1805.7 778.5,1805.7 779.5,1805.8 780.5,1805.8 781.5,1805.9 782.5,1805.9 783.5,1805.9 784.5,1806.0 785.5,1806.0 786.5,1806.0 787.5,1806.1 788.5,1806.1 789.5,1806.1 790.5,1806.2 791.5,1806.2 792.5,1806.2 793.5,1806.3 794.5,1806.3 795.5,1806.3 796.5,1806.3 797.5,1806.4 798.5,1806.4 799.5,1806.4 800.5,1806.4 801.5,1806.5 802.5,1806.5 803.5,1806.5 804.5,1806.5 805.5,1806.6 806.5,1806.6 807.5,1806.6 808.5,1806.6 809.5,1806.6 810.5,1806.7 811.5,1806.7 812.5,1806.7 813.5,1806.7 814.5,1806.7 815.5,1806.8 816.5,1806.8 817.5,1806.8 818.5,1806.8 819.5,1806.8 820.5,1806.8 821.5,1806.9 822.5,1806.9 823.5,1806.9 824.5,1806.9 825.5,1806.9 826.5,1806.9 827.5,1806.9 828.5,1807.0 829.5,1807.0 830.5,1807.0 831.5,1807.0 832.5,1807.0 833.5,1807.0 834.5,1807.0 835.5,1807.0 836.5,1807.1 837.5,1807.1 838.5,1807.1 839.5,1807.1 840.5,1807.1 841.5,1807.1 842.5,1807.1 843.5,1807.1 844.5,1807.1 845.5,1807.2 846.5,1807.2 847.5,1807.2 848.5,1807.2 849.5,1807.2 850.5,1807.2 851.5,1807.2 852.5,1807.2 853.5,1807.2 854.5,1807.2 855.5,1807.2 856.5,1807.3 857.5,1807.3 858.5,1807.3 859.5,1807.3 860.5,1807.3 861.5,1807.3 862.5,1807.3 863.5,1807.3 864.5,1807.3 865.5,1807.3 866.5,1807.3 867.5,1807.3 868.5,1807.3 869.5,1807.4 870.5,1807.4 871.5,1807.4 872.5,1807.4 873.5,1807.4 874.5,1807.4 875.5,1807.4 876.5,1807.4 877.5,1807.4 878.5,1807.4 879.5,1807.4 880.5,1807.4 881.5,1807.4 882.5,1807.4 883.5,1807.4 884.5,1807.4 885.5,1807.4 886.5,1807.5 887.5,1807.5 888.5,1807.5 889.5,1807.5 890.5,1807.5 891.5,1807.5 892.5,1807.5 893.5,1807.5 894.5,1807.5 895.5,1807.5 896.5,1807.5 897.5,1807.5 898.5,1807.5 899.5,1807.5 900.5,1807.5 901.5,1807.5 902.5,1807.5 903.5,1807.5 904.5,1807.5 905.5,1807.5 906.5,1807.5 907.5,1807.5 908.5,1807.6 909.5,1807.6 910.5,1807.6 911.5,1807.6 912.5,1807.6 913.5,1807.6 914.5,1807.6 915.5,1807.6 916.5,1807.6 917.5,1807.6 918.5,1807.6 919.5,1807.6 920.5,1807.6 921.5,1807.6 922.5,1807.6" fill="none" stroke="#000" stroke-width="1.2" stroke-linejoin="round" />
<polyline points="532.5,1807.6 533.5,1807.6 534.5,1807.6 535.5,1807.6 536.5,1807.6 537.5,1807.6 538.5,1807.6 539.5,1807.5 540.5,1807.5 541.5,1807.5 542.5,1807.5 543.5,1807.5 544.5,1807.5 545.5,1807.5 546.5,1807.5 547.5,1807.5 548.5,1807.4 549.5,1807.4 550.5,1807.4 551.5,1807.4 552.5,1807.4 553.5,1807.4 554.5,1807.4 555.5,1807.3 556.5,1807.3 557.5,1807.3 558.5,1807.3 559.5,1807.3 560.5,1807.2 561.5,1807.2 562.5,1807.2 563.5,1807.2 564.5,1807.1 565.5,1807.1 566.5,1807.1 567.5,1807.0 568.5,1807.0 569.5,1807.0 570.5,1806.9 571.5,1806.9 572.5,1806.9 573.5,1806.8 574.5,1806.8 575.5,1806.7 576.5,1806.6 577.5,1806.6 578.5,1806.5 579.5,1806.4 580.5,1806.4 581.5,1806.3 582.5,1806.2 583.5,1806.1 584.5,1806.0 585.5,1805.9 586.5,1805.8 587.5,1805.7 588.5,1805.5 589.5,1805.4 590.5,1805.2 591.5,1805.1 592.5,1804.9 593.5,1804.7 594.5,1804.5 595.5,1804.3 596.5,1804.1 597.5,1803.9 598.5,1803.7 599.5,1803.4 600.5,1803.2 601.5,1802.9 602.5,1802.6 603.5,1802.3 604.5,1802.0 605.5,1801.7 606.5,1801.3 607.5,1801.0 608.5,1800.7 609.5,1800.3 610.5,1799.9 611.5,1799.5 612.5,1799.2 613.5,1798.8 614.5,1798.4 615.5,1798.0 616.5,1797.6 617.5,1797.2 618.5,1796.9 619.5,1796.5 620.5,1796.2 621.5,1795.9 622.5,1795.6 623.5,1795.3 624.5,1795.1 625.5,1794.9 626.5,1794.7 627.5,1794.6 628.5,1794.5 629.5,1794.5 630.5,1794.5 631.5,1794.6 632.5,1794.7 633.5,1794.9 634.5,1795.1 635.5,1795.3 636.5,1795.6 637.5,1795.9 638.5,1796.2 639.5,1796.5 640.5,1796.9 641.5,1797.2 642.5,1797.6 643.5,1798.0 644.5,1798.4 645.5,1798.8 646.5,1799.2 647.5,1799.5 648.5,1799.9 649.5,1800.3 650.5,1800.7 651.5,1801.0 652.5,1801.3 653.5,1801.7 654.5,1802.0 655.5,1802.3 656.5,1802.6 657.5,1802.9 658.5,1803.2 659.5,1803.4 660.5,1803.7 661.5,1803.9 662.5,1804.1 663.5,1804.3 664.5,1804.5 665.5,1804.7 666.5,1804.9 667.5,1805.1 668.5,1805.2 669.5,1805.4 670.5,1805.5 671.5,1805.7 672.5,1805.8 673.5,1805.9 674.5,1806.0 675.5,1806.1 676.5,1806.2 677.5,1806.3 678.5,1806.4 679.5,1806.4 680.5,1806.5 681.5,1806.6 682.5,1806.6 683.5,1806.7 684.5,1806.8 685.5,1806.8 686.5,1806.9 687.5,1806.9 688.5,1806.9 689.5,1807.0 690.5,1807.0 691.5,1807.0 692.5,1807.1 693.5,1807.1 694.5,1807.1 695.5,1807.2 696.5,1807.2 697.5,1807.2 698.5,1807.2 699.5,1807.3 700.5,1807.3 701.5,1807.3 702.5,1807.3 703.5,1807.3 704.5,1807.4 705.5,1807.4 706.5,1807.4 707.5,1807.4 708.5,1807.4 709.5,1807.4 710.5,1807.4 711.5,1807.5 712.5,1807.5 713.5,1807.5 714.5,1807.5 715.5,1807.5 716.5,1807.5 717.5,1807.5 718.5,1807.5 719.5,1807.5 720.5,1807.6 721.5,1807.6 722.5,1807.6 723.5,1807.6 724.5,1807.6 725.5,1807.6 726.5,1807.6" fill="none" stroke="#000" stroke-width="1.2" stroke-linejoin="round" />
<polyline points="399.5,1785.6 400.5,1785.6 401.5,1785.6 402.5,1785.6 403.5,1785.6 404.5,1785.6 405.5,1785.6 406.5,1785.6 407.5,1785.6 408.5,1785.6 409.5,1785.6 410.5,1785.6 411.5,1785.6 412.5,1785.6 413.5,1785.6 414.5,1785.6 415.5,1785.6 416.5,1785.6 417.5,1785.6 418.5,1785.6 419.5,1785.6 420.5,1785.6 421.5,1785.6 422.5,1785.6 423.5,1785.6 424.5,1785.6 425.5,1785.6 426.5,1785.6 427.5,1785.6 428.5,1785.6 429.5,1785.5 430.5,1785.5 431.5,1785.5 432.5,1785.5 433.5,1785.5 434.5,1785.5 435.5,1785.5 436.5,1785.5 437.5,1785.5 438.5,1785.5 439.5,1785.5 440.5,1785.5 441.5,1785.5 442.5,1785.5 443.5,1785.5 444.5,1785.5 445.5,1785.5 446.5,1785.5 447.5,1785.5 448.5,1785.5 449.5,1785.5 450.5,1785.5 451.5,1785.5 452.5,1785.4 453.5,1785.4 454.5,1785.4 455.5,1785.4 456.5,1785.4 457.5,1785.4 458.5,1785.4 459.5,1785.4 460.5,1785.4 461.5,1785.4 462.5,1785.4 463.5,1785.4 464.5,1785.4 465.5,1785.4 466.5,1785.4 467.5,1785.4 468.5,1785.4 469.5,1785.4 470.5,1785.3 471.5,1785.3 472.5,1785.3 473.5,1785.3 474.5,1785.3 475.5,1785.3 476.5,1785.3 477.5,1785.3 478.5,1785.3 479.5,1785.3 480.5,1785.3 481.5,1785.3 482.5,1785.3 483.5,1785.3 484.5,1785.2 485.5,1785.2 486.5,1785.2 487.5,1785.2 488.5,1785.2 489.5,1785.2 490.5,1785.2 491.5,1785.2 492.5,1785.2 493.5,1785.2 494.5,1785.2 495.5,1785.1 496.5,1785.1 497.5,1785.1 498.5,1785.1 499.5,1785.1 500.5,1785.1 501.5,1785.1 502.5,1785.1 503.5,1785.1 504.5,1785.1 505.5,1785.0 506.5,1785.0 507.5,1785.0 508.5,1785.0 509.5,1785.0 510.5,1785.0 511.5,1785.0 512.5,1785.0 513.5,1784.9 514.5,1784.9 515.5,1784.9 516.5,1784.9 517.5,1784.9 518.5,1784.9 519.5,1784.9 520.5,1784.8 521.5,1784.8 522.5,1784.8 523.5,1784.8 524.5,1784.8 525.5,1784.8 526.5,1784.7 527.5,1784.7 528.5,1784.7 529.5,1784.7 530.5,1784.7 531.5,1784.6 532.5,1784.6 533.5,1784.6 534.5,1784.6 535.5,1784.6 536.5,1784.5 537.5,1784.5 538.5,1784.5 539.5,1784.5 540.5,1784.5 541.5,1784.4 542.5,1784.4 543.5,1784.4 544.5,1784.3 545.5,1784.3 546.5,1784.3 547.5,1784.3 548.5,1784.2 549.5,1784.2 550.5,1784.2 551.5,1784.1 552.5,1784.1 553.5,1784.1 554.5,1784.0 555.5,1784.0 556.5,1784.0 557.5,1783.9 558.5,1783.9 559.5,1783.8 560.5,1783.8 561.5,1783.8 562.5,1783.7 563.5,1783.7 564.5,1783.6 565.5,1783.6 566.5,1783.5 567.5,1783.4 568.5,1783.4 569.5,1783.3 570.5,1783.3 571.5,1783.2 572.5,1783.1 573.5,1783.0 574.5,1783.0 575.5,1782.9 576.5,1782.8 577.5,1782.7 578.5,1782.6 579.5,1782.5 580.5,1782.4 581.5,1782.3 582.5,1782.1 583.5,1782.0 584.5,1781.9 585.5,1781.7 586.5,1781.6 587.5,1781.4 588.5,1781.2 589.5,1781.0 590.5,1780.9 591.5,1780.6 592.5,1780.4 593.5,1780.2 594.5,1780.0 595.5,1779.7 596.5,1779.4 597.5,1779.2 598.5,1778.9 599.5,1778.6 600.5,1778.2 601.5,1777.9 602.5,1777.6 603.5,1777.2 604.5,1776.8 605.5,1776.4 606.5,1776.0 607.5,1775.6 608.5,1775.2 609.5,1774.7 610.5,1774.3 611.5,1773.8 612.5,1773.3 613.5,1772.9 614.5,1772.4 615.5,1771.9 616.5,1771.4 617.5,1770.9 618.5,1770.4 619.5,1769.9 620.5,1769.4 621.5,1768.9 622.5,1768.5 623.5,1768.0 624.5,1767.6 625.5,1767.2 626.5,1766.8 627.5,1766.4 628.5,1766.1 629.5,1765.7 630.5,1765.4 631.5,1765.1 632.5,1764.9 633.5,1764.6 634.5,1764.3 635.5,1764.0 636.5,1763.7 637.5,1763.3 638.5,1762.9 639.5,1762.5 640.5,1761.9 641.5,1761.3 642.5,1760.6 643.5,1759.8 644.5,1758.8 645.5,1757.7 646.5,1756.5 647.5,1755.1 648.5,1753.5 649.5,1751.7 650.5,1749.7 651.5,1747.5 652.5,1745.0 653.5,1742.3 654.5,1739.3 655.5,1736.0 656.5,1732.4 657.5,1728.5 658.5,1724.2 659.5,1719.6 660.5,1714.7 661.5,1709.4 662.5,1703.7 663.5,1697.8 664.5,1691.4 665.5,1684.7 666.5,1677.7 667.5,1670.4 668.5,1662.9 669.5,1655.0 670.5,1647.0 671.5,1638.8 672.5,1630.5 673.5,1622.1 674.5,1613.7 675.5,1605.3 676.5,1596.9 677.5,1588.6 678.5,1580.4 679.5,1572.1 680.5,1563.7 681.5,1555.6 682.5,1549.7 683.5,1549.8 684.5,1555.8 685.5,1563.9 686.5,1572.5 687.5,1580.9 688.5,1589.3 689.5,1597.7 690.5,1606.2 691.5,1614.7 692.5,1623.3 693.5,1631.8 694.5,1640.3 695.5,1648.7 696.5,1656.9 697.5,1664.8 698.5,1672.6 699.5,1680.1 700.5,1687.3 701.5,1694.2 702.5,1700.7 703.5,1707.0 704.5,1712.8 705.5,1718.4 706.5,1723.6 707.5,1728.5 708.5,1733.0 709.5,1737.2 710.5,1741.1 711.5,1744.8 712.5,1748.1 713.5,1751.2 714.5,1754.0 715.5,1756.6 716.5,1759.0 717.5,1761.1 718.5,1763.1 719.5,1764.9 720.5,1766.5 721.5,1768.0 722.5,1769.3 723.5,1770.5 724.5,1771.6 725.5,1772.6 726.5,1773.5 727.5,1774.3 728.5,1775.1 729.5,1775.7 730.5,1776.3 731.5,1776.9 732.5,1777.4 733.5,1777.8 734.5,1778.2 735.5,1778.6 736.5,1778.9 737.5,1779.2 738.5,1779.5 739.5,1779.8 740.5,1780.0 741.5,1780.2 742.5,1780.4 743.5,1780.6 744.5,1780.8 745.5,1780.9 746.5,1781.1 747.5,1781.2 748.5,1781.4 749.5,1781.5 750.5,1781.6 751.5,1781.7 752.5,1781.8 753.5,1781.9 754.5,1782.0 755.5,1782.1 756.5,1782.2 757.5,1782.3 758.5,1782.4 759.5,1782.5 760.5,1782.5 761.5,1782.6 762.5,1782.7 763.5,1782.7 764.5,1782.8 765.5,1782.9 766.5,1782.9 767.5,1783.0 768.5,1783.1 769.5,1783.1 770.5,1783.2 771.5,1783.2 772.5,1783.3 773.5,1783.3 774.5,1783.4 775.5,1783.4 776.5,1783.5 777.5,1783.5 778.5,1783.6 779.5,1783.6 780.5,1783.7 781.5,1783.7 782.5,1783.7 783.5,1783.8 784.5,1783.8 785.5,1783.9 786.5,1783.9 787.5,1783.9 788.5,1784.0 789.5,1784.0 790.5,1784.0 791.5,1784.1 792.5,1784.1 793.5,1784.1 794.5,1784.2 795.5,1784.2 796.5,1784.2 797.5,1784.2 798.5,1784.3 799.5,1784.3 800.5,1784.3 801.5,1784.3 802.5,1784.4 803.5,1784.4 804.5,1784.4 805.5,1784.4 806.5,1784.5 807.5,1784.5 808.5,1784.5 809.5,1784.5 810.5,1784.5 811.5,1784.6 812.5,1784.6 813.5,1784.6 814.5,1784.6 815.5,1784.6 816.5,1784.7 817.5,1784.7 818.5,1784.7 819.5,1784.7 820.5,1784.7 821.5,1784.8 822.5,1784.8 823.5,1784.8 824.5,1784.8 825.5,1784.8 826.5,1784.8 827.5,1784.8 828.5,1784.9 829.5,1784.9 830.5,1784.9 831.5,1784.9 832.5,1784.9 833.5,1784.9 834.5,1784.9 835.5,1785.0 836.5,1785.0 837.5,1785.0 838.5,1785.0 839.5,1785.0 840.5,1785.0 841.5,1785.0 842.5,1785.0 843.5,1785.1 844.5,1785.1 845.5,1785.1 846.5,1785.1 847.5,1785.1 848.5,1785.1 849.5,1785.1 850.5,1785.1 851.5,1785.1 852.5,1785.1 853.5,1785.2 854.5,1785.2 855.5,1785.2 856.5,1785.2 857.5,1785.2 858.5,1785.2 859.5,1785.2 860.5,1785.2 861.5,1785.2 862.5,1785.2 863.5,1785.2 864.5,1785.2 865.5,1785.3 866.5,1785.3 867.5,1785.3 868.5,1785.3 869.5,1785.3 870.5,1785.3 871.5,1785.3 872.5,1785.3 873.5,1785.3 874.5,1785.3 875.5,1785.3 876.5,1785.3 877.5,1785.3 878.5,1785.3 879.5,1785.4 880.5,1785.4 881.5,1785.4 882.5,1785.4 883.5,1785.4 884.5,1785.4 885.5,1785.4 886.5,1785.4 887.5,1785.4 888.5,1785.4 889.5,1785.4 890.5,1785.4 891.5,1785.4 892.5,1785.4 893.5,1785.4 894.5,1785.4 895.5,1785.4 896.5,1785.4 897.5,1785.5 898.5,1785.5 899.5,1785.5 900.5,1785.5 901.5,1785.5 902.5,1785.5 903.5,1785.5 904.5,1785.5 905.5,1785.5 906.5,1785.5 907.5,1785.5 908.5,1785.5 909.5,1785.5 910.5,1785.5 911.5,1785.5 912.5,1785.5 913.5,1785.5 914.5,1785.5 915.5,1785.5 916.5,1785.5 917.5,1785.5 918.5,1785.5 919.5,1785.5 920.5,1785.5 921.5,1785.6 922.5,1785.6 923.5,1785.6 924.5,1785.6 925.5,1785.6 926.5,1785.6 927.5,1785.6 928.5,1785.6 929.5,1785.6 930.5,1785.6 931.5,1785.6 932.5,1785.6 933.5,1785.6 934.5,1785.6 935.5,1785.6 936.5,1785.6 937.5,1785.6 938.5,1785.6 939.5,1785.6 940.5,1785.6 941.5,1785.6 942.5,1785.6 943.5,1785.6 944.5,1785.6 945.5,1785.6 946.5,1785.6 947.5,1785.6 948.5,1785.6 949.5,1785.6 950.5,1785.6 951.5,1785.6 952.5,1785.6 953.5,1785.6 954.5,1785.7 955.5,1785.7 956.5,1785.7 957.5,1785.7 958.5,1785.7 959.5,1785.7 960.5,1785.7 961.5,1785.7 962.5,1785.7 963.5,1785.7 964.5,1785.7 965.5,1785.7 966.5,1785.7" fill="none" stroke="#000" stroke-width="1.2" stroke-linejoin="round" />
<polyline points="399.5,1758.5 400.5,1756.5 401.5,1755.4 402.5,1755.1 403.5,1755.9 404.5,1757.8 405.5,1754.1 406.5,1751.6 407.5,1751.4 408.5,1753.6 409.5,1754.4 410.5,1756.1 411.5,1756.3 412.5,1754.7 413.5,1752.4 414.5,1752.3 415.5,1750.0 416.5,1750.8 417.5,1752.3 418.5,1754.8 419.5,1755.5 420.5,1757.2 421.5,1757.0 422.5,1755.1 423.5,1752.1 424.5,1750.2 425.5,1749.9 426.5,1748.9 427.5,1750.8 428.5,1751.1 429.5,1751.9 430.5,1754.1 431.5,1755.9 432.5,1756.5 433.5,1754.9 434.5,1754.7 435.5,1754.2 436.5,1752.2 437.5,1755.4 438.5,1757.1 439.5,1756.4 440.5,1755.4 441.5,1753.5 442.5,1751.2 443.5,1750.0 444.5,1752.1 445.5,1755.0 446.5,1757.9 447.5,1757.2 448.5,1752.6 449.5,1748.4 450.5,1743.7 451.5,1745.0 452.5,1749.9 453.5,1754.2 454.5,1755.5 455.5,1752.0 456.5,1749.1 457.5,1746.6 458.5,1745.8 459.5,1746.7 460.5,1747.3 461.5,1748.0 462.5,1746.6 463.5,1745.7 464.5,1744.8 465.5,1738.8 466.5,1736.1 467.5,1739.8 468.5,1741.6 469.5,1738.2 470.5,1733.3 471.5,1729.6 472.5,1727.2 473.5,1727.5 474.5,1725.4 475.5,1725.0 476.5,1723.9 477.5,1723.8 478.5,1718.8 479.5,1723.7 480.5,1725.2 481.5,1727.7 482.5,1730.1 483.5,1732.6 484.5,1735.2 485.5,1736.4 486.5,1736.2 487.5,1736.5 488.5,1736.4 489.5,1733.8 490.5,1731.1 491.5,1729.9 492.5,1727.0 493.5,1729.7 494.5,1731.9 495.5,1732.4 496.5,1733.8 497.5,1733.8 498.5,1736.2 499.5,1739.8 500.5,1743.9 501.5,1744.9 502.5,1746.2 503.5,1746.8 504.5,1748.0 505.5,1748.4 506.5,1747.6 507.5,1747.2 508.5,1749.5 509.5,1750.8 510.5,1752.0 511.5,1752.1 512.5,1753.1 513.5,1753.0 514.5,1753.8 515.5,1754.4 516.5,1753.2 517.5,1752.9 518.5,1751.5 519.5,1749.0 520.5,1747.9 521.5,1747.4 522.5,1748.9 523.5,1751.0 524.5,1754.1 525.5,1755.5 526.5,1757.7 527.5,1759.6 528.5,1757.4 529.5,1755.5 530.5,1754.1 531.5,1753.1 532.5,1754.9 533.5,1759.5 534.5,1760.2 535.5,1759.5 536.5,1758.9 537.5,1758.5 538.5,1757.1 539.5,1755.7 540.5,1758.4 541.5,1759.9 542.5,1759.7 543.5,1755.9 544.5,1751.5 545.5,1748.3 546.5,1751.1 547.5,1754.1 548.5,1757.5 549.5,1759.5 550.5,1757.8 551.5,1756.5 552.5,1755.8 553.5,1753.6 554.5,1751.9 555.5,1752.1 556.5,1749.5 557.5,1749.0 558.5,1748.0 559.5,1746.5 560.5,1745.1 561.5,1744.7 562.5,1745.0 563.5,1747.1 564.5,1748.5 565.5,1751.1 566.5,1750.8 567.5,1748.5 568.5,1746.4 569.5,1744.6 570.5,1742.3 571.5,1744.0 572.5,1746.9 573.5,1750.7 574.5,1753.0 575.5,1756.2 576.5,1759.9 577.5,1761.8 578.5,1759.3 579.5,1756.9 580.5,1754.3 581.5,1752.3 582.5,1752.9 583.5,1754.1 584.5,1754.6 585.5,1752.5 586.5,1749.9 587.5,1747.5 588.5,1744.8 589.5,1743.5 590.5,1744.1 591.5,1743.9 592.5,1744.7 593.5,1740.5 594.5,1737.6 595.5,1738.0 596.5,1740.1 597.5,1741.4 598.5,1743.3 599.5,1744.9 600.5,1743.4 601.5,1742.2 602.5,1739.0 603.5,1735.4 604.5,1736.9 605.5,1738.1 606.5,1740.6 607.5,1740.0 608.5,1742.4 609.5,1743.8 610.5,1745.6 611.5,1742.2 612.5,1737.7 613.5,1733.3 614.5,1731.9 615.5,1733.4 616.5,1734.9 617.5,1734.8 618.5,1732.6 619.5,1731.8 620.5,1729.8 621.5,1729.2 622.5,1730.2 623.5,1731.2 624.5,1732.2 625.5,1735.1 626.5,1732.6 627.5,1731.4 628.5,1731.4 629.5,1729.5 630.5,1728.9 631.5,1727.2 632.5,1726.6 633.5,1724.9 634.5,1725.1 635.5,1724.9 636.5,1723.0 637.5,1724.7 638.5,1726.8 639.5,1728.4 640.5,1726.1 641.5,1724.8 642.5,1723.9 643.5,1727.2 644.5,1728.3 645.5,1730.8 646.5,1733.0 647.5,1734.3 648.5,1729.3 649.5,1723.7 650.5,1719.4 651.5,1717.2 652.5,1717.0 653.5,1714.3 654.5,1712.5 655.5,1709.2 656.5,1707.3 657.5,1704.6 658.5,1702.9 659.5,1702.1 660.5,1699.5 661.5,1694.1 662.5,1687.4 663.5,1682.2 664.5,1675.0 665.5,1668.2 666.5,1659.6 667.5,1649.6 668.5,1637.5 669.5,1626.4 670.5,1614.1 671.5,1588.0 672.5,1573.0 673.5,1564.2 674.5,1555.4 675.5,1547.0 676.5,1538.1 677.5,1531.4 678.5,1524.9 679.5,1518.6 680.5,1514.5 681.5,1509.1 682.5,1507.5 683.5,1508.7 684.5,1514.1 685.5,1521.1 686.5,1527.8 687.5,1534.5 688.5,1544.3 689.5,1555.5 690.5,1565.9 691.5,1575.6 692.5,1585.3 693.5,1596.5 694.5,1612.0 695.5,1622.6 696.5,1629.9 697.5,1636.4 698.5,1643.7 699.5,1650.0 700.5,1656.2 701.5,1661.6 702.5,1667.6 703.5,1673.6 704.5,1679.2 705.5,1683.5 706.5,1691.5 707.5,1696.1 708.5,1701.8 709.5,1707.6 710.5,1712.2 711.5,1717.7 712.5,1723.4 713.5,1728.5 714.5,1733.7 715.5,1736.7 716.5,1738.0 717.5,1739.1 718.5,1738.6 719.5,1738.0 720.5,1740.8 721.5,1743.7 722.5,1747.9 723.5,1750.1 724.5,1748.3 725.5,1745.6 726.5,1743.2 727.5,1740.4 728.5,1742.9 729.5,1744.5 730.5,1749.1 731.5,1752.3 732.5,1755.1 733.5,1754.5 734.5,1752.5 735.5,1752.7 736.5,1754.0 737.5,1756.6 738.5,1755.7 739.5,1753.8 740.5,1751.3 741.5,1752.1 742.5,1753.2 743.5,1753.4 744.5,1751.3 745.5,1749.2 746.5,1748.6 747.5,1748.1 748.5,1748.4 749.5,1751.2 750.5,1752.3 751.5,1754.4 752.5,1753.9 753.5,1752.1 754.5,1752.5 755.5,1754.9 756.5,1756.0 757.5,1757.2 758.5,1756.0 759.5,1755.6 760.5,1754.7 761.5,1752.8 762.5,1751.8 763.5,1751.4 764.5,1749.9 765.5,1750.5 766.5,1749.5 767.5,1749.2 768.5,1748.8 769.5,1749.0 770.5,1748.4 771.5,1749.3 772.5,1751.3 773.5,1751.1 774.5,1752.7 775.5,1754.2 776.5,1754.7 777.5,1752.2 778.5,1751.0 779.5,1749.0 780.5,1747.7 781.5,1750.1 782.5,1752.0 783.5,1753.5 784.5,1752.9 785.5,1750.3 786.5,1749.4 787.5,1750.1 788.5,1751.9 789.5,1752.9 790.5,1753.3 791.5,1753.1 792.5,1753.9 793.5,1753.4 794.5,1751.5 795.5,1751.5 796.5,1750.8 797.5,1750.8 798.5,1749.5 799.5,1749.9 800.5,1749.7 801.5,1750.7 802.5,1750.3 803.5,1752.8 804.5,1752.3 805.5,1753.0 806.5,1755.1 807.5,1755.9 808.5,1756.1 809.5,1755.8 810.5,1754.9 811.5,1754.0 812.5,1752.5 813.5,1752.1 814.5,1751.4 815.5,1751.6 816.5,1754.2 817.5,1755.7 818.5,1755.1 819.5,1752.8 820.5,1751.7 821.5,1751.5 822.5,1753.4 823.5,1752.9 824.5,1753.4 825.5,1753.7 826.5,1751.5 827.5,1749.2 828.5,1747.9 829.5,1748.5 830.5,1749.6 831.5,1751.3 832.5,1752.9 833.5,1753.5 834.5,1755.6 835.5,1757.4 836.5,1756.3 837.5,1754.5 838.5,1751.8 839.5,1747.7 840.5,1752.7 841.5,1757.3 842.5,1760.1 843.5,1756.1 844.5,1751.7 845.5,1746.1 846.5,1742.9 847.5,1741.8 848.5,1740.5 849.5,1741.4 850.5,1742.1 851.5,1745.2 852.5,1748.3 853.5,1751.2 854.5,1750.7 855.5,1748.8 856.5,1747.7 857.5,1749.9 858.5,1750.6 859.5,1751.4 860.5,1750.0 861.5,1748.4 862.5,1749.3 863.5,1747.8 864.5,1749.2 865.5,1756.2 866.5,1760.7 867.5,1758.7 868.5,1756.3 869.5,1754.5 870.5,1751.3 871.5,1750.6 872.5,1752.5 873.5,1754.4 874.5,1751.4 875.5,1747.1 876.5,1744.0 877.5,1741.8 878.5,1740.8 879.5,1739.0 880.5,1738.5 881.5,1736.4 882.5,1734.7 883.5,1734.5 884.5,1732.9 885.5,1729.7 886.5,1726.9 887.5,1723.2 888.5,1724.1 889.5,1727.1 890.5,1730.9 891.5,1733.9 892.5,1731.5 893.5,1730.4 894.5,1730.5 895.5,1733.0 896.5,1733.7 897.5,1735.4 898.5,1736.3 899.5,1736.2 900.5,1734.8 901.5,1735.3 902.5,1734.3 903.5,1734.2 904.5,1734.4 905.5,1731.8 906.5,1734.3 907.5,1736.5 908.5,1739.1 909.5,1741.9 910.5,1743.4 911.5,1744.6 912.5,1747.3 913.5,1749.3 914.5,1750.3 915.5,1753.1 916.5,1754.4 917.5,1754.8 918.5,1755.3 919.5,1753.3 920.5,1751.1 921.5,1749.0 922.5,1747.3 923.5,1745.5 924.5,1745.8 925.5,1744.2 926.5,1744.9 927.5,1746.1 928.5,1745.8 929.5,1747.8 930.5,1749.0 931.5,1752.2 932.5,1755.3 933.5,1758.8 934.5,1756.1 935.5,1753.0 936.5,1751.2 937.5,1751.2 938.5,1752.2 939.5,1752.4 940.5,1753.0 941.5,1754.1 942.5,1756.5 943.5,1757.1 944.5,1757.3 945.5,1757.7 946.5,1756.6 947.5,1756.4 948.5,1754.5 949.5,1753.1 950.5,1751.4 951.5,1750.6 952.5,1750.1 953.5,1751.3 954.5,1752.2 955.5,1753.4 956.5,1753.5 957.5,1754.0 958.5,1754.1 959.5,1752.1 960.5,1752.1 961.5,1750.6 962.5,1750.0 963.5,1749.3 964.5,1749.2 965.5,1753.2 966.5,1753.0" fill="none" stroke="#000" stroke-width="1.45" stroke-linejoin="round" />
<text x="385.6" y="415.0" font-family='"Liberation Serif", serif' font-size="9" text-anchor="middle" font-weight="bold">100</text>
<text x="440.8" y="415.0" font-family='"Liberation Serif", serif' font-size="9" text-anchor="middle" font-weight="bold">80</text>
<text x="496.0" y="415.0" font-family='"Liberation Serif", serif' font-size="9" text-anchor="middle" font-weight="bold">60</text>
<text x="551.2" y="415.0" font-family='"Liberation Serif", serif' font-size="9" text-anchor="middle" font-weight="bold">40</text>
<text x="606.4" y="415.0" font-family='"Liberation Serif", serif' font-size="9" text-anchor="middle" font-weight="bold">20</text>
<text x="661.6" y="415.0" font-family='"Liberation Serif", serif' font-size="9" text-anchor="middle" font-weight="bold">0</text>
<text x="716.8" y="415.0" font-family='"Liberation Serif", serif' font-size="9" text-anchor="middle" font-weight="bold">-20</text>
<text x="772.0" y="415.0" font-family='"Liberation Serif", serif' font-size="9" text-anchor="middle" font-weight="bold">-40</text>
<text x="827.2" y="415.0" font-family='"Liberation Serif", serif' font-size="9" text-anchor="middle" font-weight="bold">-60</text>
<text x="882.4" y="415.0" font-family='"Liberation Serif", serif' font-size="9" text-anchor="middle" font-weight="bold">-80</text>
<text x="928.0" y="415.0" font-family='"Liberation Serif", serif' font-size="9" text-anchor="middle" font-weight="bold">ppm</text>
<line x1="397.5" y1="1852" x2="974.5" y2="1852" stroke="#000" stroke-width="2"/>
<path d="M397.5,1852v11 M411.9,1852v4 M426.4,1852v4 M440.8,1852v4 M455.2,1852v4 M469.6,1852v11 M484.1,1852v4 M498.5,1852v4 M512.9,1852v4 M527.3,1852v4 M541.8,1852v11 M556.2,1852v4 M570.6,1852v4 M585.0,1852v4 M599.5,1852v4 M613.9,1852v11 M628.3,1852v4 M642.7,1852v4 M657.1,1852v4 M671.6,1852v4 M686.0,1852v11 M700.4,1852v4 M714.9,1852v4 M729.3,1852v4 M743.7,1852v4 M758.1,1852v11 M772.5,1852v4 M787.0,1852v4 M801.4,1852v4 M815.8,1852v4 M830.2,1852v11 M844.7,1852v4 M859.1,1852v4 M873.5,1852v4 M888.0,1852v4 M902.4,1852v11 M916.8,1852v4 M931.2,1852v4 M945.6,1852v4 M960.1,1852v4 M974.5,1852v11" stroke="#000" stroke-width="1.8" fill="none"/>
<text x="397.5" y="1912.0" font-family='"Liberation Serif", serif' font-size="33" text-anchor="middle" >100</text>
<text x="469.6" y="1912.0" font-family='"Liberation Serif", serif' font-size="33" text-anchor="middle" >75</text>
<text x="541.8" y="1912.0" font-family='"Liberation Serif", serif' font-size="33" text-anchor="middle" >50</text>
<text x="613.9" y="1912.0" font-family='"Liberation Serif", serif' font-size="33" text-anchor="middle" >25</text>
<text x="686.0" y="1912.0" font-family='"Liberation Serif", serif' font-size="33" text-anchor="middle" >0</text>
<text x="758.1" y="1912.0" font-family='"Liberation Serif", serif' font-size="33" text-anchor="middle" >-25</text>
<text x="830.2" y="1912.0" font-family='"Liberation Serif", serif' font-size="33" text-anchor="middle" >-50</text>
<text x="902.4" y="1912.0" font-family='"Liberation Serif", serif' font-size="33" text-anchor="middle" >-75</text>
<text x="974.5" y="1912.0" font-family='"Liberation Serif", serif' font-size="33" text-anchor="middle" >-100</text>
<text x="690.6" y="1952.0" font-family='"Liberation Serif", serif' font-size="41" text-anchor="middle" >ppm</text>
<text x="305.4" y="50.7" font-family='"Liberation Serif", serif' font-size="41.7" text-anchor="start" >orthophosphate</text>
<text x="306.0" y="100.9" font-family='"Liberation Serif", serif' font-size="41.7" text-anchor="start" >and P esters</text>
<text x="921.6" y="123.0" font-family='"Liberation Serif", serif' font-size="48" text-anchor="start" >plankton tow (0-200 m)</text>
<text x="943.2" y="260.0" font-family='"Liberation Serif", serif' font-size="41.7" text-anchor="start" >spinning</text>
<text x="936.0" y="309.4" font-family='"Liberation Serif", serif' font-size="41.7" text-anchor="start" >side band</text>
<text x="982.2" y="518.8" font-family='"Liberation Serif", serif' font-size="48" text-anchor="start" >275 m sediment trap</text>
<text x="324.3" y="547.3" font-family='"Liberation Serif", serif' font-size="41.5" text-anchor="start" >phosphonate</text>
<text x="983.8" y="895.6" font-family='"Liberation Serif", serif' font-size="48" text-anchor="start" >455 m sediment trap</text>
<text x="985.4" y="1274.6" font-family='"Liberation Serif", serif' font-size="48" text-anchor="start" >930 m sediment trap</text>
<text x="975.5" y="1652.0" font-family='"Liberation Serif", serif' font-size="47.6" text-anchor="start" >1255 m sediment trap</text>
<path d="M459.0,261.4 L459.0,251.9 M459.0,261.4 L468.0,258.5 M459.0,261.4 L464.6,269.1 M459.0,261.4 L453.4,269.1 M459.0,261.4 L450.0,258.5 " stroke="#000" stroke-width="3.8" fill="none"/>
<path d="M876.4,277.0 L876.4,267.5 M876.4,277.0 L885.4,274.1 M876.4,277.0 L882.0,284.7 M876.4,277.0 L870.8,284.7 M876.4,277.0 L867.4,274.1 " stroke="#000" stroke-width="3.8" fill="none"/>
<line x1="587.8" y1="118.5" x2="632.1" y2="162.0" stroke="#000" stroke-width="3.3" stroke-linecap="round"/><polygon points="642.8,172.5 623.5,166.5 636.4,153.3" fill="#000"/>
<line x1="480.4" y1="567.8" x2="581.6" y2="717.6" stroke="#000" stroke-width="3.1" stroke-linecap="round"/><polygon points="590,730 572.3,720.2 587.5,709.9" fill="#000"/>
</svg></body></html>
